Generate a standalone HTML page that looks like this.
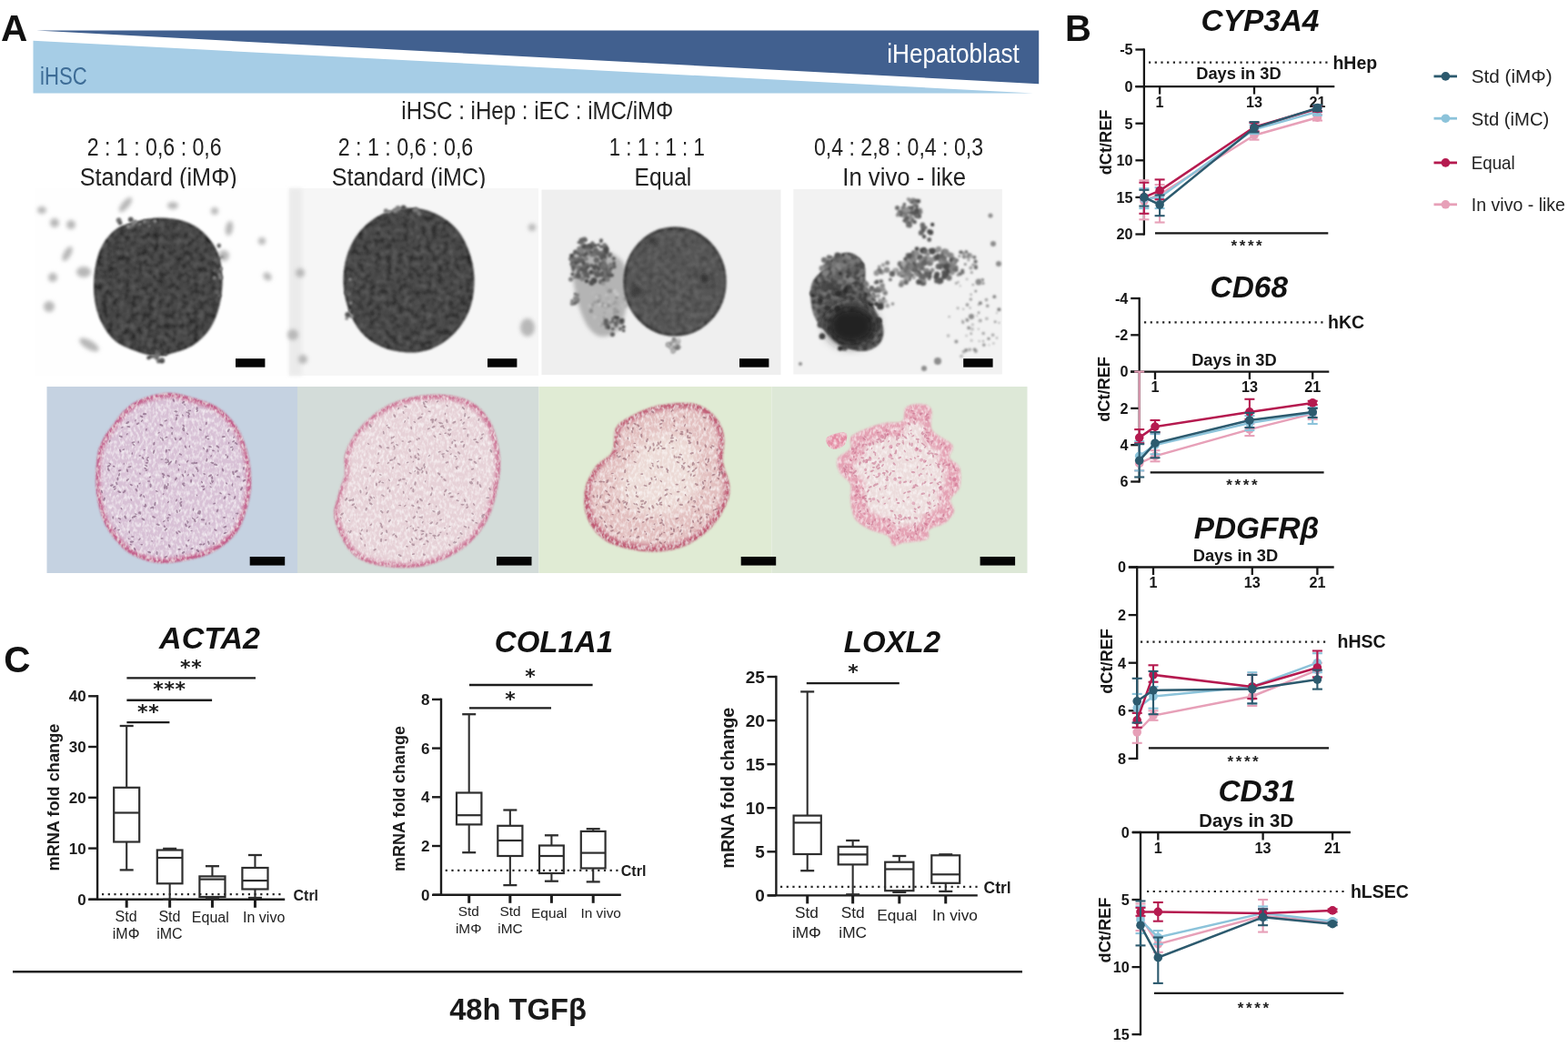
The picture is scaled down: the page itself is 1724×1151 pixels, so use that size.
<!DOCTYPE html>
<html><head><meta charset="utf-8"><title>Figure</title>
<style>html,body{margin:0;padding:0;background:#fff;} svg{display:block;}</style>
</head><body>
<svg width="1724" height="1151" viewBox="0 0 1724 1151" font-family="'Liberation Sans', Arial, sans-serif">
<defs>
<filter id="blur1" x="-20%" y="-20%" width="140%" height="140%"><feGaussianBlur stdDeviation="0.8"/></filter>
<filter id="blur2" x="-50%" y="-50%" width="200%" height="200%"><feGaussianBlur stdDeviation="2.2"/></filter>
<filter id="blur3" x="-50%" y="-50%" width="200%" height="200%"><feGaussianBlur stdDeviation="6"/></filter>
<filter id="blur25" x="-20%" y="-20%" width="140%" height="140%"><feGaussianBlur stdDeviation="2.5"/></filter>
<filter id="spher" x="-10%" y="-10%" width="120%" height="120%">
 <feTurbulence type="fractalNoise" baseFrequency="0.16" numOctaves="3" seed="4" result="n"/>
 <feColorMatrix in="n" type="matrix" values="0 0 0 0 0.36  0 0 0 0 0.36  0 0 0 0 0.36  0 0 0 0.42 -0.1" result="nm"/>
 <feComposite in="nm" in2="SourceGraphic" operator="in" result="nt"/>
 <feMerge result="m"><feMergeNode in="SourceGraphic"/><feMergeNode in="nt"/></feMerge>
 <feGaussianBlur in="m" stdDeviation="1.1"/>
</filter>
<filter id="spher2" x="-20%" y="-20%" width="140%" height="140%">
 <feTurbulence type="fractalNoise" baseFrequency="0.2" numOctaves="2" seed="9" result="n"/>
 <feColorMatrix in="n" type="matrix" values="0 0 0 0 0.3  0 0 0 0 0.3  0 0 0 0 0.3  0 0 0 1.6 -0.6" result="nm"/>
 <feComposite in="nm" in2="SourceGraphic" operator="in" result="nt"/>
 <feMerge result="m"><feMergeNode in="SourceGraphic"/><feMergeNode in="nt"/></feMerge>
 <feGaussianBlur in="m" stdDeviation="1.3"/>
</filter>
<filter id="histo" x="-5%" y="-5%" width="110%" height="110%">
 <feTurbulence type="fractalNoise" baseFrequency="0.35 0.2" numOctaves="2" seed="12" result="n"/>
 <feColorMatrix in="n" type="matrix" values="0 0 0 0 1  0 0 0 0 1  0 0 0 0 1  0 0 0 1.4 -0.55" result="nm"/>
 <feComposite in="nm" in2="SourceGraphic" operator="in" result="nt"/>
 <feMerge result="m"><feMergeNode in="SourceGraphic"/><feMergeNode in="nt"/></feMerge>
 <feGaussianBlur in="m" stdDeviation="0.7"/>
</filter>
</defs>
<rect width="1724" height="1151" fill="#fff"/>
<text x="1.0" y="45.2" font-size="40.5" text-anchor="start" font-weight="bold" font-style="normal" fill="#111" >A</text>
<polygon points="36.5,44.7 36.5,102.5 1136,102.5" fill="#a6cde6"/>
<polygon points="40,33.6 1142.2,33.6 1142.2,92.2" fill="#41608f"/>
<text x="44.0" y="93.4" font-size="27" text-anchor="start" font-weight="normal" font-style="normal" fill="#3d6c96" textLength="51.7" lengthAdjust="spacingAndGlyphs">iHSC</text>
<text x="975.3" y="69.4" font-size="29" text-anchor="start" font-weight="normal" font-style="normal" fill="#ffffff" textLength="145.5" lengthAdjust="spacingAndGlyphs">iHepatoblast</text>
<text x="441.3" y="130.5" font-size="27" text-anchor="start" font-weight="normal" font-style="normal" fill="#222" textLength="299" lengthAdjust="spacingAndGlyphs">iHSC : iHep : iEC : iMC/iMΦ</text>
<text x="95.7" y="170.5" font-size="27" text-anchor="start" font-weight="normal" font-style="normal" fill="#222" textLength="148" lengthAdjust="spacingAndGlyphs">2 : 1 : 0,6 : 0,6</text>
<text x="87.7" y="203.8" font-size="27" text-anchor="start" font-weight="normal" font-style="normal" fill="#222" textLength="173" lengthAdjust="spacingAndGlyphs">Standard (iMΦ)</text>
<text x="371.7" y="170.5" font-size="27" text-anchor="start" font-weight="normal" font-style="normal" fill="#222" textLength="148.6" lengthAdjust="spacingAndGlyphs">2 : 1 : 0,6 : 0,6</text>
<text x="364.8" y="203.8" font-size="27" text-anchor="start" font-weight="normal" font-style="normal" fill="#222" textLength="169.5" lengthAdjust="spacingAndGlyphs">Standard (iMC)</text>
<text x="669.8" y="170.5" font-size="27" text-anchor="start" font-weight="normal" font-style="normal" fill="#222" textLength="105" lengthAdjust="spacingAndGlyphs">1 : 1 : 1 : 1</text>
<text x="697.6" y="203.8" font-size="27" text-anchor="start" font-weight="normal" font-style="normal" fill="#222" textLength="62.7" lengthAdjust="spacingAndGlyphs">Equal</text>
<text x="895.0" y="170.5" font-size="27" text-anchor="start" font-weight="normal" font-style="normal" fill="#222" textLength="186" lengthAdjust="spacingAndGlyphs">0,4 : 2,8 : 0,4 : 0,3</text>
<text x="926.3" y="203.8" font-size="27" text-anchor="start" font-weight="normal" font-style="normal" fill="#222" textLength="135.7" lengthAdjust="spacingAndGlyphs">In vivo - like</text>
<rect x="38" y="207" width="280" height="206" fill="#fefefe"/>
<rect x="318" y="207" width="274" height="206" fill="#f6f6f6"/>
<rect x="318" y="207" width="14" height="206" fill="#ebebeb" filter="url(#blur2)"/>
<rect x="595.5" y="208.5" width="263" height="203.5" fill="#efefef"/>
<rect x="872.3" y="208" width="229.5" height="203.5" fill="#f2f2f2"/>
<g filter="url(#blur2)" fill="#b8b8b8">
<ellipse cx="46" cy="231" rx="5" ry="4" transform="rotate(0 46 231)"/>
<ellipse cx="60" cy="245" rx="5" ry="5" transform="rotate(0 60 245)"/>
<ellipse cx="78" cy="247" rx="5" ry="5" transform="rotate(0 78 247)"/>
<ellipse cx="138" cy="225" rx="10" ry="4" transform="rotate(-50 138 225)"/>
<ellipse cx="74" cy="279" rx="9" ry="4" transform="rotate(-60 74 279)"/>
<ellipse cx="58" cy="305" rx="5" ry="5" transform="rotate(0 58 305)"/>
<ellipse cx="92" cy="299" rx="8" ry="6" transform="rotate(0 92 299)"/>
<ellipse cx="54" cy="337" rx="6" ry="6" transform="rotate(0 54 337)"/>
<ellipse cx="98" cy="379" rx="12" ry="5" transform="rotate(30 98 379)"/>
<ellipse cx="236" cy="232" rx="4" ry="4" transform="rotate(0 236 232)"/>
<ellipse cx="252" cy="251" rx="4" ry="8" transform="rotate(10 252 251)"/>
<ellipse cx="288" cy="265" rx="4" ry="4" transform="rotate(0 288 265)"/>
<ellipse cx="294" cy="304" rx="5" ry="4" transform="rotate(40 294 304)"/>
<ellipse cx="246" cy="281" rx="6" ry="6" transform="rotate(0 246 281)"/>
<ellipse cx="190" cy="226" rx="6" ry="4" transform="rotate(0 190 226)"/>
<ellipse cx="330" cy="300" rx="5" ry="5" transform="rotate(0 330 300)"/>
<ellipse cx="322" cy="368" rx="6" ry="6" transform="rotate(0 322 368)"/>
<ellipse cx="333" cy="395" rx="5" ry="5" transform="rotate(0 333 395)"/>
<ellipse cx="580" cy="360" rx="8" ry="10" transform="rotate(0 580 360)"/>
<ellipse cx="585" cy="250" rx="4" ry="4" transform="rotate(0 585 250)"/>
</g>
<path d="M174.0,241.0 C182.3,240.8 192.0,241.5 200.0,244.0 C208.0,246.5 215.7,250.3 222.0,256.0 C228.3,261.7 234.5,269.8 238.0,278.0 C241.5,286.2 242.7,295.5 243.0,305.0 C243.3,314.5 242.2,325.8 240.0,335.0 C237.8,344.2 234.7,352.8 230.0,360.0 C225.3,367.2 218.3,373.7 212.0,378.0 C205.7,382.3 198.3,384.0 192.0,386.0 C185.7,388.0 180.3,390.0 174.0,390.0 C167.7,390.0 161.7,388.7 154.0,386.0 C146.3,383.3 135.0,379.7 128.0,374.0 C121.0,368.3 115.8,360.2 112.0,352.0 C108.2,343.8 106.0,334.5 105.0,325.0 C104.0,315.5 104.5,304.2 106.0,295.0 C107.5,285.8 110.0,277.2 114.0,270.0 C118.0,262.8 124.0,256.2 130.0,252.0 C136.0,247.8 142.7,246.8 150.0,245.0 C157.3,243.2 165.7,241.2 174.0,241.0 Z" fill="#2c2c2c" stroke="#1f1f1f" stroke-width="3" filter="url(#spher)"/>
<g filter="url(#blur1)"><circle cx="177.1" cy="396.3" r="2.2" fill="#626262"/><circle cx="174.3" cy="397.2" r="2.3" fill="#6c6c6c"/><circle cx="166.2" cy="391.9" r="2.1" fill="#3c3c3c"/><circle cx="169.3" cy="391.2" r="1.8" fill="#6b6b6b"/><circle cx="172.3" cy="393.2" r="2.6" fill="#777777"/><circle cx="178.7" cy="388.7" r="2.0" fill="#3e3e3e"/><circle cx="167.9" cy="392.0" r="2.1" fill="#757575"/><circle cx="178.1" cy="396.5" r="2.9" fill="#434343"/><circle cx="163.5" cy="393.3" r="2.2" fill="#505050"/><circle cx="172.9" cy="393.1" r="1.9" fill="#6f6f6f"/><circle cx="173.0" cy="389.3" r="2.8" fill="#767676"/><circle cx="172.3" cy="386.8" r="2.6" fill="#5e5e5e"/><circle cx="177.9" cy="394.9" r="1.8" fill="#6d6d6d"/><circle cx="182.0" cy="389.4" r="2.0" fill="#545454"/><circle cx="159.0" cy="244.5" r="3.0" fill="#474747"/><circle cx="153.5" cy="246.6" r="2.0" fill="#737373"/><circle cx="159.3" cy="243.5" r="2.0" fill="#898989"/><circle cx="130.6" cy="242.1" r="2.9" fill="#757575"/><circle cx="148.6" cy="243.9" r="2.4" fill="#838383"/><circle cx="145.9" cy="247.0" r="2.4" fill="#818181"/><circle cx="170.3" cy="243.3" r="2.3" fill="#898989"/><circle cx="143.8" cy="241.3" r="2.9" fill="#585858"/><circle cx="141.5" cy="249.1" r="2.5" fill="#888888"/><circle cx="164.2" cy="248.5" r="1.8" fill="#747474"/><circle cx="167.4" cy="246.1" r="2.9" fill="#484848"/><circle cx="132.0" cy="244.9" r="2.5" fill="#626262"/><circle cx="162.0" cy="243.6" r="2.4" fill="#606060"/><circle cx="144.3" cy="248.7" r="2.2" fill="#6c6c6c"/><circle cx="244.3" cy="282.3" r="1.6" fill="#8e8e8e"/><circle cx="237.3" cy="285.8" r="1.7" fill="#757575"/><circle cx="241.2" cy="324.9" r="2.2" fill="#5f5f5f"/><circle cx="241.4" cy="301.8" r="2.1" fill="#818181"/><circle cx="235.7" cy="297.3" r="1.6" fill="#696969"/><circle cx="240.8" cy="270.0" r="2.4" fill="#7e7e7e"/><circle cx="243.0" cy="295.6" r="2.1" fill="#858585"/><circle cx="236.3" cy="285.8" r="1.6" fill="#666666"/><circle cx="235.8" cy="305.5" r="2.2" fill="#797979"/><circle cx="238.7" cy="286.7" r="2.0" fill="#5c5c5c"/><circle cx="240.9" cy="283.8" r="1.6" fill="#585858"/><circle cx="242.5" cy="305.1" r="2.7" fill="#787878"/><circle cx="238.5" cy="321.3" r="2.0" fill="#646464"/><circle cx="240.6" cy="270.8" r="1.7" fill="#626262"/></g>
<path d="M449.0,230.0 C458.7,229.8 469.2,232.0 478.0,236.0 C486.8,240.0 495.7,246.3 502.0,254.0 C508.3,261.7 513.0,272.3 516.0,282.0 C519.0,291.7 520.3,302.0 520.0,312.0 C519.7,322.0 517.7,333.0 514.0,342.0 C510.3,351.0 504.7,359.3 498.0,366.0 C491.3,372.7 482.3,378.7 474.0,382.0 C465.7,385.3 457.0,386.3 448.0,386.0 C439.0,385.7 428.3,383.7 420.0,380.0 C411.7,376.3 404.0,371.0 398.0,364.0 C392.0,357.0 387.2,347.3 384.0,338.0 C380.8,328.7 379.0,318.0 379.0,308.0 C379.0,298.0 380.8,287.0 384.0,278.0 C387.2,269.0 392.0,260.8 398.0,254.0 C404.0,247.2 411.5,241.0 420.0,237.0 C428.5,233.0 439.3,230.2 449.0,230.0 Z" fill="#2f2f2f" stroke="#222" stroke-width="3" filter="url(#spher)"/>
<g filter="url(#blur1)"><circle cx="443.6" cy="228.4" r="3.0" fill="#525252"/><circle cx="456.0" cy="235.1" r="2.6" fill="#4c4c4c"/><circle cx="461.2" cy="234.7" r="2.6" fill="#787878"/><circle cx="427.3" cy="233.3" r="1.7" fill="#8b8b8b"/><circle cx="424.7" cy="231.6" r="2.2" fill="#797979"/><circle cx="440.8" cy="235.7" r="2.6" fill="#4b4b4b"/><circle cx="454.5" cy="230.7" r="2.0" fill="#5c5c5c"/><circle cx="434.4" cy="231.4" r="2.9" fill="#848484"/><circle cx="439.4" cy="235.5" r="1.6" fill="#4a4a4a"/><circle cx="437.6" cy="228.9" r="3.0" fill="#7f7f7f"/><circle cx="457.2" cy="230.4" r="2.9" fill="#797979"/><circle cx="463.6" cy="233.6" r="1.7" fill="#505050"/><circle cx="428.7" cy="232.4" r="1.7" fill="#8a8a8a"/><circle cx="424.0" cy="231.9" r="2.3" fill="#7b7b7b"/><circle cx="381.2" cy="350.2" r="1.8" fill="#8b8b8b"/><circle cx="386.2" cy="312.7" r="2.9" fill="#525252"/><circle cx="383.9" cy="346.6" r="2.4" fill="#6d6d6d"/><circle cx="386.4" cy="347.5" r="2.3" fill="#8a8a8a"/><circle cx="384.9" cy="307.2" r="1.8" fill="#898989"/><circle cx="382.3" cy="345.9" r="3.0" fill="#575757"/><circle cx="383.2" cy="322.9" r="2.1" fill="#787878"/><circle cx="384.6" cy="341.2" r="1.6" fill="#707070"/><circle cx="381.4" cy="321.7" r="2.8" fill="#585858"/><circle cx="385.6" cy="333.1" r="1.8" fill="#898989"/></g>
<path d="M640.0,272.0 C645.3,270.2 654.7,271.5 662.0,274.0 C669.3,276.5 679.3,281.0 684.0,287.0 C688.7,293.0 689.3,301.2 690.0,310.0 C690.7,318.8 689.7,331.3 688.0,340.0 C686.3,348.7 684.3,357.0 680.0,362.0 C675.7,367.0 667.5,370.3 662.0,370.0 C656.5,369.7 651.3,365.8 647.0,360.0 C642.7,354.2 638.8,344.2 636.0,335.0 C633.2,325.8 631.0,313.3 630.0,305.0 C629.0,296.7 628.3,290.5 630.0,285.0 C631.7,279.5 634.7,273.8 640.0,272.0 Z" fill="#b4b4b4" filter="url(#blur2)"/>
<g filter="url(#blur1)"><circle cx="660.7" cy="290.6" r="2.8" fill="#5d5d5d"/><circle cx="657.6" cy="295.6" r="3.0" fill="#535353"/><circle cx="665.4" cy="305.1" r="1.8" fill="#6d6d6d"/><circle cx="635.0" cy="286.7" r="3.4" fill="#5e5e5e"/><circle cx="655.1" cy="291.7" r="2.3" fill="#7e7e7e"/><circle cx="656.8" cy="302.0" r="3.3" fill="#5b5b5b"/><circle cx="655.0" cy="299.9" r="2.6" fill="#696969"/><circle cx="674.8" cy="284.2" r="2.0" fill="#5b5b5b"/><circle cx="665.4" cy="271.3" r="2.9" fill="#474747"/><circle cx="666.2" cy="276.9" r="3.0" fill="#535353"/><circle cx="650.6" cy="280.4" r="2.0" fill="#6c6c6c"/><circle cx="666.6" cy="293.3" r="2.3" fill="#5a5a5a"/><circle cx="637.6" cy="274.0" r="3.4" fill="#7f7f7f"/><circle cx="675.1" cy="289.2" r="1.9" fill="#585858"/><circle cx="638.3" cy="278.6" r="1.8" fill="#6e6e6e"/><circle cx="660.8" cy="309.8" r="2.9" fill="#6a6a6a"/><circle cx="665.5" cy="297.9" r="2.8" fill="#7c7c7c"/><circle cx="663.5" cy="289.5" r="3.0" fill="#616161"/><circle cx="630.3" cy="296.7" r="1.8" fill="#676767"/><circle cx="673.0" cy="302.7" r="1.9" fill="#4d4d4d"/><circle cx="640.8" cy="306.0" r="2.5" fill="#797979"/><circle cx="628.9" cy="290.2" r="2.3" fill="#565656"/><circle cx="636.2" cy="278.6" r="1.8" fill="#484848"/><circle cx="666.3" cy="304.3" r="3.4" fill="#6f6f6f"/><circle cx="653.4" cy="279.0" r="3.4" fill="#737373"/><circle cx="650.4" cy="291.9" r="2.1" fill="#5c5c5c"/><circle cx="654.5" cy="294.2" r="3.2" fill="#4d4d4d"/><circle cx="671.4" cy="295.3" r="1.9" fill="#525252"/><circle cx="658.1" cy="279.1" r="2.4" fill="#515151"/><circle cx="645.6" cy="275.0" r="2.3" fill="#797979"/><circle cx="630.2" cy="287.2" r="2.9" fill="#616161"/><circle cx="642.7" cy="291.7" r="3.0" fill="#4d4d4d"/><circle cx="651.2" cy="268.7" r="2.6" fill="#6f6f6f"/><circle cx="664.1" cy="307.6" r="2.4" fill="#4d4d4d"/><circle cx="662.2" cy="300.5" r="2.4" fill="#585858"/><circle cx="647.4" cy="274.3" r="3.0" fill="#545454"/><circle cx="649.8" cy="270.1" r="2.7" fill="#474747"/><circle cx="662.5" cy="283.2" r="3.1" fill="#525252"/><circle cx="641.2" cy="300.5" r="2.3" fill="#777777"/><circle cx="655.8" cy="299.7" r="2.9" fill="#5a5a5a"/><circle cx="636.6" cy="304.2" r="2.0" fill="#494949"/><circle cx="639.3" cy="279.2" r="3.3" fill="#636363"/><circle cx="650.1" cy="299.2" r="2.5" fill="#484848"/><circle cx="646.8" cy="304.5" r="1.6" fill="#464646"/><circle cx="635.5" cy="303.1" r="3.2" fill="#585858"/><circle cx="637.5" cy="283.3" r="2.0" fill="#747474"/><circle cx="633.1" cy="277.6" r="2.2" fill="#666666"/><circle cx="668.2" cy="299.5" r="2.3" fill="#515151"/><circle cx="627.7" cy="284.4" r="2.5" fill="#6e6e6e"/><circle cx="661.1" cy="280.5" r="2.8" fill="#5d5d5d"/><circle cx="640.5" cy="286.5" r="3.1" fill="#5e5e5e"/><circle cx="653.1" cy="308.5" r="3.3" fill="#484848"/><circle cx="646.0" cy="278.5" r="3.0" fill="#808080"/><circle cx="664.0" cy="294.1" r="3.4" fill="#636363"/><circle cx="655.6" cy="293.7" r="1.7" fill="#585858"/><circle cx="636.0" cy="298.7" r="1.9" fill="#606060"/><circle cx="675.1" cy="292.9" r="2.5" fill="#606060"/><circle cx="630.7" cy="292.5" r="3.1" fill="#7c7c7c"/><circle cx="649.8" cy="277.3" r="1.8" fill="#505050"/><circle cx="655.9" cy="285.9" r="3.2" fill="#686868"/><circle cx="644.9" cy="302.3" r="3.3" fill="#5f5f5f"/><circle cx="642.4" cy="271.5" r="2.9" fill="#484848"/><circle cx="636.3" cy="294.2" r="2.9" fill="#767676"/><circle cx="670.9" cy="279.9" r="2.4" fill="#7c7c7c"/><circle cx="630.4" cy="283.3" r="1.8" fill="#616161"/><circle cx="631.1" cy="279.5" r="1.8" fill="#7a7a7a"/><circle cx="642.9" cy="297.1" r="3.3" fill="#5a5a5a"/><circle cx="639.2" cy="295.9" r="2.4" fill="#565656"/><circle cx="644.6" cy="278.7" r="2.0" fill="#515151"/><circle cx="650.5" cy="310.9" r="3.0" fill="#505050"/><circle cx="669.9" cy="302.3" r="3.0" fill="#555555"/><circle cx="645.4" cy="292.5" r="3.0" fill="#4b4b4b"/><circle cx="634.5" cy="286.0" r="2.8" fill="#5b5b5b"/><circle cx="645.6" cy="290.6" r="2.2" fill="#6a6a6a"/><circle cx="663.0" cy="276.6" r="1.8" fill="#747474"/><circle cx="646.6" cy="273.4" r="3.2" fill="#797979"/><circle cx="633.0" cy="284.6" r="2.1" fill="#747474"/><circle cx="629.8" cy="284.6" r="2.6" fill="#696969"/><circle cx="667.8" cy="272.9" r="1.7" fill="#555555"/><circle cx="644.4" cy="284.5" r="2.5" fill="#808080"/><circle cx="629.0" cy="285.8" r="1.9" fill="#7a7a7a"/><circle cx="641.4" cy="292.7" r="1.8" fill="#616161"/><circle cx="663.1" cy="280.8" r="3.2" fill="#5d5d5d"/><circle cx="658.7" cy="278.6" r="2.8" fill="#636363"/><circle cx="655.7" cy="297.5" r="1.9" fill="#797979"/><circle cx="646.1" cy="271.8" r="2.2" fill="#696969"/><circle cx="666.4" cy="274.8" r="3.2" fill="#4a4a4a"/><circle cx="642.9" cy="281.0" r="1.8" fill="#505050"/><circle cx="661.0" cy="271.2" r="1.9" fill="#5a5a5a"/><circle cx="667.0" cy="296.3" r="1.7" fill="#575757"/><circle cx="645.0" cy="309.0" r="2.3" fill="#494949"/><circle cx="641.6" cy="289.2" r="1.7" fill="#484848"/><circle cx="667.9" cy="307.1" r="2.9" fill="#797979"/><circle cx="664.0" cy="282.6" r="3.2" fill="#545454"/><circle cx="632.4" cy="276.9" r="2.3" fill="#5b5b5b"/><circle cx="647.1" cy="269.8" r="2.1" fill="#4f4f4f"/><circle cx="671.4" cy="291.4" r="2.6" fill="#7d7d7d"/><circle cx="664.9" cy="304.7" r="1.8" fill="#6c6c6c"/><circle cx="670.1" cy="280.8" r="2.2" fill="#636363"/><circle cx="661.5" cy="302.7" r="2.0" fill="#5b5b5b"/><circle cx="639.2" cy="275.8" r="3.3" fill="#7f7f7f"/><circle cx="630.5" cy="294.0" r="2.4" fill="#5c5c5c"/><circle cx="628.5" cy="281.1" r="2.4" fill="#484848"/><circle cx="639.9" cy="306.9" r="2.4" fill="#7f7f7f"/><circle cx="669.6" cy="298.1" r="2.8" fill="#696969"/><circle cx="654.9" cy="275.2" r="3.0" fill="#666666"/><circle cx="664.6" cy="291.8" r="3.4" fill="#6f6f6f"/><circle cx="664.9" cy="285.9" r="2.1" fill="#808080"/><circle cx="642.1" cy="292.6" r="2.3" fill="#6a6a6a"/><circle cx="641.9" cy="270.2" r="2.8" fill="#4d4d4d"/><circle cx="676.2" cy="340.2" r="2.5" fill="#9e9e9e"/><circle cx="651.0" cy="335.5" r="1.9" fill="#929292"/><circle cx="676.0" cy="320.5" r="2.4" fill="#c4c4c4"/><circle cx="667.6" cy="335.5" r="1.4" fill="#b9b9b9"/><circle cx="685.1" cy="336.2" r="2.4" fill="#bebebe"/><circle cx="676.6" cy="331.9" r="1.4" fill="#909090"/><circle cx="674.6" cy="333.9" r="1.2" fill="#959595"/><circle cx="671.7" cy="336.4" r="1.4" fill="#a1a1a1"/><circle cx="660.9" cy="356.5" r="2.3" fill="#969696"/><circle cx="666.9" cy="317.0" r="2.3" fill="#aeaeae"/><circle cx="659.8" cy="329.0" r="1.5" fill="#9f9f9f"/><circle cx="651.9" cy="348.9" r="1.3" fill="#a5a5a5"/><circle cx="650.2" cy="338.1" r="2.2" fill="#a6a6a6"/><circle cx="672.2" cy="338.2" r="1.3" fill="#b3b3b3"/><circle cx="664.0" cy="349.1" r="1.3" fill="#979797"/><circle cx="687.5" cy="336.0" r="2.5" fill="#b5b5b5"/><circle cx="648.5" cy="336.2" r="2.1" fill="#bfbfbf"/><circle cx="653.9" cy="332.3" r="1.7" fill="#999999"/><circle cx="666.5" cy="324.5" r="1.9" fill="#bebebe"/><circle cx="653.6" cy="321.8" r="1.4" fill="#b2b2b2"/><circle cx="668.0" cy="335.8" r="2.5" fill="#8d8d8d"/><circle cx="651.6" cy="322.0" r="1.6" fill="#bababa"/><circle cx="686.8" cy="330.3" r="1.3" fill="#a7a7a7"/><circle cx="664.6" cy="343.9" r="1.3" fill="#a1a1a1"/><circle cx="663.5" cy="311.9" r="2.3" fill="#989898"/><circle cx="656.0" cy="326.6" r="1.7" fill="#c2c2c2"/><circle cx="669.6" cy="331.0" r="1.5" fill="#c5c5c5"/><circle cx="686.8" cy="335.5" r="2.1" fill="#b7b7b7"/><circle cx="669.2" cy="320.3" r="1.6" fill="#929292"/><circle cx="687.0" cy="328.2" r="1.8" fill="#999999"/><circle cx="649.9" cy="342.0" r="2.4" fill="#8c8c8c"/><circle cx="667.7" cy="352.8" r="1.3" fill="#939393"/><circle cx="678.5" cy="323.6" r="2.4" fill="#c6c6c6"/><circle cx="668.1" cy="328.4" r="2.6" fill="#afafaf"/><circle cx="662.9" cy="334.9" r="2.6" fill="#979797"/><circle cx="677.8" cy="333.3" r="2.2" fill="#9f9f9f"/><circle cx="659.4" cy="334.5" r="2.1" fill="#c7c7c7"/><circle cx="666.0" cy="337.7" r="2.3" fill="#aaaaaa"/><circle cx="670.6" cy="341.4" r="2.5" fill="#b7b7b7"/><circle cx="658.2" cy="346.5" r="1.9" fill="#b2b2b2"/><circle cx="675.3" cy="344.1" r="1.5" fill="#989898"/><circle cx="678.6" cy="342.9" r="2.4" fill="#999999"/><circle cx="659.4" cy="356.2" r="1.6" fill="#bcbcbc"/><circle cx="676.6" cy="350.0" r="1.9" fill="#a8a8a8"/><circle cx="678.4" cy="347.2" r="1.8" fill="#b9b9b9"/><circle cx="667.4" cy="358.0" r="2.6" fill="#9d9d9d"/><circle cx="667.6" cy="333.9" r="1.4" fill="#a6a6a6"/><circle cx="670.9" cy="319.8" r="2.5" fill="#919191"/><circle cx="672.7" cy="317.2" r="1.3" fill="#aeaeae"/><circle cx="678.9" cy="333.6" r="1.9" fill="#ababab"/><circle cx="665.3" cy="335.6" r="1.9" fill="#c1c1c1"/><circle cx="653.5" cy="348.8" r="2.2" fill="#bfbfbf"/><circle cx="677.9" cy="327.2" r="1.7" fill="#929292"/><circle cx="653.8" cy="322.3" r="2.1" fill="#b8b8b8"/><circle cx="654.8" cy="323.4" r="1.2" fill="#aeaeae"/><circle cx="657.9" cy="331.4" r="2.1" fill="#909090"/><circle cx="673.7" cy="324.3" r="2.1" fill="#b4b4b4"/><circle cx="660.2" cy="314.6" r="1.3" fill="#b5b5b5"/><circle cx="659.2" cy="325.5" r="2.1" fill="#a5a5a5"/><circle cx="675.3" cy="351.9" r="1.3" fill="#c4c4c4"/><circle cx="638.5" cy="265.6" r="1.9" fill="#787878"/><circle cx="641.3" cy="262.6" r="1.8" fill="#7d7d7d"/><circle cx="642.7" cy="263.5" r="2.9" fill="#696969"/><circle cx="639.5" cy="267.2" r="2.5" fill="#7f7f7f"/><circle cx="647.2" cy="271.7" r="1.6" fill="#686868"/><circle cx="639.3" cy="264.2" r="2.8" fill="#656565"/><circle cx="660.7" cy="265.7" r="1.7" fill="#727272"/><circle cx="664.9" cy="270.4" r="1.8" fill="#5e5e5e"/><circle cx="661.0" cy="264.3" r="2.0" fill="#565656"/><circle cx="650.4" cy="271.7" r="2.3" fill="#505050"/><circle cx="646.6" cy="272.1" r="1.7" fill="#595959"/><circle cx="664.6" cy="269.3" r="2.3" fill="#757575"/><circle cx="654.4" cy="269.9" r="2.0" fill="#555555"/><circle cx="657.9" cy="269.3" r="1.8" fill="#5a5a5a"/><circle cx="643.8" cy="264.1" r="2.0" fill="#676767"/><circle cx="636.2" cy="266.5" r="1.6" fill="#5f5f5f"/><circle cx="640.2" cy="268.5" r="1.7" fill="#777777"/><circle cx="651.4" cy="267.4" r="2.2" fill="#6b6b6b"/><circle cx="666.1" cy="355.4" r="2.8" fill="#6b6b6b"/><circle cx="673.4" cy="367.6" r="2.6" fill="#626262"/><circle cx="676.4" cy="348.4" r="2.0" fill="#535353"/><circle cx="674.1" cy="350.5" r="2.0" fill="#6b6b6b"/><circle cx="677.2" cy="357.7" r="2.1" fill="#6a6a6a"/><circle cx="685.7" cy="359.3" r="1.9" fill="#484848"/><circle cx="673.8" cy="361.5" r="1.6" fill="#4e4e4e"/><circle cx="678.0" cy="355.6" r="1.6" fill="#4e4e4e"/><circle cx="683.5" cy="354.0" r="3.0" fill="#6f6f6f"/><circle cx="668.5" cy="358.2" r="1.9" fill="#595959"/><circle cx="666.2" cy="352.5" r="2.6" fill="#5f5f5f"/><circle cx="684.4" cy="352.1" r="2.3" fill="#676767"/><circle cx="682.0" cy="361.5" r="2.2" fill="#707070"/><circle cx="673.4" cy="353.4" r="1.8" fill="#636363"/><circle cx="678.4" cy="349.2" r="2.5" fill="#464646"/><circle cx="685.7" cy="363.5" r="1.7" fill="#4e4e4e"/><circle cx="683.3" cy="353.1" r="2.2" fill="#464646"/><circle cx="678.3" cy="354.4" r="1.9" fill="#6b6b6b"/><circle cx="668.9" cy="360.2" r="2.1" fill="#484848"/><circle cx="666.7" cy="356.9" r="1.8" fill="#606060"/><circle cx="670.9" cy="354.7" r="1.6" fill="#737373"/><circle cx="676.6" cy="355.1" r="2.0" fill="#626262"/><circle cx="666.4" cy="360.1" r="1.5" fill="#6d6d6d"/><circle cx="683.2" cy="352.6" r="2.5" fill="#4b4b4b"/><circle cx="678.7" cy="352.3" r="1.7" fill="#717171"/><circle cx="629.2" cy="333.8" r="2.5" fill="#898989"/><circle cx="633.4" cy="289.3" r="2.1" fill="#505050"/><circle cx="632.1" cy="333.4" r="2.0" fill="#696969"/><circle cx="627.6" cy="307.0" r="2.6" fill="#818181"/><circle cx="629.0" cy="330.5" r="1.8" fill="#858585"/><circle cx="635.0" cy="324.3" r="2.0" fill="#7d7d7d"/><circle cx="634.0" cy="331.2" r="2.5" fill="#636363"/><circle cx="634.3" cy="328.8" r="2.6" fill="#676767"/><circle cx="635.6" cy="329.9" r="1.8" fill="#696969"/><circle cx="633.1" cy="329.0" r="2.6" fill="#878787"/><circle cx="636.4" cy="304.8" r="2.0" fill="#5e5e5e"/><circle cx="630.1" cy="301.0" r="1.4" fill="#8b8b8b"/><circle cx="632.3" cy="323.2" r="1.4" fill="#5a5a5a"/><circle cx="632.2" cy="327.3" r="2.0" fill="#888888"/><circle cx="629.5" cy="301.6" r="2.0" fill="#5a5a5a"/><circle cx="631.8" cy="304.8" r="1.6" fill="#767676"/></g>
<g filter="url(#blur1)"><circle cx="734.7" cy="379.0" r="2.4" fill="none" stroke="#9d9d9d" stroke-width="1.2"/><circle cx="745.5" cy="377.1" r="1.8" fill="none" stroke="#a5a5a5" stroke-width="1.2"/><circle cx="740.5" cy="382.0" r="1.4" fill="none" stroke="#828282" stroke-width="1.2"/><circle cx="740.4" cy="385.4" r="2.2" fill="none" stroke="#989898" stroke-width="1.2"/><circle cx="743.4" cy="380.9" r="1.9" fill="none" stroke="#6e6e6e" stroke-width="1.2"/><circle cx="745.8" cy="374.7" r="2.0" fill="none" stroke="#a4a4a4" stroke-width="1.2"/><circle cx="738.3" cy="377.1" r="1.5" fill="none" stroke="#737373" stroke-width="1.2"/><circle cx="734.7" cy="378.8" r="1.7" fill="none" stroke="#878787" stroke-width="1.2"/><circle cx="737.5" cy="381.6" r="2.0" fill="none" stroke="#9b9b9b" stroke-width="1.2"/><circle cx="741.4" cy="373.7" r="1.4" fill="none" stroke="#707070" stroke-width="1.2"/><circle cx="739.7" cy="386.5" r="1.7" fill="none" stroke="#999999" stroke-width="1.2"/><circle cx="742.4" cy="376.0" r="1.3" fill="none" stroke="#9f9f9f" stroke-width="1.2"/><circle cx="741.0" cy="373.1" r="1.8" fill="none" stroke="#7b7b7b" stroke-width="1.2"/><circle cx="744.7" cy="382.7" r="1.6" fill="none" stroke="#6c6c6c" stroke-width="1.2"/><circle cx="746.0" cy="381.6" r="1.9" fill="none" stroke="#626262" stroke-width="1.2"/><circle cx="737.9" cy="381.9" r="1.6" fill="none" stroke="#a5a5a5" stroke-width="1.2"/></g>
<ellipse cx="742" cy="309.5" rx="55.2" ry="58.8" fill="#464646" stroke="#2a2a2a" stroke-width="3" filter="url(#spher)"/>
<g filter="url(#blur2)" opacity="0.7"><circle cx="775" cy="306" r="5" fill="#222"/><circle cx="717" cy="265" r="4" fill="#2a2a2a"/><circle cx="700" cy="320" r="6" fill="#333"/></g>
<g filter="url(#blur1)">
<circle cx="1008.7" cy="298.5" r="3.4" fill="#535353"/><circle cx="996.5" cy="284.2" r="2.5" fill="#727272"/><circle cx="1017.2" cy="276.9" r="3.0" fill="#848484"/><circle cx="1031.3" cy="280.8" r="2.1" fill="#525252"/><circle cx="1017.8" cy="283.9" r="2.9" fill="#7a7a7a"/><circle cx="1046.4" cy="298.5" r="3.4" fill="#484848"/><circle cx="1028.0" cy="284.2" r="3.1" fill="#808080"/><circle cx="1038.5" cy="303.6" r="3.4" fill="#4f4f4f"/><circle cx="1008.1" cy="273.6" r="2.4" fill="#4a4a4a"/><circle cx="1001.8" cy="281.3" r="3.4" fill="#545454"/><circle cx="1030.0" cy="283.0" r="3.0" fill="#515151"/><circle cx="998.2" cy="301.0" r="2.5" fill="#6d6d6d"/><circle cx="1031.6" cy="293.0" r="3.1" fill="#6a6a6a"/><circle cx="995.3" cy="299.8" r="3.4" fill="#717171"/><circle cx="1009.8" cy="282.6" r="1.9" fill="#515151"/><circle cx="1048.8" cy="296.6" r="3.2" fill="#8b8b8b"/><circle cx="1040.1" cy="302.3" r="3.4" fill="#505050"/><circle cx="1004.5" cy="277.7" r="2.6" fill="#767676"/><circle cx="1038.2" cy="276.0" r="2.6" fill="#595959"/><circle cx="1017.3" cy="275.6" r="2.6" fill="#666666"/><circle cx="1036.5" cy="289.9" r="3.0" fill="#565656"/><circle cx="1014.9" cy="310.7" r="3.5" fill="#606060"/><circle cx="998.1" cy="304.9" r="3.1" fill="#828282"/><circle cx="1022.9" cy="299.9" r="2.1" fill="#484848"/><circle cx="1015.9" cy="287.6" r="2.8" fill="#585858"/><circle cx="1030.3" cy="301.5" r="3.0" fill="#585858"/><circle cx="1043.5" cy="305.5" r="3.1" fill="#757575"/><circle cx="998.6" cy="287.4" r="3.4" fill="#939393"/><circle cx="1022.4" cy="288.9" r="3.5" fill="#757575"/><circle cx="1005.2" cy="281.1" r="2.1" fill="#797979"/><circle cx="1016.0" cy="274.5" r="2.7" fill="#4b4b4b"/><circle cx="1004.3" cy="285.3" r="3.5" fill="#7c7c7c"/><circle cx="1034.8" cy="285.8" r="3.3" fill="#525252"/><circle cx="997.8" cy="280.2" r="2.3" fill="#8b8b8b"/><circle cx="1005.0" cy="286.3" r="3.0" fill="#858585"/><circle cx="1021.6" cy="306.1" r="2.2" fill="#757575"/><circle cx="1029.1" cy="304.6" r="2.7" fill="#4b4b4b"/><circle cx="1047.0" cy="285.3" r="3.3" fill="#4a4a4a"/><circle cx="1014.4" cy="275.5" r="3.2" fill="#484848"/><circle cx="1029.6" cy="308.9" r="2.5" fill="#5f5f5f"/><circle cx="1034.0" cy="308.5" r="3.4" fill="#575757"/><circle cx="1007.7" cy="291.3" r="2.8" fill="#7a7a7a"/><circle cx="1048.6" cy="295.1" r="1.8" fill="#5b5b5b"/><circle cx="1022.8" cy="275.0" r="2.1" fill="#646464"/><circle cx="995.8" cy="289.4" r="2.7" fill="#7d7d7d"/><circle cx="995.3" cy="285.0" r="2.1" fill="#555555"/><circle cx="992.3" cy="293.7" r="3.3" fill="#868686"/><circle cx="994.9" cy="298.3" r="2.5" fill="#4e4e4e"/><circle cx="1046.7" cy="299.4" r="3.0" fill="#959595"/><circle cx="1020.3" cy="279.8" r="2.0" fill="#858585"/><circle cx="1007.0" cy="300.6" r="2.1" fill="#8b8b8b"/><circle cx="1025.2" cy="297.0" r="2.4" fill="#898989"/><circle cx="1034.7" cy="285.6" r="2.2" fill="#888888"/><circle cx="1045.8" cy="280.7" r="3.0" fill="#8c8c8c"/><circle cx="1044.3" cy="280.4" r="2.3" fill="#939393"/><circle cx="1036.6" cy="277.7" r="2.1" fill="#616161"/><circle cx="1037.8" cy="283.9" r="3.4" fill="#707070"/><circle cx="1004.0" cy="293.0" r="2.8" fill="#7c7c7c"/><circle cx="1016.3" cy="308.5" r="2.2" fill="#8e8e8e"/><circle cx="1030.7" cy="276.0" r="2.1" fill="#6f6f6f"/><circle cx="1011.4" cy="282.9" r="3.3" fill="#5a5a5a"/><circle cx="1018.7" cy="298.0" r="3.6" fill="#898989"/><circle cx="1013.1" cy="304.0" r="3.2" fill="#717171"/><circle cx="1045.7" cy="293.2" r="3.5" fill="#585858"/><circle cx="993.3" cy="301.9" r="3.0" fill="#6a6a6a"/><circle cx="1034.0" cy="294.1" r="2.5" fill="#5d5d5d"/><circle cx="1029.7" cy="303.5" r="2.8" fill="#4d4d4d"/><circle cx="1048.8" cy="287.7" r="3.6" fill="#777777"/><circle cx="1016.6" cy="276.2" r="1.9" fill="#6a6a6a"/><circle cx="1043.7" cy="280.2" r="3.0" fill="#868686"/><circle cx="1032.0" cy="273.9" r="3.2" fill="#939393"/><circle cx="1051.0" cy="294.0" r="2.6" fill="#737373"/><circle cx="1004.9" cy="296.4" r="2.9" fill="#484848"/><circle cx="1013.0" cy="288.0" r="3.4" fill="#8f8f8f"/><circle cx="1035.5" cy="281.0" r="2.6" fill="#646464"/><circle cx="998.5" cy="306.2" r="3.4" fill="#8f8f8f"/><circle cx="997.3" cy="290.2" r="2.3" fill="#7c7c7c"/><circle cx="1032.8" cy="310.2" r="2.3" fill="#5b5b5b"/><circle cx="1010.5" cy="292.3" r="2.1" fill="#6f6f6f"/><circle cx="1024.4" cy="287.0" r="2.3" fill="#868686"/><circle cx="1026.8" cy="274.6" r="2.1" fill="#929292"/><circle cx="1032.3" cy="291.3" r="1.8" fill="#626262"/><circle cx="1010.8" cy="292.2" r="3.5" fill="#727272"/><circle cx="1025.1" cy="276.2" r="3.6" fill="#4d4d4d"/><circle cx="999.4" cy="306.6" r="2.3" fill="#515151"/><circle cx="1046.2" cy="286.4" r="2.6" fill="#545454"/><circle cx="1004.5" cy="289.4" r="2.0" fill="#575757"/><circle cx="999.4" cy="291.2" r="2.7" fill="#616161"/><circle cx="1008.7" cy="302.2" r="2.1" fill="#838383"/><circle cx="1037.7" cy="299.5" r="2.7" fill="#5d5d5d"/><circle cx="1039.8" cy="277.0" r="3.5" fill="#878787"/><circle cx="1022.3" cy="303.7" r="2.3" fill="#4e4e4e"/><circle cx="1019.0" cy="301.8" r="3.5" fill="#606060"/><circle cx="989.8" cy="290.2" r="3.1" fill="#707070"/><circle cx="1008.1" cy="278.5" r="2.9" fill="#8f8f8f"/><circle cx="1004.7" cy="291.8" r="2.6" fill="#4d4d4d"/><circle cx="1010.4" cy="296.0" r="1.8" fill="#929292"/><circle cx="1005.2" cy="295.6" r="3.3" fill="#666666"/><circle cx="1039.7" cy="289.2" r="3.4" fill="#7e7e7e"/><circle cx="1015.0" cy="304.2" r="3.3" fill="#686868"/><circle cx="1010.1" cy="309.9" r="3.0" fill="#545454"/><circle cx="1016.0" cy="289.3" r="3.3" fill="#606060"/><circle cx="1013.8" cy="294.8" r="2.8" fill="#6b6b6b"/><circle cx="999.6" cy="294.5" r="3.0" fill="#919191"/><circle cx="999.9" cy="296.6" r="2.2" fill="#838383"/><circle cx="992.3" cy="294.0" r="2.1" fill="#4d4d4d"/><circle cx="1044.9" cy="297.1" r="3.0" fill="#868686"/><circle cx="1015.8" cy="289.6" r="2.6" fill="#636363"/><circle cx="1011.7" cy="300.6" r="2.2" fill="#636363"/><circle cx="1041.9" cy="298.4" r="2.6" fill="#474747"/><circle cx="996.5" cy="302.4" r="2.6" fill="#7e7e7e"/><circle cx="1047.0" cy="292.6" r="2.9" fill="#7f7f7f"/><circle cx="1042.4" cy="291.2" r="2.8" fill="#656565"/><circle cx="1040.0" cy="301.7" r="3.0" fill="#505050"/><circle cx="999.8" cy="281.3" r="3.1" fill="#545454"/><circle cx="1049.8" cy="285.0" r="2.1" fill="#838383"/><circle cx="1022.0" cy="283.7" r="1.9" fill="#949494"/><circle cx="1040.2" cy="293.3" r="3.5" fill="#4c4c4c"/><circle cx="1034.8" cy="287.7" r="2.4" fill="#8b8b8b"/><circle cx="1024.7" cy="285.6" r="2.6" fill="#919191"/>
<circle cx="998.6" cy="230.1" r="2.0" fill="#636363"/><circle cx="999.0" cy="218.9" r="1.7" fill="#8e8e8e"/><circle cx="997.9" cy="233.3" r="2.4" fill="#5f5f5f"/><circle cx="1006.2" cy="233.2" r="2.5" fill="#7d7d7d"/><circle cx="1002.0" cy="244.1" r="1.6" fill="#888888"/><circle cx="1004.0" cy="219.4" r="1.8" fill="#676767"/><circle cx="1007.8" cy="229.5" r="1.8" fill="#565656"/><circle cx="1006.3" cy="221.8" r="2.8" fill="#888888"/><circle cx="986.5" cy="228.4" r="2.5" fill="#6a6a6a"/><circle cx="1005.3" cy="221.0" r="2.5" fill="#8c8c8c"/><circle cx="999.2" cy="228.7" r="2.1" fill="#5f5f5f"/><circle cx="1005.9" cy="235.7" r="2.0" fill="#575757"/><circle cx="994.4" cy="224.7" r="1.9" fill="#696969"/><circle cx="998.6" cy="247.4" r="2.6" fill="#7d7d7d"/><circle cx="1005.7" cy="244.0" r="2.2" fill="#5b5b5b"/><circle cx="1011.2" cy="231.2" r="2.7" fill="#767676"/><circle cx="1006.8" cy="220.2" r="1.7" fill="#606060"/><circle cx="997.1" cy="239.6" r="3.1" fill="#5e5e5e"/><circle cx="1005.6" cy="225.7" r="2.2" fill="#7d7d7d"/><circle cx="1008.1" cy="226.5" r="2.0" fill="#626262"/><circle cx="993.4" cy="228.9" r="3.0" fill="#787878"/><circle cx="994.7" cy="236.4" r="2.4" fill="#959595"/><circle cx="1002.6" cy="233.9" r="2.6" fill="#575757"/><circle cx="1002.4" cy="222.0" r="2.2" fill="#545454"/><circle cx="1010.2" cy="231.7" r="3.0" fill="#939393"/><circle cx="1011.9" cy="233.0" r="2.5" fill="#7f7f7f"/><circle cx="998.8" cy="244.7" r="2.3" fill="#575757"/><circle cx="986.9" cy="236.5" r="2.0" fill="#8d8d8d"/><circle cx="994.1" cy="232.0" r="3.0" fill="#8f8f8f"/><circle cx="996.6" cy="244.2" r="1.8" fill="#7a7a7a"/><circle cx="1000.8" cy="220.3" r="2.4" fill="#868686"/><circle cx="1008.0" cy="232.0" r="3.1" fill="#515151"/><circle cx="1009.2" cy="221.9" r="1.7" fill="#656565"/><circle cx="1009.8" cy="221.2" r="2.4" fill="#555555"/><circle cx="1011.1" cy="237.9" r="1.8" fill="#858585"/><circle cx="989.7" cy="233.8" r="3.0" fill="#626262"/><circle cx="994.3" cy="235.4" r="2.8" fill="#757575"/><circle cx="1002.4" cy="240.5" r="2.6" fill="#959595"/><circle cx="990.7" cy="236.4" r="2.0" fill="#585858"/><circle cx="994.4" cy="242.4" r="2.0" fill="#606060"/><circle cx="1010.0" cy="237.5" r="3.0" fill="#606060"/><circle cx="1002.4" cy="228.7" r="2.7" fill="#606060"/><circle cx="1001.1" cy="237.7" r="2.5" fill="#919191"/><circle cx="987.8" cy="234.4" r="1.9" fill="#888888"/><circle cx="1007.5" cy="238.0" r="2.3" fill="#6d6d6d"/><circle cx="998.5" cy="219.0" r="1.8" fill="#949494"/><circle cx="993.3" cy="237.4" r="2.0" fill="#8c8c8c"/><circle cx="1003.4" cy="242.0" r="2.0" fill="#6d6d6d"/><circle cx="1000.0" cy="247.4" r="3.0" fill="#6f6f6f"/><circle cx="997.0" cy="230.9" r="2.9" fill="#959595"/>
<circle cx="1002.8" cy="302.8" r="2.4" fill="#6e6e6e"/><circle cx="975.7" cy="289.0" r="2.5" fill="#838383"/><circle cx="999.4" cy="301.1" r="3.1" fill="#7e7e7e"/><circle cx="966.7" cy="296.5" r="1.9" fill="#828282"/><circle cx="996.8" cy="289.8" r="1.8" fill="#7e7e7e"/><circle cx="969.6" cy="299.2" r="2.7" fill="#9a9a9a"/><circle cx="968.3" cy="299.6" r="1.7" fill="#7e7e7e"/><circle cx="1004.8" cy="305.1" r="2.1" fill="#9e9e9e"/><circle cx="997.2" cy="293.5" r="3.1" fill="#6b6b6b"/><circle cx="966.7" cy="293.2" r="1.8" fill="#939393"/><circle cx="971.0" cy="291.3" r="2.2" fill="#a2a2a2"/><circle cx="966.9" cy="297.9" r="3.1" fill="#6f6f6f"/><circle cx="985.9" cy="296.9" r="2.3" fill="#8d8d8d"/><circle cx="991.7" cy="310.0" r="2.6" fill="#a7a7a7"/><circle cx="996.7" cy="306.4" r="3.3" fill="#9a9a9a"/><circle cx="984.0" cy="297.2" r="2.7" fill="#a7a7a7"/><circle cx="991.8" cy="302.5" r="2.8" fill="#6a6a6a"/><circle cx="996.2" cy="310.4" r="2.6" fill="#6b6b6b"/><circle cx="981.0" cy="301.0" r="3.2" fill="#646464"/><circle cx="992.7" cy="299.3" r="3.4" fill="#979797"/><circle cx="1002.0" cy="292.5" r="2.9" fill="#7b7b7b"/><circle cx="963.7" cy="300.2" r="3.1" fill="#959595"/><circle cx="993.5" cy="293.2" r="1.8" fill="#959595"/><circle cx="990.8" cy="313.0" r="2.8" fill="#808080"/><circle cx="975.0" cy="296.7" r="3.2" fill="#8d8d8d"/><circle cx="978.9" cy="307.3" r="1.9" fill="#717171"/><circle cx="993.6" cy="289.6" r="2.8" fill="#a7a7a7"/><circle cx="995.0" cy="298.3" r="2.0" fill="#717171"/><circle cx="968.7" cy="309.3" r="2.4" fill="#737373"/><circle cx="988.4" cy="300.9" r="2.7" fill="#8a8a8a"/>
<circle cx="961.3" cy="334.0" r="1.8" fill="#a1a1a1"/><circle cx="970.4" cy="331.7" r="1.6" fill="#747474"/><circle cx="975.6" cy="336.0" r="2.6" fill="#a9a9a9"/><circle cx="963.6" cy="334.4" r="2.1" fill="#979797"/><circle cx="981.5" cy="334.1" r="1.8" fill="#939393"/><circle cx="973.9" cy="331.3" r="1.8" fill="#a7a7a7"/><circle cx="960.3" cy="323.0" r="2.1" fill="#707070"/><circle cx="956.7" cy="331.4" r="2.0" fill="#797979"/><circle cx="970.0" cy="332.2" r="2.7" fill="#969696"/><circle cx="967.5" cy="330.8" r="2.6" fill="#989898"/><circle cx="965.4" cy="325.3" r="2.5" fill="#9f9f9f"/><circle cx="961.3" cy="326.1" r="2.2" fill="#7b7b7b"/><circle cx="973.2" cy="322.0" r="2.7" fill="#828282"/><circle cx="971.6" cy="328.2" r="1.9" fill="#777777"/>
<circle cx="1058.7" cy="299.7" r="1.7" fill="#696969"/><circle cx="1061.3" cy="290.6" r="1.4" fill="#777777"/><circle cx="1055.5" cy="301.2" r="2.1" fill="#666666"/><circle cx="1068.3" cy="299.4" r="1.5" fill="#979797"/><circle cx="1066.9" cy="280.3" r="1.8" fill="#696969"/><circle cx="1055.9" cy="277.2" r="1.6" fill="#707070"/><circle cx="1062.2" cy="276.4" r="1.3" fill="#6a6a6a"/><circle cx="1060.1" cy="282.1" r="2.4" fill="#7f7f7f"/><circle cx="1059.7" cy="278.6" r="2.2" fill="#a0a0a0"/><circle cx="1064.1" cy="279.6" r="1.3" fill="#8d8d8d"/><circle cx="1071.3" cy="282.8" r="2.1" fill="#7c7c7c"/><circle cx="1069.8" cy="291.0" r="1.6" fill="#8f8f8f"/><circle cx="1049.0" cy="296.5" r="1.8" fill="#6e6e6e"/><circle cx="1067.4" cy="294.5" r="2.1" fill="#a1a1a1"/><circle cx="1072.8" cy="292.4" r="1.9" fill="#929292"/><circle cx="1058.2" cy="297.5" r="2.1" fill="#707070"/><circle cx="1072.9" cy="294.2" r="2.1" fill="#6b6b6b"/><circle cx="1052.5" cy="286.1" r="1.8" fill="#777777"/><circle cx="1053.4" cy="302.1" r="1.9" fill="#919191"/><circle cx="1054.9" cy="281.6" r="1.2" fill="#6e6e6e"/><circle cx="1072.6" cy="287.6" r="2.1" fill="#6a6a6a"/><circle cx="1062.9" cy="277.1" r="1.4" fill="#686868"/><circle cx="1051.5" cy="296.8" r="2.2" fill="#696969"/><circle cx="1060.3" cy="280.6" r="1.7" fill="#9f9f9f"/><circle cx="1064.3" cy="282.5" r="1.7" fill="#808080"/><circle cx="1056.7" cy="277.3" r="2.0" fill="#696969"/><circle cx="1066.0" cy="280.0" r="1.7" fill="#747474"/><circle cx="1064.9" cy="285.7" r="1.7" fill="#a6a6a6"/><circle cx="1048.3" cy="288.5" r="2.0" fill="#939393"/><circle cx="1067.5" cy="281.7" r="2.1" fill="#a4a4a4"/>
<circle cx="1084.5" cy="329.6" r="1.8" fill="#a1a1a1"/><circle cx="1072.9" cy="385.6" r="1.9" fill="#a0a0a0"/><circle cx="1077.7" cy="352.6" r="1.8" fill="#8e8e8e"/><circle cx="1076.1" cy="334.7" r="1.5" fill="#b8b8b8"/><circle cx="1098.4" cy="340.3" r="2.0" fill="#7e7e7e"/><circle cx="1058.3" cy="352.6" r="1.0" fill="#989898"/><circle cx="1069.8" cy="313.1" r="1.1" fill="#7f7f7f"/><circle cx="1043.6" cy="348.2" r="1.0" fill="#8b8b8b"/><circle cx="1065.2" cy="360.4" r="1.9" fill="#8f8f8f"/><circle cx="1076.7" cy="375.1" r="1.1" fill="#aeaeae"/><circle cx="1081.2" cy="366.5" r="1.7" fill="#a2a2a2"/><circle cx="1066.6" cy="338.6" r="1.0" fill="#8b8b8b"/><circle cx="1053.1" cy="338.8" r="1.5" fill="#acacac"/><circle cx="1059.2" cy="339.8" r="1.0" fill="#9d9d9d"/><circle cx="1092.4" cy="377.4" r="0.9" fill="#848484"/><circle cx="1067.3" cy="329.0" r="1.5" fill="#8d8d8d"/><circle cx="1074.2" cy="347.2" r="0.9" fill="#a5a5a5"/><circle cx="1072.8" cy="320.1" r="1.3" fill="#7e7e7e"/><circle cx="1063.5" cy="335.1" r="1.8" fill="#929292"/><circle cx="1080.9" cy="311.4" r="1.7" fill="#989898"/><circle cx="1081.0" cy="374.9" r="1.0" fill="#8d8d8d"/><circle cx="1076.7" cy="352.9" r="1.3" fill="#bcbcbc"/><circle cx="1059.7" cy="386.7" r="1.9" fill="#aaaaaa"/><circle cx="1076.1" cy="343.7" r="1.3" fill="#898989"/><circle cx="1062.2" cy="385.0" r="1.9" fill="#888888"/><circle cx="1056.6" cy="391.7" r="1.6" fill="#b8b8b8"/><circle cx="1069.0" cy="361.8" r="1.9" fill="#bdbdbd"/><circle cx="1062.6" cy="350.8" r="1.2" fill="#adadad"/><circle cx="1042.6" cy="369.1" r="1.8" fill="#b8b8b8"/><circle cx="1091.6" cy="368.3" r="1.7" fill="#a2a2a2"/><circle cx="1098.5" cy="354.8" r="0.9" fill="#838383"/><circle cx="1055.8" cy="314.2" r="1.0" fill="#aaaaaa"/><circle cx="1072.8" cy="386.6" r="1.7" fill="#a2a2a2"/><circle cx="1094.2" cy="353.7" r="1.3" fill="#868686"/><circle cx="1081.8" cy="379.2" r="1.6" fill="#898989"/><circle cx="1067.7" cy="366.8" r="1.2" fill="#8f8f8f"/><circle cx="1061.6" cy="397.8" r="1.9" fill="#a1a1a1"/><circle cx="1051.3" cy="311.4" r="1.4" fill="#9a9a9a"/><circle cx="1068.1" cy="374.3" r="1.4" fill="#b7b7b7"/><circle cx="1053.6" cy="310.2" r="1.1" fill="#9d9d9d"/><circle cx="1063.1" cy="306.9" r="1.4" fill="#b9b9b9"/><circle cx="1087.5" cy="379.3" r="0.9" fill="#afafaf"/><circle cx="1080.3" cy="307.6" r="1.6" fill="#7c7c7c"/><circle cx="1087.0" cy="372.3" r="1.5" fill="#818181"/><circle cx="1066.2" cy="384.4" r="1.8" fill="#a3a3a3"/><circle cx="1058.8" cy="354.5" r="1.4" fill="#8f8f8f"/><circle cx="1062.6" cy="369.1" r="1.3" fill="#bcbcbc"/><circle cx="1084.9" cy="350.2" r="1.7" fill="#aeaeae"/><circle cx="1063.5" cy="351.9" r="1.9" fill="#8f8f8f"/><circle cx="1075.8" cy="361.7" r="0.9" fill="#979797"/><circle cx="1093.3" cy="326.2" r="1.9" fill="#828282"/><circle cx="1096.0" cy="344.0" r="1.0" fill="#aeaeae"/><circle cx="1071.6" cy="384.3" r="1.8" fill="#858585"/><circle cx="1051.4" cy="375.5" r="2.0" fill="#939393"/><circle cx="1057.4" cy="391.4" r="1.6" fill="#b5b5b5"/><circle cx="1096.0" cy="371.6" r="1.0" fill="#838383"/><circle cx="1077.9" cy="333.2" r="1.9" fill="#7a7a7a"/><circle cx="1085.7" cy="336.3" r="1.7" fill="#919191"/><circle cx="1067.6" cy="323.7" r="1.0" fill="#7c7c7c"/><circle cx="1069.4" cy="356.9" r="1.3" fill="#ababab"/>
<circle cx="1016.1" cy="260.3" r="2.1" fill="#525252"/><circle cx="1013.8" cy="254.5" r="2.2" fill="#3e3e3e"/><circle cx="1023.2" cy="255.5" r="3.0" fill="#494949"/><circle cx="1012.7" cy="255.9" r="2.9" fill="#696969"/><circle cx="1015.6" cy="253.0" r="2.1" fill="#565656"/><circle cx="1021.8" cy="254.5" r="2.6" fill="#4e4e4e"/><circle cx="1014.0" cy="250.6" r="1.9" fill="#626262"/><circle cx="1025.2" cy="246.9" r="2.1" fill="#3d3d3d"/><circle cx="1016.0" cy="259.7" r="2.0" fill="#575757"/><circle cx="1014.4" cy="247.4" r="2.8" fill="#6a6a6a"/><circle cx="1021.7" cy="263.5" r="2.4" fill="#626262"/><circle cx="1017.6" cy="250.2" r="1.9" fill="#626262"/>
</g>
<path d="M892.0,314.0 C893.8,306.0 900.8,301.3 905.0,296.0 C909.2,290.7 912.0,285.0 917.0,282.0 C922.0,279.0 929.5,276.7 935.0,278.0 C940.5,279.3 947.2,284.3 950.0,290.0 C952.8,295.7 950.3,304.3 952.0,312.0 C953.7,319.7 956.8,328.0 960.0,336.0 C963.2,344.0 969.8,353.0 971.0,360.0 C972.2,367.0 970.7,373.7 967.0,378.0 C963.3,382.3 956.0,385.7 949.0,386.0 C942.0,386.3 932.0,383.7 925.0,380.0 C918.0,376.3 912.2,370.0 907.0,364.0 C901.8,358.0 896.5,352.3 894.0,344.0 C891.5,335.7 890.2,322.0 892.0,314.0 Z" fill="#3e3e3e" filter="url(#spher2)"/>
<g filter="url(#blur1)"><circle cx="916.7" cy="293.3" r="2.3" fill="#777777"/><circle cx="934.8" cy="292.3" r="2.1" fill="#7b7b7b"/><circle cx="946.9" cy="291.8" r="3.0" fill="#4d4d4d"/><circle cx="928.4" cy="306.2" r="2.1" fill="#818181"/><circle cx="926.3" cy="299.2" r="2.7" fill="#4a4a4a"/><circle cx="929.5" cy="299.9" r="2.3" fill="#767676"/><circle cx="917.6" cy="302.9" r="2.3" fill="#808080"/><circle cx="911.1" cy="282.6" r="2.3" fill="#6d6d6d"/><circle cx="937.5" cy="304.9" r="2.5" fill="#525252"/><circle cx="933.5" cy="282.0" r="2.5" fill="#595959"/><circle cx="921.9" cy="303.4" r="2.0" fill="#686868"/><circle cx="931.9" cy="299.1" r="2.8" fill="#5d5d5d"/><circle cx="918.4" cy="304.5" r="3.2" fill="#7c7c7c"/><circle cx="905.0" cy="302.1" r="2.8" fill="#464646"/><circle cx="918.8" cy="285.7" r="2.3" fill="#636363"/><circle cx="926.1" cy="288.0" r="3.1" fill="#6d6d6d"/><circle cx="936.0" cy="281.4" r="2.1" fill="#515151"/><circle cx="921.3" cy="309.3" r="3.1" fill="#6e6e6e"/><circle cx="909.0" cy="299.6" r="2.5" fill="#8a8a8a"/><circle cx="907.4" cy="300.6" r="3.4" fill="#828282"/><circle cx="920.2" cy="294.4" r="1.8" fill="#4c4c4c"/><circle cx="944.2" cy="295.2" r="2.0" fill="#5f5f5f"/><circle cx="931.6" cy="283.4" r="3.3" fill="#696969"/><circle cx="938.2" cy="301.1" r="2.7" fill="#6e6e6e"/><circle cx="929.4" cy="308.8" r="3.6" fill="#828282"/><circle cx="916.5" cy="290.7" r="1.9" fill="#565656"/><circle cx="940.6" cy="294.0" r="1.8" fill="#595959"/><circle cx="915.7" cy="309.5" r="2.0" fill="#747474"/><circle cx="927.8" cy="310.4" r="3.2" fill="#5c5c5c"/><circle cx="921.3" cy="291.6" r="3.3" fill="#838383"/><circle cx="932.0" cy="292.7" r="2.4" fill="#565656"/><circle cx="932.7" cy="284.1" r="3.2" fill="#898989"/><circle cx="941.6" cy="300.4" r="3.3" fill="#4c4c4c"/><circle cx="937.6" cy="295.6" r="3.3" fill="#717171"/><circle cx="940.7" cy="305.1" r="2.5" fill="#4c4c4c"/><circle cx="927.3" cy="284.3" r="2.6" fill="#757575"/><circle cx="913.6" cy="283.0" r="2.1" fill="#676767"/><circle cx="941.2" cy="296.0" r="2.4" fill="#555555"/><circle cx="928.3" cy="301.5" r="2.4" fill="#8a8a8a"/><circle cx="929.0" cy="293.4" r="3.4" fill="#6b6b6b"/><circle cx="916.7" cy="290.0" r="2.8" fill="#747474"/><circle cx="907.3" cy="293.1" r="3.2" fill="#757575"/><circle cx="947.6" cy="299.6" r="2.5" fill="#717171"/><circle cx="934.0" cy="299.7" r="3.2" fill="#4a4a4a"/><circle cx="926.4" cy="299.9" r="3.1" fill="#656565"/><circle cx="935.8" cy="307.7" r="3.0" fill="#898989"/><circle cx="943.6" cy="301.5" r="2.6" fill="#828282"/><circle cx="935.2" cy="288.5" r="3.3" fill="#4b4b4b"/><circle cx="924.0" cy="310.1" r="2.5" fill="#777777"/><circle cx="910.3" cy="288.5" r="3.2" fill="#5d5d5d"/><circle cx="930.5" cy="288.7" r="3.2" fill="#717171"/><circle cx="903.6" cy="294.9" r="3.1" fill="#888888"/><circle cx="935.5" cy="309.0" r="2.4" fill="#848484"/><circle cx="927.7" cy="291.0" r="2.8" fill="#7c7c7c"/><circle cx="936.9" cy="288.2" r="3.3" fill="#777777"/><circle cx="929.0" cy="287.4" r="2.5" fill="#4b4b4b"/><circle cx="917.2" cy="310.0" r="3.3" fill="#4a4a4a"/><circle cx="920.8" cy="280.9" r="3.3" fill="#525252"/><circle cx="942.9" cy="286.2" r="3.0" fill="#757575"/><circle cx="930.4" cy="280.4" r="1.9" fill="#818181"/><circle cx="941.5" cy="299.3" r="3.1" fill="#464646"/><circle cx="931.6" cy="285.7" r="2.2" fill="#696969"/><circle cx="919.5" cy="304.6" r="3.2" fill="#5a5a5a"/><circle cx="918.6" cy="305.2" r="2.9" fill="#646464"/><circle cx="922.8" cy="294.6" r="2.8" fill="#858585"/><circle cx="906.1" cy="285.8" r="3.1" fill="#717171"/><circle cx="923.4" cy="285.3" r="2.6" fill="#6b6b6b"/><circle cx="933.4" cy="283.2" r="2.0" fill="#848484"/><circle cx="916.5" cy="296.2" r="2.2" fill="#7d7d7d"/><circle cx="937.6" cy="296.3" r="3.3" fill="#636363"/><circle cx="953.5" cy="351.5" r="3.5" fill="#2d2d2d"/><circle cx="921.1" cy="339.3" r="3.5" fill="#2a2a2a"/><circle cx="949.4" cy="371.1" r="3.0" fill="#474747"/><circle cx="949.2" cy="313.1" r="2.8" fill="#444444"/><circle cx="930.1" cy="356.3" r="2.8" fill="#3d3d3d"/><circle cx="932.9" cy="317.4" r="3.9" fill="#3b3b3b"/><circle cx="906.3" cy="315.5" r="3.8" fill="#4a4a4a"/><circle cx="939.5" cy="377.2" r="2.5" fill="#2b2b2b"/><circle cx="911.4" cy="325.9" r="2.4" fill="#404040"/><circle cx="929.1" cy="369.1" r="3.4" fill="#464646"/><circle cx="905.4" cy="340.0" r="3.6" fill="#585858"/><circle cx="901.9" cy="330.4" r="2.4" fill="#2f2f2f"/><circle cx="963.4" cy="361.7" r="2.1" fill="#515151"/><circle cx="921.4" cy="314.8" r="2.9" fill="#494949"/><circle cx="924.9" cy="350.6" r="2.9" fill="#313131"/><circle cx="926.7" cy="322.9" r="3.9" fill="#3d3d3d"/><circle cx="950.4" cy="356.9" r="3.3" fill="#525252"/><circle cx="959.6" cy="329.4" r="2.5" fill="#484848"/><circle cx="905.8" cy="357.6" r="3.3" fill="#535353"/><circle cx="904.0" cy="369.7" r="3.4" fill="#464646"/><circle cx="939.4" cy="360.0" r="2.9" fill="#454545"/><circle cx="928.6" cy="382.2" r="3.4" fill="#585858"/><circle cx="963.6" cy="334.1" r="2.2" fill="#3e3e3e"/><circle cx="895.1" cy="323.2" r="3.5" fill="#444444"/><circle cx="925.3" cy="345.0" r="2.7" fill="#414141"/><circle cx="893.9" cy="322.5" r="3.8" fill="#575757"/><circle cx="912.7" cy="314.3" r="3.8" fill="#424242"/><circle cx="937.3" cy="340.4" r="2.9" fill="#2b2b2b"/><circle cx="967.9" cy="336.7" r="3.9" fill="#434343"/><circle cx="924.0" cy="300.8" r="2.2" fill="#343434"/><circle cx="937.1" cy="380.0" r="3.2" fill="#545454"/><circle cx="944.5" cy="362.8" r="3.2" fill="#353535"/><circle cx="932.7" cy="299.3" r="2.6" fill="#464646"/><circle cx="918.5" cy="356.0" r="2.1" fill="#2d2d2d"/><circle cx="957.3" cy="369.6" r="3.9" fill="#414141"/><circle cx="909.0" cy="338.6" r="2.9" fill="#353535"/><circle cx="916.3" cy="321.5" r="2.0" fill="#4c4c4c"/><circle cx="921.6" cy="322.6" r="3.6" fill="#2e2e2e"/><circle cx="930.6" cy="319.0" r="3.5" fill="#292929"/><circle cx="940.7" cy="333.1" r="3.5" fill="#575757"/><circle cx="930.8" cy="349.7" r="2.7" fill="#4a4a4a"/><circle cx="923.8" cy="382.9" r="2.7" fill="#2e2e2e"/><circle cx="893.8" cy="324.8" r="2.1" fill="#2b2b2b"/><circle cx="947.1" cy="351.0" r="2.9" fill="#383838"/><circle cx="918.7" cy="355.1" r="2.4" fill="#434343"/><circle cx="926.8" cy="352.5" r="2.9" fill="#2b2b2b"/><circle cx="902.0" cy="357.1" r="3.5" fill="#555555"/><circle cx="952.4" cy="367.9" r="3.5" fill="#474747"/><circle cx="951.2" cy="341.7" r="3.8" fill="#565656"/><circle cx="942.3" cy="353.3" r="2.7" fill="#303030"/><circle cx="952.0" cy="328.2" r="3.8" fill="#404040"/><circle cx="934.4" cy="319.5" r="2.6" fill="#474747"/><circle cx="939.5" cy="368.4" r="3.0" fill="#545454"/><circle cx="952.0" cy="320.8" r="3.9" fill="#2d2d2d"/><circle cx="966.3" cy="352.7" r="3.6" fill="#3c3c3c"/><circle cx="946.9" cy="338.0" r="2.0" fill="#575757"/><circle cx="940.5" cy="342.4" r="3.0" fill="#383838"/><circle cx="937.9" cy="376.5" r="3.0" fill="#414141"/><circle cx="941.8" cy="342.7" r="3.6" fill="#4b4b4b"/><circle cx="957.6" cy="334.1" r="2.9" fill="#2a2a2a"/><circle cx="953.8" cy="320.1" r="1.9" fill="#868686"/><circle cx="948.3" cy="322.0" r="2.0" fill="#5f5f5f"/><circle cx="958.4" cy="316.9" r="2.8" fill="#646464"/><circle cx="966.7" cy="319.1" r="3.0" fill="#676767"/><circle cx="955.6" cy="328.2" r="2.5" fill="#848484"/><circle cx="970.1" cy="314.0" r="2.8" fill="#8a8a8a"/><circle cx="962.6" cy="310.7" r="1.9" fill="#787878"/><circle cx="958.8" cy="331.5" r="1.7" fill="#8b8b8b"/><circle cx="965.3" cy="316.7" r="2.2" fill="#8a8a8a"/><circle cx="959.3" cy="325.4" r="2.2" fill="#828282"/><circle cx="952.9" cy="312.9" r="2.8" fill="#939393"/><circle cx="951.7" cy="311.6" r="2.8" fill="#7c7c7c"/><circle cx="964.3" cy="310.0" r="2.4" fill="#626262"/><circle cx="956.4" cy="319.6" r="2.3" fill="#737373"/><circle cx="961.1" cy="320.0" r="2.2" fill="#838383"/><circle cx="971.0" cy="318.5" r="2.7" fill="#949494"/><circle cx="961.7" cy="330.1" r="1.8" fill="#606060"/><circle cx="955.8" cy="324.2" r="2.3" fill="#5c5c5c"/><circle cx="963.3" cy="319.3" r="2.9" fill="#6a6a6a"/><circle cx="951.9" cy="318.6" r="2.7" fill="#777777"/></g>
<ellipse cx="936" cy="358" rx="27" ry="22" fill="#222" filter="url(#blur3)"/>
<g filter="url(#blur1)" fill="#8c8c8c">
<circle cx="1031" cy="397" r="4"/>
<circle cx="1016" cy="405" r="3"/>
<circle cx="1068" cy="348" r="3"/>
<circle cx="1092" cy="268" r="3"/>
<circle cx="1089" cy="237" r="2.5"/>
<circle cx="1098" cy="290" r="3"/>
<circle cx="1076" cy="310" r="3.5"/>
<circle cx="880" cy="400" r="2"/>
</g>
<rect x="259" y="394.2" width="32.4" height="9.5" fill="#050505"/>
<rect x="536" y="394.2" width="32.4" height="9.5" fill="#050505"/>
<rect x="813" y="394.2" width="32.4" height="9.5" fill="#050505"/>
<rect x="1059.2" y="394.2" width="32.4" height="9.5" fill="#050505"/>
<rect x="51.5" y="425" width="275.5" height="205" fill="#c5d2e1"/>
<rect x="327" y="425" width="265.5" height="205" fill="#d3dcd9"/>
<rect x="592.5" y="425" width="256" height="205" fill="#e0ebd4"/>
<rect x="848.5" y="425" width="281" height="205" fill="#dde8d7"/>
<g filter="url(#histo)"><path d="M185.0,432.0 C194.8,431.8 204.7,435.2 214.0,438.0 C223.3,440.8 233.0,443.3 241.0,449.0 C249.0,454.7 256.7,463.2 262.0,472.0 C267.3,480.8 270.7,491.8 273.0,502.0 C275.3,512.2 276.3,523.3 276.0,533.0 C275.7,542.7 273.5,551.5 271.0,560.0 C268.5,568.5 265.8,577.0 261.0,584.0 C256.2,591.0 249.2,597.2 242.0,602.0 C234.8,606.8 228.7,610.2 218.0,613.0 C207.3,615.8 189.3,619.2 178.0,619.0 C166.7,618.8 157.7,615.3 150.0,612.0 C142.3,608.7 137.8,605.2 132.0,599.0 C126.2,592.8 119.3,584.8 115.0,575.0 C110.7,565.2 107.3,552.2 106.0,540.0 C104.7,527.8 105.7,511.7 107.0,502.0 C108.3,492.3 111.3,487.5 114.0,482.0 C116.7,476.5 119.3,474.0 123.0,469.0 C126.7,464.0 130.7,457.0 136.0,452.0 C141.3,447.0 146.8,442.3 155.0,439.0 C163.2,435.7 175.2,432.2 185.0,432.0 Z" fill="#c04a7a" filter="url(#blur1)"/><path d="M185.1,436.1 C194.5,436.0 203.9,439.2 212.8,441.9 C221.7,444.6 231.0,446.9 238.6,452.4 C246.3,457.8 253.6,465.9 258.7,474.3 C263.8,482.8 266.9,493.3 269.2,503.0 C271.4,512.7 272.4,523.3 272.0,532.6 C271.7,541.8 269.7,550.2 267.3,558.4 C264.9,566.5 262.3,574.6 257.7,581.3 C253.1,588.0 246.4,593.9 239.6,598.5 C232.7,603.1 226.8,606.3 216.6,609.0 C206.5,611.7 189.3,614.9 178.4,614.7 C167.6,614.6 159.0,611.2 151.7,608.0 C144.4,604.8 140.1,601.5 134.5,595.6 C128.9,589.7 122.4,582.1 118.3,572.7 C114.1,563.3 111.0,550.9 109.7,539.3 C108.4,527.6 109.4,512.2 110.6,503.0 C111.9,493.7 114.8,489.1 117.3,483.9 C119.9,478.6 122.4,476.2 125.9,471.5 C129.4,466.7 133.2,460.0 138.3,455.2 C143.4,450.5 148.7,446.0 156.5,442.8 C164.3,439.6 175.7,436.3 185.1,436.1 Z" fill="#d8c1d6" filter="url(#blur25)"/></g>
<g opacity="0.55"><ellipse cx="183.2" cy="535.9" rx="2.2" ry="1.1" transform="rotate(84 183.2 535.9)" fill="#6d4868"/><ellipse cx="140.4" cy="527.5" rx="1.9" ry="0.9" transform="rotate(143 140.4 527.5)" fill="#6d4868"/><ellipse cx="182.3" cy="462.4" rx="1.8" ry="0.9" transform="rotate(160 182.3 462.4)" fill="#6d4868"/><ellipse cx="206.1" cy="507.1" rx="1.7" ry="0.8" transform="rotate(133 206.1 507.1)" fill="#6d4868"/><ellipse cx="210.5" cy="583.7" rx="1.3" ry="0.6" transform="rotate(6 210.5 583.7)" fill="#6d4868"/><ellipse cx="206.7" cy="574.3" rx="1.6" ry="0.8" transform="rotate(106 206.7 574.3)" fill="#6d4868"/><ellipse cx="193.9" cy="550.1" rx="1.7" ry="0.9" transform="rotate(119 193.9 550.1)" fill="#6d4868"/><ellipse cx="215.6" cy="509.0" rx="1.8" ry="0.9" transform="rotate(168 215.6 509.0)" fill="#6d4868"/><ellipse cx="224.0" cy="492.9" rx="1.5" ry="0.7" transform="rotate(52 224.0 492.9)" fill="#6d4868"/><ellipse cx="200.9" cy="456.5" rx="1.3" ry="0.7" transform="rotate(52 200.9 456.5)" fill="#6d4868"/><ellipse cx="256.4" cy="520.1" rx="2.3" ry="1.1" transform="rotate(72 256.4 520.1)" fill="#6d4868"/><ellipse cx="201.4" cy="472.4" rx="1.9" ry="1.0" transform="rotate(61 201.4 472.4)" fill="#6d4868"/><ellipse cx="164.1" cy="607.0" rx="2.0" ry="1.0" transform="rotate(21 164.1 607.0)" fill="#6d4868"/><ellipse cx="185.2" cy="523.1" rx="2.0" ry="1.0" transform="rotate(34 185.2 523.1)" fill="#6d4868"/><ellipse cx="177.9" cy="505.0" rx="1.6" ry="0.8" transform="rotate(178 177.9 505.0)" fill="#6d4868"/><ellipse cx="239.3" cy="491.0" rx="2.2" ry="1.1" transform="rotate(38 239.3 491.0)" fill="#6d4868"/><ellipse cx="203.1" cy="444.9" rx="1.4" ry="0.7" transform="rotate(79 203.1 444.9)" fill="#6d4868"/><ellipse cx="234.4" cy="495.3" rx="1.5" ry="0.8" transform="rotate(13 234.4 495.3)" fill="#6d4868"/><ellipse cx="144.3" cy="549.4" rx="1.2" ry="0.6" transform="rotate(66 144.3 549.4)" fill="#6d4868"/><ellipse cx="131.2" cy="540.7" rx="2.1" ry="1.1" transform="rotate(24 131.2 540.7)" fill="#6d4868"/><ellipse cx="140.1" cy="464.6" rx="2.2" ry="1.1" transform="rotate(147 140.1 464.6)" fill="#6d4868"/><ellipse cx="226.8" cy="465.4" rx="1.9" ry="0.9" transform="rotate(100 226.8 465.4)" fill="#6d4868"/><ellipse cx="251.9" cy="543.6" rx="1.7" ry="0.8" transform="rotate(19 251.9 543.6)" fill="#6d4868"/><ellipse cx="192.8" cy="482.4" rx="2.0" ry="1.0" transform="rotate(70 192.8 482.4)" fill="#6d4868"/><ellipse cx="242.5" cy="542.3" rx="1.5" ry="0.8" transform="rotate(32 242.5 542.3)" fill="#6d4868"/><ellipse cx="131.1" cy="521.8" rx="1.9" ry="1.0" transform="rotate(111 131.1 521.8)" fill="#6d4868"/><ellipse cx="155.7" cy="598.8" rx="1.4" ry="0.7" transform="rotate(3 155.7 598.8)" fill="#6d4868"/><ellipse cx="176.7" cy="481.3" rx="1.3" ry="0.6" transform="rotate(51 176.7 481.3)" fill="#6d4868"/><ellipse cx="182.9" cy="495.7" rx="2.0" ry="1.0" transform="rotate(94 182.9 495.7)" fill="#6d4868"/><ellipse cx="205.2" cy="599.9" rx="1.7" ry="0.9" transform="rotate(64 205.2 599.9)" fill="#6d4868"/><ellipse cx="212.6" cy="522.3" rx="2.0" ry="1.0" transform="rotate(57 212.6 522.3)" fill="#6d4868"/><ellipse cx="122.9" cy="533.5" rx="2.0" ry="1.0" transform="rotate(162 122.9 533.5)" fill="#6d4868"/><ellipse cx="167.1" cy="557.9" rx="2.2" ry="1.1" transform="rotate(157 167.1 557.9)" fill="#6d4868"/><ellipse cx="190.8" cy="440.1" rx="1.9" ry="1.0" transform="rotate(68 190.8 440.1)" fill="#6d4868"/><ellipse cx="208.2" cy="451.6" rx="1.9" ry="1.0" transform="rotate(179 208.2 451.6)" fill="#6d4868"/><ellipse cx="227.3" cy="505.8" rx="2.0" ry="1.0" transform="rotate(105 227.3 505.8)" fill="#6d4868"/><ellipse cx="184.8" cy="532.6" rx="1.8" ry="0.9" transform="rotate(93 184.8 532.6)" fill="#6d4868"/><ellipse cx="207.0" cy="522.0" rx="1.5" ry="0.7" transform="rotate(126 207.0 522.0)" fill="#6d4868"/><ellipse cx="235.6" cy="553.5" rx="1.7" ry="0.9" transform="rotate(161 235.6 553.5)" fill="#6d4868"/><ellipse cx="159.0" cy="556.7" rx="1.4" ry="0.7" transform="rotate(31 159.0 556.7)" fill="#6d4868"/><ellipse cx="216.4" cy="515.2" rx="2.2" ry="1.1" transform="rotate(59 216.4 515.2)" fill="#6d4868"/><ellipse cx="142.6" cy="513.2" rx="2.1" ry="1.0" transform="rotate(165 142.6 513.2)" fill="#6d4868"/><ellipse cx="172.3" cy="540.0" rx="1.5" ry="0.8" transform="rotate(25 172.3 540.0)" fill="#6d4868"/><ellipse cx="167.0" cy="594.9" rx="1.2" ry="0.6" transform="rotate(12 167.0 594.9)" fill="#6d4868"/><ellipse cx="186.2" cy="600.2" rx="2.1" ry="1.1" transform="rotate(69 186.2 600.2)" fill="#6d4868"/><ellipse cx="218.3" cy="563.4" rx="2.1" ry="1.1" transform="rotate(112 218.3 563.4)" fill="#6d4868"/><ellipse cx="224.2" cy="537.8" rx="1.5" ry="0.8" transform="rotate(142 224.2 537.8)" fill="#6d4868"/><ellipse cx="213.3" cy="508.7" rx="1.4" ry="0.7" transform="rotate(138 213.3 508.7)" fill="#6d4868"/><ellipse cx="148.9" cy="462.3" rx="1.3" ry="0.6" transform="rotate(113 148.9 462.3)" fill="#6d4868"/><ellipse cx="128.3" cy="531.6" rx="1.9" ry="1.0" transform="rotate(66 128.3 531.6)" fill="#6d4868"/><ellipse cx="220.3" cy="472.5" rx="1.7" ry="0.9" transform="rotate(32 220.3 472.5)" fill="#6d4868"/><ellipse cx="231.6" cy="531.5" rx="1.2" ry="0.6" transform="rotate(41 231.6 531.5)" fill="#6d4868"/><ellipse cx="197.2" cy="603.9" rx="1.8" ry="0.9" transform="rotate(179 197.2 603.9)" fill="#6d4868"/><ellipse cx="173.8" cy="576.7" rx="2.2" ry="1.1" transform="rotate(16 173.8 576.7)" fill="#6d4868"/><ellipse cx="131.7" cy="517.2" rx="1.9" ry="0.9" transform="rotate(164 131.7 517.2)" fill="#6d4868"/><ellipse cx="198.8" cy="552.2" rx="1.8" ry="0.9" transform="rotate(148 198.8 552.2)" fill="#6d4868"/><ellipse cx="185.0" cy="552.0" rx="1.4" ry="0.7" transform="rotate(130 185.0 552.0)" fill="#6d4868"/><ellipse cx="145.0" cy="595.7" rx="2.3" ry="1.1" transform="rotate(176 145.0 595.7)" fill="#6d4868"/><ellipse cx="152.8" cy="563.8" rx="1.2" ry="0.6" transform="rotate(91 152.8 563.8)" fill="#6d4868"/><ellipse cx="181.4" cy="534.2" rx="2.0" ry="1.0" transform="rotate(88 181.4 534.2)" fill="#6d4868"/><ellipse cx="145.8" cy="590.0" rx="1.7" ry="0.8" transform="rotate(6 145.8 590.0)" fill="#6d4868"/><ellipse cx="220.6" cy="598.5" rx="1.7" ry="0.9" transform="rotate(180 220.6 598.5)" fill="#6d4868"/><ellipse cx="262.0" cy="524.1" rx="2.2" ry="1.1" transform="rotate(15 262.0 524.1)" fill="#6d4868"/><ellipse cx="181.1" cy="535.7" rx="2.1" ry="1.1" transform="rotate(101 181.1 535.7)" fill="#6d4868"/><ellipse cx="194.5" cy="585.8" rx="1.8" ry="0.9" transform="rotate(56 194.5 585.8)" fill="#6d4868"/><ellipse cx="208.3" cy="491.0" rx="1.4" ry="0.7" transform="rotate(98 208.3 491.0)" fill="#6d4868"/><ellipse cx="202.5" cy="472.8" rx="1.8" ry="0.9" transform="rotate(91 202.5 472.8)" fill="#6d4868"/><ellipse cx="193.4" cy="507.9" rx="2.1" ry="1.0" transform="rotate(101 193.4 507.9)" fill="#6d4868"/><ellipse cx="259.7" cy="518.2" rx="2.2" ry="1.1" transform="rotate(144 259.7 518.2)" fill="#6d4868"/><ellipse cx="153.9" cy="520.7" rx="1.3" ry="0.7" transform="rotate(78 153.9 520.7)" fill="#6d4868"/><ellipse cx="194.8" cy="456.6" rx="1.7" ry="0.8" transform="rotate(5 194.8 456.6)" fill="#6d4868"/><ellipse cx="131.6" cy="574.5" rx="1.2" ry="0.6" transform="rotate(35 131.6 574.5)" fill="#6d4868"/><ellipse cx="226.5" cy="480.5" rx="1.7" ry="0.9" transform="rotate(90 226.5 480.5)" fill="#6d4868"/><ellipse cx="247.1" cy="547.1" rx="2.0" ry="1.0" transform="rotate(126 247.1 547.1)" fill="#6d4868"/><ellipse cx="114.6" cy="548.8" rx="2.1" ry="1.1" transform="rotate(111 114.6 548.8)" fill="#6d4868"/><ellipse cx="249.0" cy="531.4" rx="1.4" ry="0.7" transform="rotate(39 249.0 531.4)" fill="#6d4868"/><ellipse cx="148.1" cy="567.7" rx="2.1" ry="1.0" transform="rotate(162 148.1 567.7)" fill="#6d4868"/><ellipse cx="207.3" cy="594.1" rx="1.4" ry="0.7" transform="rotate(140 207.3 594.1)" fill="#6d4868"/><ellipse cx="149.2" cy="565.2" rx="1.5" ry="0.7" transform="rotate(17 149.2 565.2)" fill="#6d4868"/><ellipse cx="197.7" cy="561.4" rx="1.4" ry="0.7" transform="rotate(113 197.7 561.4)" fill="#6d4868"/><ellipse cx="126.3" cy="537.7" rx="1.6" ry="0.8" transform="rotate(148 126.3 537.7)" fill="#6d4868"/><ellipse cx="129.4" cy="526.4" rx="2.0" ry="1.0" transform="rotate(91 129.4 526.4)" fill="#6d4868"/><ellipse cx="239.2" cy="522.2" rx="1.2" ry="0.6" transform="rotate(137 239.2 522.2)" fill="#6d4868"/><ellipse cx="134.3" cy="469.9" rx="1.4" ry="0.7" transform="rotate(151 134.3 469.9)" fill="#6d4868"/><ellipse cx="184.8" cy="571.9" rx="1.6" ry="0.8" transform="rotate(84 184.8 571.9)" fill="#6d4868"/><ellipse cx="179.6" cy="543.1" rx="1.2" ry="0.6" transform="rotate(126 179.6 543.1)" fill="#6d4868"/><ellipse cx="139.9" cy="517.3" rx="2.0" ry="1.0" transform="rotate(73 139.9 517.3)" fill="#6d4868"/><ellipse cx="207.6" cy="454.2" rx="2.1" ry="1.0" transform="rotate(58 207.6 454.2)" fill="#6d4868"/><ellipse cx="239.0" cy="561.4" rx="2.1" ry="1.1" transform="rotate(113 239.0 561.4)" fill="#6d4868"/><ellipse cx="202.0" cy="471.1" rx="1.8" ry="0.9" transform="rotate(61 202.0 471.1)" fill="#6d4868"/><ellipse cx="155.6" cy="457.9" rx="2.0" ry="1.0" transform="rotate(29 155.6 457.9)" fill="#6d4868"/><ellipse cx="132.2" cy="495.5" rx="1.8" ry="0.9" transform="rotate(67 132.2 495.5)" fill="#6d4868"/><ellipse cx="233.2" cy="508.8" rx="2.0" ry="1.0" transform="rotate(13 233.2 508.8)" fill="#6d4868"/><ellipse cx="159.1" cy="455.2" rx="2.2" ry="1.1" transform="rotate(178 159.1 455.2)" fill="#6d4868"/><ellipse cx="148.0" cy="603.6" rx="1.9" ry="1.0" transform="rotate(61 148.0 603.6)" fill="#6d4868"/><ellipse cx="201.9" cy="531.2" rx="1.6" ry="0.8" transform="rotate(180 201.9 531.2)" fill="#6d4868"/><ellipse cx="223.0" cy="571.4" rx="2.3" ry="1.1" transform="rotate(4 223.0 571.4)" fill="#6d4868"/><ellipse cx="229.0" cy="482.6" rx="1.6" ry="0.8" transform="rotate(9 229.0 482.6)" fill="#6d4868"/><ellipse cx="152.2" cy="486.0" rx="1.6" ry="0.8" transform="rotate(97 152.2 486.0)" fill="#6d4868"/><ellipse cx="265.5" cy="537.3" rx="2.3" ry="1.1" transform="rotate(115 265.5 537.3)" fill="#6d4868"/><ellipse cx="198.7" cy="555.0" rx="2.3" ry="1.1" transform="rotate(70 198.7 555.0)" fill="#6d4868"/><ellipse cx="172.6" cy="608.0" rx="2.1" ry="1.1" transform="rotate(98 172.6 608.0)" fill="#6d4868"/><ellipse cx="179.6" cy="524.4" rx="1.5" ry="0.8" transform="rotate(72 179.6 524.4)" fill="#6d4868"/><ellipse cx="169.3" cy="487.7" rx="1.9" ry="1.0" transform="rotate(101 169.3 487.7)" fill="#6d4868"/><ellipse cx="217.0" cy="568.9" rx="1.2" ry="0.6" transform="rotate(139 217.0 568.9)" fill="#6d4868"/><ellipse cx="212.1" cy="509.4" rx="2.0" ry="1.0" transform="rotate(10 212.1 509.4)" fill="#6d4868"/><ellipse cx="179.6" cy="521.5" rx="2.3" ry="1.1" transform="rotate(44 179.6 521.5)" fill="#6d4868"/><ellipse cx="260.7" cy="564.5" rx="1.7" ry="0.9" transform="rotate(176 260.7 564.5)" fill="#6d4868"/><ellipse cx="207.4" cy="457.7" rx="1.9" ry="0.9" transform="rotate(82 207.4 457.7)" fill="#6d4868"/><ellipse cx="248.5" cy="500.2" rx="1.4" ry="0.7" transform="rotate(65 248.5 500.2)" fill="#6d4868"/><ellipse cx="217.6" cy="517.6" rx="1.5" ry="0.7" transform="rotate(105 217.6 517.6)" fill="#6d4868"/><ellipse cx="169.1" cy="568.3" rx="2.1" ry="1.0" transform="rotate(25 169.1 568.3)" fill="#6d4868"/><ellipse cx="228.3" cy="479.4" rx="1.3" ry="0.7" transform="rotate(161 228.3 479.4)" fill="#6d4868"/><ellipse cx="154.8" cy="544.7" rx="2.0" ry="1.0" transform="rotate(126 154.8 544.7)" fill="#6d4868"/><ellipse cx="212.1" cy="569.9" rx="1.4" ry="0.7" transform="rotate(45 212.1 569.9)" fill="#6d4868"/><ellipse cx="120.6" cy="485.1" rx="1.7" ry="0.8" transform="rotate(112 120.6 485.1)" fill="#6d4868"/><ellipse cx="146.5" cy="486.4" rx="2.0" ry="1.0" transform="rotate(164 146.5 486.4)" fill="#6d4868"/><ellipse cx="198.9" cy="548.4" rx="1.6" ry="0.8" transform="rotate(86 198.9 548.4)" fill="#6d4868"/><ellipse cx="165.0" cy="524.4" rx="1.3" ry="0.7" transform="rotate(157 165.0 524.4)" fill="#6d4868"/><ellipse cx="182.4" cy="582.0" rx="2.1" ry="1.1" transform="rotate(138 182.4 582.0)" fill="#6d4868"/><ellipse cx="178.7" cy="482.9" rx="2.1" ry="1.0" transform="rotate(66 178.7 482.9)" fill="#6d4868"/><ellipse cx="157.4" cy="570.9" rx="2.1" ry="1.1" transform="rotate(33 157.4 570.9)" fill="#6d4868"/><ellipse cx="203.7" cy="518.7" rx="1.6" ry="0.8" transform="rotate(98 203.7 518.7)" fill="#6d4868"/><ellipse cx="201.1" cy="522.7" rx="2.0" ry="1.0" transform="rotate(54 201.1 522.7)" fill="#6d4868"/><ellipse cx="216.7" cy="451.9" rx="1.5" ry="0.8" transform="rotate(130 216.7 451.9)" fill="#6d4868"/><ellipse cx="156.1" cy="462.6" rx="1.6" ry="0.8" transform="rotate(131 156.1 462.6)" fill="#6d4868"/><ellipse cx="255.7" cy="494.2" rx="1.7" ry="0.8" transform="rotate(107 255.7 494.2)" fill="#6d4868"/><ellipse cx="180.9" cy="578.7" rx="1.5" ry="0.8" transform="rotate(57 180.9 578.7)" fill="#6d4868"/><ellipse cx="193.4" cy="452.3" rx="2.1" ry="1.1" transform="rotate(4 193.4 452.3)" fill="#6d4868"/><ellipse cx="204.4" cy="577.4" rx="2.0" ry="1.0" transform="rotate(66 204.4 577.4)" fill="#6d4868"/><ellipse cx="197.3" cy="584.5" rx="1.8" ry="0.9" transform="rotate(32 197.3 584.5)" fill="#6d4868"/><ellipse cx="251.7" cy="487.0" rx="1.2" ry="0.6" transform="rotate(93 251.7 487.0)" fill="#6d4868"/><ellipse cx="201.6" cy="607.4" rx="1.9" ry="1.0" transform="rotate(145 201.6 607.4)" fill="#6d4868"/><ellipse cx="203.9" cy="491.2" rx="1.8" ry="0.9" transform="rotate(60 203.9 491.2)" fill="#6d4868"/><ellipse cx="228.7" cy="595.5" rx="1.3" ry="0.6" transform="rotate(114 228.7 595.5)" fill="#6d4868"/><ellipse cx="126.5" cy="581.0" rx="1.7" ry="0.8" transform="rotate(128 126.5 581.0)" fill="#6d4868"/><ellipse cx="233.2" cy="529.2" rx="2.0" ry="1.0" transform="rotate(71 233.2 529.2)" fill="#6d4868"/><ellipse cx="239.9" cy="496.0" rx="1.4" ry="0.7" transform="rotate(88 239.9 496.0)" fill="#6d4868"/><ellipse cx="224.1" cy="598.3" rx="1.7" ry="0.8" transform="rotate(149 224.1 598.3)" fill="#6d4868"/><ellipse cx="247.3" cy="579.2" rx="2.1" ry="1.1" transform="rotate(160 247.3 579.2)" fill="#6d4868"/><ellipse cx="194.6" cy="562.3" rx="2.1" ry="1.0" transform="rotate(76 194.6 562.3)" fill="#6d4868"/><ellipse cx="257.2" cy="480.7" rx="1.4" ry="0.7" transform="rotate(114 257.2 480.7)" fill="#6d4868"/><ellipse cx="162.2" cy="505.9" rx="1.8" ry="0.9" transform="rotate(49 162.2 505.9)" fill="#6d4868"/><ellipse cx="186.3" cy="566.0" rx="1.5" ry="0.8" transform="rotate(28 186.3 566.0)" fill="#6d4868"/><ellipse cx="256.7" cy="569.9" rx="1.2" ry="0.6" transform="rotate(87 256.7 569.9)" fill="#6d4868"/><ellipse cx="160.9" cy="472.2" rx="1.6" ry="0.8" transform="rotate(106 160.9 472.2)" fill="#6d4868"/><ellipse cx="206.0" cy="476.9" rx="1.4" ry="0.7" transform="rotate(51 206.0 476.9)" fill="#6d4868"/><ellipse cx="211.1" cy="603.1" rx="1.8" ry="0.9" transform="rotate(154 211.1 603.1)" fill="#6d4868"/><ellipse cx="165.6" cy="533.7" rx="2.3" ry="1.1" transform="rotate(87 165.6 533.7)" fill="#6d4868"/><ellipse cx="174.7" cy="475.7" rx="1.3" ry="0.7" transform="rotate(144 174.7 475.7)" fill="#6d4868"/><ellipse cx="182.8" cy="480.8" rx="1.7" ry="0.8" transform="rotate(157 182.8 480.8)" fill="#6d4868"/><ellipse cx="136.0" cy="494.1" rx="1.5" ry="0.7" transform="rotate(156 136.0 494.1)" fill="#6d4868"/><ellipse cx="153.5" cy="531.5" rx="1.4" ry="0.7" transform="rotate(139 153.5 531.5)" fill="#6d4868"/><ellipse cx="143.6" cy="598.6" rx="1.4" ry="0.7" transform="rotate(23 143.6 598.6)" fill="#6d4868"/><ellipse cx="154.1" cy="563.5" rx="1.3" ry="0.7" transform="rotate(86 154.1 563.5)" fill="#6d4868"/><ellipse cx="124.2" cy="569.1" rx="1.8" ry="0.9" transform="rotate(91 124.2 569.1)" fill="#6d4868"/><ellipse cx="237.1" cy="510.8" rx="2.2" ry="1.1" transform="rotate(16 237.1 510.8)" fill="#6d4868"/><ellipse cx="144.2" cy="533.0" rx="1.8" ry="0.9" transform="rotate(28 144.2 533.0)" fill="#6d4868"/><ellipse cx="161.4" cy="508.8" rx="1.8" ry="0.9" transform="rotate(180 161.4 508.8)" fill="#6d4868"/><ellipse cx="168.4" cy="558.3" rx="1.3" ry="0.7" transform="rotate(71 168.4 558.3)" fill="#6d4868"/><ellipse cx="230.2" cy="575.4" rx="1.3" ry="0.7" transform="rotate(80 230.2 575.4)" fill="#6d4868"/><ellipse cx="224.7" cy="521.0" rx="1.5" ry="0.8" transform="rotate(20 224.7 521.0)" fill="#6d4868"/><ellipse cx="247.7" cy="585.9" rx="2.0" ry="1.0" transform="rotate(162 247.7 585.9)" fill="#6d4868"/><ellipse cx="157.3" cy="503.6" rx="1.8" ry="0.9" transform="rotate(54 157.3 503.6)" fill="#6d4868"/><ellipse cx="231.6" cy="535.2" rx="1.3" ry="0.6" transform="rotate(34 231.6 535.2)" fill="#6d4868"/><ellipse cx="227.8" cy="495.4" rx="2.2" ry="1.1" transform="rotate(101 227.8 495.4)" fill="#6d4868"/><ellipse cx="182.3" cy="504.7" rx="1.3" ry="0.7" transform="rotate(112 182.3 504.7)" fill="#6d4868"/><ellipse cx="219.2" cy="562.0" rx="1.4" ry="0.7" transform="rotate(72 219.2 562.0)" fill="#6d4868"/><ellipse cx="205.6" cy="453.3" rx="1.4" ry="0.7" transform="rotate(28 205.6 453.3)" fill="#6d4868"/><ellipse cx="180.2" cy="573.1" rx="1.6" ry="0.8" transform="rotate(148 180.2 573.1)" fill="#6d4868"/><ellipse cx="214.3" cy="572.3" rx="2.1" ry="1.1" transform="rotate(69 214.3 572.3)" fill="#6d4868"/><ellipse cx="258.1" cy="547.0" rx="2.0" ry="1.0" transform="rotate(110 258.1 547.0)" fill="#6d4868"/><ellipse cx="216.4" cy="544.5" rx="1.2" ry="0.6" transform="rotate(60 216.4 544.5)" fill="#6d4868"/><ellipse cx="159.9" cy="515.1" rx="1.8" ry="0.9" transform="rotate(37 159.9 515.1)" fill="#6d4868"/><ellipse cx="236.9" cy="582.6" rx="1.9" ry="0.9" transform="rotate(29 236.9 582.6)" fill="#6d4868"/><ellipse cx="198.5" cy="499.5" rx="1.8" ry="0.9" transform="rotate(26 198.5 499.5)" fill="#6d4868"/><ellipse cx="268.6" cy="528.2" rx="2.0" ry="1.0" transform="rotate(150 268.6 528.2)" fill="#6d4868"/><ellipse cx="201.6" cy="442.2" rx="1.9" ry="1.0" transform="rotate(140 201.6 442.2)" fill="#6d4868"/><ellipse cx="150.0" cy="538.8" rx="2.0" ry="1.0" transform="rotate(59 150.0 538.8)" fill="#6d4868"/><ellipse cx="153.5" cy="592.7" rx="1.7" ry="0.8" transform="rotate(131 153.5 592.7)" fill="#6d4868"/><ellipse cx="255.4" cy="533.0" rx="1.8" ry="0.9" transform="rotate(101 255.4 533.0)" fill="#6d4868"/><ellipse cx="137.8" cy="568.6" rx="2.2" ry="1.1" transform="rotate(60 137.8 568.6)" fill="#6d4868"/><ellipse cx="130.5" cy="582.5" rx="1.5" ry="0.8" transform="rotate(161 130.5 582.5)" fill="#6d4868"/><ellipse cx="232.1" cy="501.3" rx="1.4" ry="0.7" transform="rotate(108 232.1 501.3)" fill="#6d4868"/><ellipse cx="183.5" cy="508.4" rx="2.1" ry="1.0" transform="rotate(167 183.5 508.4)" fill="#6d4868"/><ellipse cx="160.1" cy="555.5" rx="2.0" ry="1.0" transform="rotate(69 160.1 555.5)" fill="#6d4868"/><ellipse cx="136.3" cy="509.9" rx="1.2" ry="0.6" transform="rotate(95 136.3 509.9)" fill="#6d4868"/><ellipse cx="201.9" cy="468.0" rx="1.8" ry="0.9" transform="rotate(47 201.9 468.0)" fill="#6d4868"/><ellipse cx="226.2" cy="575.9" rx="1.6" ry="0.8" transform="rotate(90 226.2 575.9)" fill="#6d4868"/><ellipse cx="186.0" cy="509.8" rx="1.9" ry="0.9" transform="rotate(124 186.0 509.8)" fill="#6d4868"/><ellipse cx="231.0" cy="522.9" rx="2.3" ry="1.1" transform="rotate(151 231.0 522.9)" fill="#6d4868"/><ellipse cx="163.7" cy="529.0" rx="1.7" ry="0.8" transform="rotate(4 163.7 529.0)" fill="#6d4868"/><ellipse cx="158.2" cy="545.8" rx="1.7" ry="0.8" transform="rotate(68 158.2 545.8)" fill="#6d4868"/><ellipse cx="231.1" cy="491.1" rx="1.9" ry="0.9" transform="rotate(13 231.1 491.1)" fill="#6d4868"/><ellipse cx="245.8" cy="480.1" rx="2.2" ry="1.1" transform="rotate(175 245.8 480.1)" fill="#6d4868"/><ellipse cx="222.0" cy="530.0" rx="1.5" ry="0.7" transform="rotate(55 222.0 530.0)" fill="#6d4868"/><ellipse cx="250.2" cy="502.3" rx="1.8" ry="0.9" transform="rotate(102 250.2 502.3)" fill="#6d4868"/><ellipse cx="146.4" cy="568.7" rx="1.8" ry="0.9" transform="rotate(163 146.4 568.7)" fill="#6d4868"/><ellipse cx="194.0" cy="460.3" rx="2.2" ry="1.1" transform="rotate(104 194.0 460.3)" fill="#6d4868"/><ellipse cx="158.7" cy="494.6" rx="1.3" ry="0.6" transform="rotate(161 158.7 494.6)" fill="#6d4868"/><ellipse cx="133.5" cy="559.2" rx="1.5" ry="0.7" transform="rotate(55 133.5 559.2)" fill="#6d4868"/><ellipse cx="254.5" cy="491.6" rx="1.7" ry="0.9" transform="rotate(168 254.5 491.6)" fill="#6d4868"/><ellipse cx="251.3" cy="473.1" rx="2.1" ry="1.1" transform="rotate(125 251.3 473.1)" fill="#6d4868"/><ellipse cx="142.2" cy="584.8" rx="1.6" ry="0.8" transform="rotate(85 142.2 584.8)" fill="#6d4868"/><ellipse cx="212.5" cy="560.2" rx="1.8" ry="0.9" transform="rotate(96 212.5 560.2)" fill="#6d4868"/><ellipse cx="141.5" cy="592.2" rx="1.3" ry="0.6" transform="rotate(19 141.5 592.2)" fill="#6d4868"/><ellipse cx="178.1" cy="592.0" rx="1.6" ry="0.8" transform="rotate(172 178.1 592.0)" fill="#6d4868"/><ellipse cx="177.3" cy="467.3" rx="2.1" ry="1.1" transform="rotate(22 177.3 467.3)" fill="#6d4868"/><ellipse cx="153.9" cy="564.1" rx="1.8" ry="0.9" transform="rotate(53 153.9 564.1)" fill="#6d4868"/><ellipse cx="170.4" cy="553.9" rx="2.2" ry="1.1" transform="rotate(106 170.4 553.9)" fill="#6d4868"/><ellipse cx="139.8" cy="477.2" rx="1.3" ry="0.7" transform="rotate(120 139.8 477.2)" fill="#6d4868"/><ellipse cx="268.0" cy="514.9" rx="1.8" ry="0.9" transform="rotate(96 268.0 514.9)" fill="#6d4868"/><ellipse cx="112.0" cy="540.6" rx="1.8" ry="0.9" transform="rotate(76 112.0 540.6)" fill="#6d4868"/><ellipse cx="141.2" cy="469.0" rx="2.0" ry="1.0" transform="rotate(5 141.2 469.0)" fill="#6d4868"/><ellipse cx="184.7" cy="569.4" rx="1.6" ry="0.8" transform="rotate(167 184.7 569.4)" fill="#6d4868"/><ellipse cx="235.0" cy="597.4" rx="1.6" ry="0.8" transform="rotate(87 235.0 597.4)" fill="#6d4868"/><ellipse cx="193.5" cy="526.4" rx="2.1" ry="1.1" transform="rotate(123 193.5 526.4)" fill="#6d4868"/><ellipse cx="205.8" cy="573.1" rx="1.3" ry="0.7" transform="rotate(78 205.8 573.1)" fill="#6d4868"/><ellipse cx="198.5" cy="482.5" rx="2.0" ry="1.0" transform="rotate(130 198.5 482.5)" fill="#6d4868"/><ellipse cx="189.1" cy="476.4" rx="1.8" ry="0.9" transform="rotate(90 189.1 476.4)" fill="#6d4868"/><ellipse cx="119.3" cy="516.3" rx="2.2" ry="1.1" transform="rotate(59 119.3 516.3)" fill="#6d4868"/><ellipse cx="208.2" cy="579.2" rx="1.8" ry="0.9" transform="rotate(130 208.2 579.2)" fill="#6d4868"/><ellipse cx="201.8" cy="533.0" rx="2.1" ry="1.0" transform="rotate(43 201.8 533.0)" fill="#6d4868"/><ellipse cx="119.5" cy="512.3" rx="2.0" ry="1.0" transform="rotate(148 119.5 512.3)" fill="#6d4868"/><ellipse cx="233.2" cy="525.1" rx="1.9" ry="1.0" transform="rotate(92 233.2 525.1)" fill="#6d4868"/><ellipse cx="151.6" cy="465.6" rx="2.0" ry="1.0" transform="rotate(150 151.6 465.6)" fill="#6d4868"/><ellipse cx="120.7" cy="509.7" rx="1.6" ry="0.8" transform="rotate(39 120.7 509.7)" fill="#6d4868"/><ellipse cx="131.4" cy="570.3" rx="1.9" ry="0.9" transform="rotate(24 131.4 570.3)" fill="#6d4868"/><ellipse cx="194.3" cy="610.8" rx="1.2" ry="0.6" transform="rotate(74 194.3 610.8)" fill="#6d4868"/><ellipse cx="125.5" cy="535.3" rx="1.7" ry="0.9" transform="rotate(168 125.5 535.3)" fill="#6d4868"/><ellipse cx="219.6" cy="563.5" rx="2.3" ry="1.1" transform="rotate(110 219.6 563.5)" fill="#6d4868"/><ellipse cx="151.4" cy="534.5" rx="1.5" ry="0.7" transform="rotate(83 151.4 534.5)" fill="#6d4868"/><ellipse cx="169.1" cy="496.7" rx="2.3" ry="1.1" transform="rotate(110 169.1 496.7)" fill="#6d4868"/><ellipse cx="136.6" cy="540.4" rx="2.3" ry="1.1" transform="rotate(133 136.6 540.4)" fill="#6d4868"/><ellipse cx="184.8" cy="506.6" rx="2.1" ry="1.1" transform="rotate(69 184.8 506.6)" fill="#6d4868"/><ellipse cx="145.3" cy="498.6" rx="1.4" ry="0.7" transform="rotate(99 145.3 498.6)" fill="#6d4868"/><ellipse cx="187.7" cy="507.9" rx="1.9" ry="0.9" transform="rotate(137 187.7 507.9)" fill="#6d4868"/><ellipse cx="182.4" cy="612.1" rx="1.9" ry="1.0" transform="rotate(155 182.4 612.1)" fill="#6d4868"/><ellipse cx="197.3" cy="511.2" rx="1.3" ry="0.6" transform="rotate(50 197.3 511.2)" fill="#6d4868"/><ellipse cx="210.1" cy="528.7" rx="2.0" ry="1.0" transform="rotate(92 210.1 528.7)" fill="#6d4868"/><ellipse cx="153.8" cy="501.0" rx="1.4" ry="0.7" transform="rotate(169 153.8 501.0)" fill="#6d4868"/><ellipse cx="132.8" cy="479.8" rx="2.1" ry="1.1" transform="rotate(21 132.8 479.8)" fill="#6d4868"/><ellipse cx="245.0" cy="516.6" rx="2.1" ry="1.1" transform="rotate(69 245.0 516.6)" fill="#6d4868"/><ellipse cx="234.1" cy="528.8" rx="1.3" ry="0.6" transform="rotate(71 234.1 528.8)" fill="#6d4868"/><ellipse cx="189.0" cy="470.5" rx="1.8" ry="0.9" transform="rotate(23 189.0 470.5)" fill="#6d4868"/><ellipse cx="160.8" cy="512.0" rx="1.8" ry="0.9" transform="rotate(24 160.8 512.0)" fill="#6d4868"/><ellipse cx="161.1" cy="516.9" rx="1.6" ry="0.8" transform="rotate(158 161.1 516.9)" fill="#6d4868"/><ellipse cx="196.4" cy="516.5" rx="1.4" ry="0.7" transform="rotate(93 196.4 516.5)" fill="#6d4868"/><ellipse cx="147.0" cy="488.8" rx="1.6" ry="0.8" transform="rotate(39 147.0 488.8)" fill="#6d4868"/><ellipse cx="246.5" cy="568.8" rx="1.7" ry="0.9" transform="rotate(2 246.5 568.8)" fill="#6d4868"/><ellipse cx="216.5" cy="449.3" rx="2.1" ry="1.1" transform="rotate(100 216.5 449.3)" fill="#6d4868"/><ellipse cx="217.4" cy="605.4" rx="2.2" ry="1.1" transform="rotate(42 217.4 605.4)" fill="#6d4868"/><ellipse cx="125.3" cy="512.7" rx="1.6" ry="0.8" transform="rotate(11 125.3 512.7)" fill="#6d4868"/><ellipse cx="259.6" cy="487.5" rx="2.0" ry="1.0" transform="rotate(40 259.6 487.5)" fill="#6d4868"/><ellipse cx="143.2" cy="572.6" rx="1.6" ry="0.8" transform="rotate(128 143.2 572.6)" fill="#6d4868"/><ellipse cx="229.6" cy="597.0" rx="2.1" ry="1.0" transform="rotate(86 229.6 597.0)" fill="#6d4868"/><ellipse cx="223.0" cy="534.7" rx="2.0" ry="1.0" transform="rotate(4 223.0 534.7)" fill="#6d4868"/><ellipse cx="256.7" cy="485.3" rx="1.6" ry="0.8" transform="rotate(152 256.7 485.3)" fill="#6d4868"/><ellipse cx="185.9" cy="494.7" rx="1.5" ry="0.7" transform="rotate(4 185.9 494.7)" fill="#6d4868"/><ellipse cx="162.6" cy="503.1" rx="1.5" ry="0.8" transform="rotate(147 162.6 503.1)" fill="#6d4868"/></g>
<g filter="url(#histo)"><path d="M474.0,434.0 C488.0,433.3 503.3,435.3 514.0,440.0 C524.7,444.7 532.2,452.5 538.0,462.0 C543.8,471.5 547.3,485.7 549.0,497.0 C550.7,508.3 550.2,517.7 548.0,530.0 C545.8,542.3 542.3,559.0 536.0,571.0 C529.7,583.0 521.5,593.5 510.0,602.0 C498.5,610.5 482.2,618.7 467.0,622.0 C451.8,625.3 432.3,624.3 419.0,622.0 C405.7,619.7 395.5,616.5 387.0,608.0 C378.5,599.5 370.5,581.7 368.0,571.0 C365.5,560.3 370.2,552.2 372.0,544.0 C373.8,535.8 377.7,529.7 379.0,522.0 C380.3,514.3 377.0,506.8 380.0,498.0 C383.0,489.2 388.7,478.0 397.0,469.0 C405.3,460.0 417.2,449.8 430.0,444.0 C442.8,438.2 460.0,434.7 474.0,434.0 Z" fill="#c8648a" filter="url(#blur1)"/><path d="M473.1,438.2 C486.5,437.6 501.1,439.5 511.3,443.9 C521.5,448.4 528.7,455.9 534.2,464.9 C539.8,474.0 543.1,487.5 544.7,498.4 C546.3,509.2 545.9,518.1 543.8,529.9 C541.7,541.7 538.4,557.6 532.3,569.0 C526.3,580.5 518.5,590.5 507.5,598.6 C496.5,606.8 480.9,614.6 466.4,617.7 C451.9,620.9 433.3,620.0 420.6,617.7 C407.9,615.5 398.1,612.5 390.0,604.4 C381.9,596.2 374.3,579.2 371.9,569.0 C369.5,558.8 374.0,551.0 375.7,543.2 C377.5,535.4 381.1,529.6 382.4,522.2 C383.7,514.9 380.5,507.8 383.3,499.3 C386.2,490.9 391.6,480.2 399.6,471.6 C407.5,463.0 418.8,453.3 431.1,447.7 C443.3,442.2 459.7,438.8 473.1,438.2 Z" fill="#e6d1d7" filter="url(#blur25)"/></g>
<g opacity="0.55"><ellipse cx="453.9" cy="555.8" rx="1.9" ry="1.0" transform="rotate(26 453.9 555.8)" fill="#8e6c7c"/><ellipse cx="482.6" cy="520.9" rx="2.2" ry="1.1" transform="rotate(41 482.6 520.9)" fill="#8e6c7c"/><ellipse cx="485.7" cy="465.3" rx="1.7" ry="0.8" transform="rotate(29 485.7 465.3)" fill="#8e6c7c"/><ellipse cx="383.2" cy="584.3" rx="1.3" ry="0.6" transform="rotate(124 383.2 584.3)" fill="#8e6c7c"/><ellipse cx="489.1" cy="580.6" rx="1.3" ry="0.6" transform="rotate(165 489.1 580.6)" fill="#8e6c7c"/><ellipse cx="445.2" cy="463.5" rx="1.5" ry="0.8" transform="rotate(112 445.2 463.5)" fill="#8e6c7c"/><ellipse cx="467.6" cy="529.2" rx="1.3" ry="0.6" transform="rotate(109 467.6 529.2)" fill="#8e6c7c"/><ellipse cx="454.3" cy="507.6" rx="1.2" ry="0.6" transform="rotate(131 454.3 507.6)" fill="#8e6c7c"/><ellipse cx="433.8" cy="503.8" rx="2.0" ry="1.0" transform="rotate(121 433.8 503.8)" fill="#8e6c7c"/><ellipse cx="416.1" cy="498.8" rx="1.6" ry="0.8" transform="rotate(103 416.1 498.8)" fill="#8e6c7c"/><ellipse cx="446.4" cy="531.3" rx="1.4" ry="0.7" transform="rotate(77 446.4 531.3)" fill="#8e6c7c"/><ellipse cx="408.0" cy="546.9" rx="2.0" ry="1.0" transform="rotate(40 408.0 546.9)" fill="#8e6c7c"/><ellipse cx="491.6" cy="446.1" rx="1.5" ry="0.8" transform="rotate(62 491.6 446.1)" fill="#8e6c7c"/><ellipse cx="460.6" cy="504.7" rx="1.6" ry="0.8" transform="rotate(82 460.6 504.7)" fill="#8e6c7c"/><ellipse cx="452.2" cy="536.6" rx="1.4" ry="0.7" transform="rotate(138 452.2 536.6)" fill="#8e6c7c"/><ellipse cx="418.8" cy="575.8" rx="1.6" ry="0.8" transform="rotate(43 418.8 575.8)" fill="#8e6c7c"/><ellipse cx="458.5" cy="483.3" rx="1.3" ry="0.7" transform="rotate(65 458.5 483.3)" fill="#8e6c7c"/><ellipse cx="507.1" cy="586.6" rx="1.9" ry="1.0" transform="rotate(41 507.1 586.6)" fill="#8e6c7c"/><ellipse cx="456.5" cy="502.1" rx="2.0" ry="1.0" transform="rotate(80 456.5 502.1)" fill="#8e6c7c"/><ellipse cx="449.5" cy="548.6" rx="1.3" ry="0.6" transform="rotate(59 449.5 548.6)" fill="#8e6c7c"/><ellipse cx="493.1" cy="477.4" rx="1.5" ry="0.8" transform="rotate(46 493.1 477.4)" fill="#8e6c7c"/><ellipse cx="491.3" cy="462.9" rx="2.2" ry="1.1" transform="rotate(76 491.3 462.9)" fill="#8e6c7c"/><ellipse cx="407.2" cy="523.0" rx="1.3" ry="0.6" transform="rotate(103 407.2 523.0)" fill="#8e6c7c"/><ellipse cx="502.6" cy="513.4" rx="1.8" ry="0.9" transform="rotate(162 502.6 513.4)" fill="#8e6c7c"/><ellipse cx="471.9" cy="501.0" rx="1.6" ry="0.8" transform="rotate(132 471.9 501.0)" fill="#8e6c7c"/><ellipse cx="376.1" cy="565.1" rx="2.2" ry="1.1" transform="rotate(144 376.1 565.1)" fill="#8e6c7c"/><ellipse cx="528.1" cy="534.1" rx="2.1" ry="1.0" transform="rotate(68 528.1 534.1)" fill="#8e6c7c"/><ellipse cx="494.0" cy="473.0" rx="1.5" ry="0.7" transform="rotate(143 494.0 473.0)" fill="#8e6c7c"/><ellipse cx="479.0" cy="461.6" rx="1.8" ry="0.9" transform="rotate(126 479.0 461.6)" fill="#8e6c7c"/><ellipse cx="472.0" cy="452.3" rx="1.6" ry="0.8" transform="rotate(15 472.0 452.3)" fill="#8e6c7c"/><ellipse cx="426.3" cy="562.6" rx="2.0" ry="1.0" transform="rotate(119 426.3 562.6)" fill="#8e6c7c"/><ellipse cx="456.2" cy="518.0" rx="1.4" ry="0.7" transform="rotate(120 456.2 518.0)" fill="#8e6c7c"/><ellipse cx="450.9" cy="595.9" rx="1.3" ry="0.7" transform="rotate(40 450.9 595.9)" fill="#8e6c7c"/><ellipse cx="435.5" cy="589.6" rx="2.0" ry="1.0" transform="rotate(53 435.5 589.6)" fill="#8e6c7c"/><ellipse cx="458.4" cy="563.0" rx="1.4" ry="0.7" transform="rotate(84 458.4 563.0)" fill="#8e6c7c"/><ellipse cx="451.5" cy="578.4" rx="1.3" ry="0.6" transform="rotate(139 451.5 578.4)" fill="#8e6c7c"/><ellipse cx="464.7" cy="574.1" rx="1.6" ry="0.8" transform="rotate(121 464.7 574.1)" fill="#8e6c7c"/><ellipse cx="538.6" cy="537.5" rx="1.9" ry="1.0" transform="rotate(63 538.6 537.5)" fill="#8e6c7c"/><ellipse cx="428.0" cy="527.9" rx="1.6" ry="0.8" transform="rotate(55 428.0 527.9)" fill="#8e6c7c"/><ellipse cx="454.3" cy="581.1" rx="1.3" ry="0.7" transform="rotate(89 454.3 581.1)" fill="#8e6c7c"/><ellipse cx="509.9" cy="490.1" rx="2.2" ry="1.1" transform="rotate(108 509.9 490.1)" fill="#8e6c7c"/><ellipse cx="511.5" cy="579.1" rx="1.9" ry="0.9" transform="rotate(27 511.5 579.1)" fill="#8e6c7c"/><ellipse cx="482.2" cy="588.5" rx="1.9" ry="0.9" transform="rotate(141 482.2 588.5)" fill="#8e6c7c"/><ellipse cx="445.3" cy="556.0" rx="1.6" ry="0.8" transform="rotate(138 445.3 556.0)" fill="#8e6c7c"/><ellipse cx="438.6" cy="510.2" rx="2.1" ry="1.0" transform="rotate(31 438.6 510.2)" fill="#8e6c7c"/><ellipse cx="515.4" cy="459.0" rx="1.5" ry="0.7" transform="rotate(160 515.4 459.0)" fill="#8e6c7c"/><ellipse cx="504.3" cy="591.4" rx="1.5" ry="0.8" transform="rotate(157 504.3 591.4)" fill="#8e6c7c"/><ellipse cx="467.7" cy="447.1" rx="2.1" ry="1.0" transform="rotate(35 467.7 447.1)" fill="#8e6c7c"/><ellipse cx="495.0" cy="492.0" rx="1.4" ry="0.7" transform="rotate(33 495.0 492.0)" fill="#8e6c7c"/><ellipse cx="466.1" cy="443.4" rx="2.2" ry="1.1" transform="rotate(66 466.1 443.4)" fill="#8e6c7c"/><ellipse cx="464.4" cy="518.8" rx="1.8" ry="0.9" transform="rotate(117 464.4 518.8)" fill="#8e6c7c"/><ellipse cx="459.1" cy="551.9" rx="1.7" ry="0.9" transform="rotate(114 459.1 551.9)" fill="#8e6c7c"/><ellipse cx="502.0" cy="504.4" rx="1.3" ry="0.7" transform="rotate(152 502.0 504.4)" fill="#8e6c7c"/><ellipse cx="466.5" cy="609.7" rx="1.6" ry="0.8" transform="rotate(13 466.5 609.7)" fill="#8e6c7c"/><ellipse cx="432.5" cy="480.5" rx="1.7" ry="0.8" transform="rotate(145 432.5 480.5)" fill="#8e6c7c"/><ellipse cx="490.0" cy="539.4" rx="2.2" ry="1.1" transform="rotate(131 490.0 539.4)" fill="#8e6c7c"/><ellipse cx="474.1" cy="543.3" rx="2.1" ry="1.0" transform="rotate(113 474.1 543.3)" fill="#8e6c7c"/><ellipse cx="501.9" cy="514.4" rx="1.8" ry="0.9" transform="rotate(57 501.9 514.4)" fill="#8e6c7c"/><ellipse cx="439.7" cy="555.5" rx="1.6" ry="0.8" transform="rotate(11 439.7 555.5)" fill="#8e6c7c"/><ellipse cx="455.8" cy="463.8" rx="1.5" ry="0.8" transform="rotate(36 455.8 463.8)" fill="#8e6c7c"/><ellipse cx="455.3" cy="568.8" rx="2.1" ry="1.1" transform="rotate(136 455.3 568.8)" fill="#8e6c7c"/><ellipse cx="474.2" cy="574.8" rx="2.2" ry="1.1" transform="rotate(146 474.2 574.8)" fill="#8e6c7c"/><ellipse cx="406.3" cy="549.9" rx="1.8" ry="0.9" transform="rotate(65 406.3 549.9)" fill="#8e6c7c"/><ellipse cx="431.3" cy="486.7" rx="1.8" ry="0.9" transform="rotate(151 431.3 486.7)" fill="#8e6c7c"/><ellipse cx="499.9" cy="484.2" rx="1.7" ry="0.8" transform="rotate(18 499.9 484.2)" fill="#8e6c7c"/><ellipse cx="402.6" cy="536.4" rx="1.9" ry="0.9" transform="rotate(104 402.6 536.4)" fill="#8e6c7c"/><ellipse cx="430.3" cy="505.7" rx="2.2" ry="1.1" transform="rotate(165 430.3 505.7)" fill="#8e6c7c"/><ellipse cx="385.3" cy="550.0" rx="2.2" ry="1.1" transform="rotate(169 385.3 550.0)" fill="#8e6c7c"/><ellipse cx="478.0" cy="591.3" rx="1.4" ry="0.7" transform="rotate(61 478.0 591.3)" fill="#8e6c7c"/><ellipse cx="464.6" cy="587.1" rx="1.8" ry="0.9" transform="rotate(156 464.6 587.1)" fill="#8e6c7c"/><ellipse cx="487.8" cy="469.9" rx="1.7" ry="0.8" transform="rotate(51 487.8 469.9)" fill="#8e6c7c"/><ellipse cx="405.1" cy="488.0" rx="1.3" ry="0.7" transform="rotate(38 405.1 488.0)" fill="#8e6c7c"/><ellipse cx="454.6" cy="609.1" rx="1.7" ry="0.9" transform="rotate(169 454.6 609.1)" fill="#8e6c7c"/><ellipse cx="448.3" cy="508.3" rx="1.5" ry="0.8" transform="rotate(163 448.3 508.3)" fill="#8e6c7c"/><ellipse cx="413.9" cy="532.6" rx="2.0" ry="1.0" transform="rotate(90 413.9 532.6)" fill="#8e6c7c"/><ellipse cx="433.6" cy="493.8" rx="1.2" ry="0.6" transform="rotate(160 433.6 493.8)" fill="#8e6c7c"/><ellipse cx="439.6" cy="610.5" rx="2.2" ry="1.1" transform="rotate(27 439.6 610.5)" fill="#8e6c7c"/><ellipse cx="471.4" cy="471.3" rx="1.7" ry="0.8" transform="rotate(150 471.4 471.3)" fill="#8e6c7c"/><ellipse cx="425.5" cy="467.6" rx="1.3" ry="0.7" transform="rotate(150 425.5 467.6)" fill="#8e6c7c"/><ellipse cx="460.3" cy="493.9" rx="1.3" ry="0.7" transform="rotate(35 460.3 493.9)" fill="#8e6c7c"/><ellipse cx="437.8" cy="533.0" rx="1.5" ry="0.7" transform="rotate(172 437.8 533.0)" fill="#8e6c7c"/><ellipse cx="506.8" cy="461.8" rx="1.4" ry="0.7" transform="rotate(152 506.8 461.8)" fill="#8e6c7c"/><ellipse cx="507.8" cy="485.7" rx="1.8" ry="0.9" transform="rotate(163 507.8 485.7)" fill="#8e6c7c"/><ellipse cx="456.5" cy="531.5" rx="2.3" ry="1.1" transform="rotate(102 456.5 531.5)" fill="#8e6c7c"/><ellipse cx="457.2" cy="503.1" rx="1.6" ry="0.8" transform="rotate(14 457.2 503.1)" fill="#8e6c7c"/><ellipse cx="468.7" cy="588.4" rx="2.2" ry="1.1" transform="rotate(99 468.7 588.4)" fill="#8e6c7c"/><ellipse cx="517.3" cy="505.4" rx="2.2" ry="1.1" transform="rotate(4 517.3 505.4)" fill="#8e6c7c"/><ellipse cx="463.0" cy="549.6" rx="2.3" ry="1.1" transform="rotate(40 463.0 549.6)" fill="#8e6c7c"/><ellipse cx="420.8" cy="530.6" rx="1.6" ry="0.8" transform="rotate(15 420.8 530.6)" fill="#8e6c7c"/><ellipse cx="521.1" cy="554.5" rx="1.6" ry="0.8" transform="rotate(52 521.1 554.5)" fill="#8e6c7c"/><ellipse cx="484.5" cy="585.4" rx="1.3" ry="0.7" transform="rotate(145 484.5 585.4)" fill="#8e6c7c"/><ellipse cx="475.7" cy="463.3" rx="2.3" ry="1.1" transform="rotate(96 475.7 463.3)" fill="#8e6c7c"/><ellipse cx="466.5" cy="598.2" rx="1.6" ry="0.8" transform="rotate(177 466.5 598.2)" fill="#8e6c7c"/><ellipse cx="451.1" cy="520.1" rx="1.6" ry="0.8" transform="rotate(30 451.1 520.1)" fill="#8e6c7c"/><ellipse cx="500.9" cy="490.0" rx="2.0" ry="1.0" transform="rotate(78 500.9 490.0)" fill="#8e6c7c"/><ellipse cx="433.6" cy="491.3" rx="1.9" ry="0.9" transform="rotate(67 433.6 491.3)" fill="#8e6c7c"/><ellipse cx="428.5" cy="539.7" rx="1.8" ry="0.9" transform="rotate(95 428.5 539.7)" fill="#8e6c7c"/><ellipse cx="424.0" cy="593.7" rx="1.5" ry="0.8" transform="rotate(169 424.0 593.7)" fill="#8e6c7c"/><ellipse cx="529.4" cy="481.9" rx="1.8" ry="0.9" transform="rotate(141 529.4 481.9)" fill="#8e6c7c"/><ellipse cx="536.3" cy="547.3" rx="2.0" ry="1.0" transform="rotate(179 536.3 547.3)" fill="#8e6c7c"/><ellipse cx="447.6" cy="600.7" rx="1.5" ry="0.8" transform="rotate(9 447.6 600.7)" fill="#8e6c7c"/><ellipse cx="485.5" cy="524.4" rx="1.4" ry="0.7" transform="rotate(39 485.5 524.4)" fill="#8e6c7c"/><ellipse cx="513.7" cy="557.8" rx="1.7" ry="0.9" transform="rotate(145 513.7 557.8)" fill="#8e6c7c"/><ellipse cx="460.7" cy="558.6" rx="1.7" ry="0.9" transform="rotate(140 460.7 558.6)" fill="#8e6c7c"/><ellipse cx="488.5" cy="543.9" rx="1.4" ry="0.7" transform="rotate(85 488.5 543.9)" fill="#8e6c7c"/><ellipse cx="483.8" cy="477.3" rx="1.5" ry="0.7" transform="rotate(13 483.8 477.3)" fill="#8e6c7c"/><ellipse cx="461.1" cy="516.3" rx="1.6" ry="0.8" transform="rotate(36 461.1 516.3)" fill="#8e6c7c"/><ellipse cx="483.8" cy="465.1" rx="1.8" ry="0.9" transform="rotate(30 483.8 465.1)" fill="#8e6c7c"/><ellipse cx="479.7" cy="556.7" rx="1.2" ry="0.6" transform="rotate(85 479.7 556.7)" fill="#8e6c7c"/><ellipse cx="499.3" cy="464.3" rx="2.2" ry="1.1" transform="rotate(154 499.3 464.3)" fill="#8e6c7c"/><ellipse cx="476.8" cy="562.1" rx="1.8" ry="0.9" transform="rotate(27 476.8 562.1)" fill="#8e6c7c"/><ellipse cx="525.2" cy="530.9" rx="1.9" ry="0.9" transform="rotate(94 525.2 530.9)" fill="#8e6c7c"/><ellipse cx="415.7" cy="509.0" rx="1.8" ry="0.9" transform="rotate(165 415.7 509.0)" fill="#8e6c7c"/><ellipse cx="445.7" cy="446.9" rx="2.1" ry="1.1" transform="rotate(23 445.7 446.9)" fill="#8e6c7c"/><ellipse cx="480.4" cy="575.4" rx="1.8" ry="0.9" transform="rotate(121 480.4 575.4)" fill="#8e6c7c"/><ellipse cx="374.6" cy="569.3" rx="1.4" ry="0.7" transform="rotate(54 374.6 569.3)" fill="#8e6c7c"/><ellipse cx="388.3" cy="554.7" rx="2.0" ry="1.0" transform="rotate(151 388.3 554.7)" fill="#8e6c7c"/><ellipse cx="460.0" cy="579.8" rx="1.3" ry="0.6" transform="rotate(29 460.0 579.8)" fill="#8e6c7c"/><ellipse cx="524.5" cy="486.1" rx="2.0" ry="1.0" transform="rotate(21 524.5 486.1)" fill="#8e6c7c"/><ellipse cx="447.8" cy="580.5" rx="1.3" ry="0.7" transform="rotate(126 447.8 580.5)" fill="#8e6c7c"/><ellipse cx="436.4" cy="489.1" rx="1.6" ry="0.8" transform="rotate(20 436.4 489.1)" fill="#8e6c7c"/><ellipse cx="419.7" cy="562.6" rx="2.2" ry="1.1" transform="rotate(46 419.7 562.6)" fill="#8e6c7c"/><ellipse cx="412.1" cy="604.4" rx="1.9" ry="1.0" transform="rotate(155 412.1 604.4)" fill="#8e6c7c"/><ellipse cx="523.8" cy="574.8" rx="1.6" ry="0.8" transform="rotate(12 523.8 574.8)" fill="#8e6c7c"/><ellipse cx="476.6" cy="469.3" rx="2.3" ry="1.1" transform="rotate(152 476.6 469.3)" fill="#8e6c7c"/><ellipse cx="426.3" cy="492.3" rx="2.0" ry="1.0" transform="rotate(8 426.3 492.3)" fill="#8e6c7c"/><ellipse cx="426.8" cy="508.9" rx="1.5" ry="0.8" transform="rotate(128 426.8 508.9)" fill="#8e6c7c"/><ellipse cx="443.6" cy="453.5" rx="1.6" ry="0.8" transform="rotate(69 443.6 453.5)" fill="#8e6c7c"/><ellipse cx="451.8" cy="502.4" rx="1.5" ry="0.8" transform="rotate(62 451.8 502.4)" fill="#8e6c7c"/><ellipse cx="430.4" cy="481.3" rx="1.4" ry="0.7" transform="rotate(75 430.4 481.3)" fill="#8e6c7c"/><ellipse cx="531.1" cy="566.5" rx="2.3" ry="1.1" transform="rotate(147 531.1 566.5)" fill="#8e6c7c"/><ellipse cx="508.5" cy="554.7" rx="2.0" ry="1.0" transform="rotate(4 508.5 554.7)" fill="#8e6c7c"/><ellipse cx="464.3" cy="455.1" rx="1.4" ry="0.7" transform="rotate(174 464.3 455.1)" fill="#8e6c7c"/><ellipse cx="500.8" cy="501.8" rx="1.7" ry="0.9" transform="rotate(25 500.8 501.8)" fill="#8e6c7c"/><ellipse cx="495.7" cy="499.2" rx="1.3" ry="0.7" transform="rotate(133 495.7 499.2)" fill="#8e6c7c"/><ellipse cx="448.9" cy="459.6" rx="1.3" ry="0.6" transform="rotate(85 448.9 459.6)" fill="#8e6c7c"/><ellipse cx="460.6" cy="482.1" rx="1.5" ry="0.8" transform="rotate(2 460.6 482.1)" fill="#8e6c7c"/><ellipse cx="401.4" cy="514.1" rx="1.7" ry="0.8" transform="rotate(13 401.4 514.1)" fill="#8e6c7c"/><ellipse cx="471.9" cy="554.2" rx="1.7" ry="0.9" transform="rotate(154 471.9 554.2)" fill="#8e6c7c"/><ellipse cx="466.3" cy="511.2" rx="1.9" ry="0.9" transform="rotate(106 466.3 511.2)" fill="#8e6c7c"/><ellipse cx="504.7" cy="497.9" rx="2.0" ry="1.0" transform="rotate(42 504.7 497.9)" fill="#8e6c7c"/><ellipse cx="420.9" cy="544.7" rx="2.1" ry="1.0" transform="rotate(37 420.9 544.7)" fill="#8e6c7c"/><ellipse cx="457.1" cy="583.1" rx="1.9" ry="1.0" transform="rotate(157 457.1 583.1)" fill="#8e6c7c"/><ellipse cx="486.0" cy="468.5" rx="2.2" ry="1.1" transform="rotate(161 486.0 468.5)" fill="#8e6c7c"/><ellipse cx="427.3" cy="470.0" rx="1.7" ry="0.8" transform="rotate(32 427.3 470.0)" fill="#8e6c7c"/><ellipse cx="522.0" cy="483.2" rx="1.9" ry="0.9" transform="rotate(173 522.0 483.2)" fill="#8e6c7c"/><ellipse cx="469.0" cy="519.5" rx="1.9" ry="0.9" transform="rotate(82 469.0 519.5)" fill="#8e6c7c"/><ellipse cx="481.9" cy="564.2" rx="2.2" ry="1.1" transform="rotate(96 481.9 564.2)" fill="#8e6c7c"/><ellipse cx="526.4" cy="461.4" rx="1.6" ry="0.8" transform="rotate(112 526.4 461.4)" fill="#8e6c7c"/><ellipse cx="477.5" cy="588.9" rx="2.2" ry="1.1" transform="rotate(8 477.5 588.9)" fill="#8e6c7c"/><ellipse cx="390.9" cy="557.9" rx="1.9" ry="1.0" transform="rotate(50 390.9 557.9)" fill="#8e6c7c"/><ellipse cx="489.9" cy="476.3" rx="1.5" ry="0.7" transform="rotate(166 489.9 476.3)" fill="#8e6c7c"/><ellipse cx="496.7" cy="546.1" rx="2.2" ry="1.1" transform="rotate(175 496.7 546.1)" fill="#8e6c7c"/><ellipse cx="503.1" cy="550.3" rx="1.8" ry="0.9" transform="rotate(16 503.1 550.3)" fill="#8e6c7c"/><ellipse cx="446.9" cy="573.2" rx="1.6" ry="0.8" transform="rotate(22 446.9 573.2)" fill="#8e6c7c"/><ellipse cx="475.1" cy="536.8" rx="1.9" ry="0.9" transform="rotate(78 475.1 536.8)" fill="#8e6c7c"/><ellipse cx="397.8" cy="582.9" rx="1.7" ry="0.8" transform="rotate(122 397.8 582.9)" fill="#8e6c7c"/><ellipse cx="421.8" cy="475.8" rx="2.0" ry="1.0" transform="rotate(76 421.8 475.8)" fill="#8e6c7c"/><ellipse cx="518.7" cy="530.5" rx="1.9" ry="1.0" transform="rotate(55 518.7 530.5)" fill="#8e6c7c"/><ellipse cx="380.6" cy="548.9" rx="2.1" ry="1.1" transform="rotate(128 380.6 548.9)" fill="#8e6c7c"/><ellipse cx="481.0" cy="441.4" rx="1.5" ry="0.8" transform="rotate(144 481.0 441.4)" fill="#8e6c7c"/><ellipse cx="403.5" cy="583.7" rx="1.6" ry="0.8" transform="rotate(101 403.5 583.7)" fill="#8e6c7c"/><ellipse cx="450.5" cy="495.1" rx="2.1" ry="1.1" transform="rotate(72 450.5 495.1)" fill="#8e6c7c"/><ellipse cx="519.6" cy="564.7" rx="1.5" ry="0.8" transform="rotate(40 519.6 564.7)" fill="#8e6c7c"/><ellipse cx="396.3" cy="586.7" rx="1.6" ry="0.8" transform="rotate(54 396.3 586.7)" fill="#8e6c7c"/><ellipse cx="384.2" cy="572.5" rx="1.3" ry="0.6" transform="rotate(34 384.2 572.5)" fill="#8e6c7c"/><ellipse cx="503.9" cy="542.6" rx="1.3" ry="0.7" transform="rotate(153 503.9 542.6)" fill="#8e6c7c"/><ellipse cx="491.5" cy="586.7" rx="1.3" ry="0.7" transform="rotate(79 491.5 586.7)" fill="#8e6c7c"/><ellipse cx="483.1" cy="496.8" rx="1.7" ry="0.8" transform="rotate(161 483.1 496.8)" fill="#8e6c7c"/><ellipse cx="402.7" cy="559.7" rx="2.1" ry="1.1" transform="rotate(108 402.7 559.7)" fill="#8e6c7c"/><ellipse cx="418.2" cy="490.8" rx="2.2" ry="1.1" transform="rotate(46 418.2 490.8)" fill="#8e6c7c"/><ellipse cx="419.1" cy="593.9" rx="2.2" ry="1.1" transform="rotate(95 419.1 593.9)" fill="#8e6c7c"/><ellipse cx="406.8" cy="549.4" rx="1.2" ry="0.6" transform="rotate(104 406.8 549.4)" fill="#8e6c7c"/><ellipse cx="451.4" cy="616.1" rx="1.4" ry="0.7" transform="rotate(85 451.4 616.1)" fill="#8e6c7c"/><ellipse cx="425.1" cy="584.3" rx="2.1" ry="1.0" transform="rotate(77 425.1 584.3)" fill="#8e6c7c"/><ellipse cx="443.7" cy="541.4" rx="1.6" ry="0.8" transform="rotate(83 443.7 541.4)" fill="#8e6c7c"/><ellipse cx="484.6" cy="571.5" rx="1.6" ry="0.8" transform="rotate(158 484.6 571.5)" fill="#8e6c7c"/><ellipse cx="452.2" cy="470.4" rx="1.9" ry="1.0" transform="rotate(80 452.2 470.4)" fill="#8e6c7c"/><ellipse cx="463.9" cy="568.6" rx="1.7" ry="0.8" transform="rotate(98 463.9 568.6)" fill="#8e6c7c"/><ellipse cx="509.7" cy="465.1" rx="1.9" ry="1.0" transform="rotate(133 509.7 465.1)" fill="#8e6c7c"/><ellipse cx="459.6" cy="515.9" rx="1.4" ry="0.7" transform="rotate(54 459.6 515.9)" fill="#8e6c7c"/><ellipse cx="489.0" cy="527.6" rx="2.0" ry="1.0" transform="rotate(38 489.0 527.6)" fill="#8e6c7c"/><ellipse cx="454.6" cy="598.9" rx="1.6" ry="0.8" transform="rotate(126 454.6 598.9)" fill="#8e6c7c"/><ellipse cx="473.4" cy="586.4" rx="1.6" ry="0.8" transform="rotate(15 473.4 586.4)" fill="#8e6c7c"/><ellipse cx="519.6" cy="515.6" rx="1.8" ry="0.9" transform="rotate(159 519.6 515.6)" fill="#8e6c7c"/><ellipse cx="453.0" cy="593.0" rx="1.8" ry="0.9" transform="rotate(69 453.0 593.0)" fill="#8e6c7c"/><ellipse cx="530.7" cy="568.4" rx="1.7" ry="0.9" transform="rotate(131 530.7 568.4)" fill="#8e6c7c"/><ellipse cx="497.4" cy="486.3" rx="1.9" ry="1.0" transform="rotate(105 497.4 486.3)" fill="#8e6c7c"/><ellipse cx="491.4" cy="508.4" rx="1.9" ry="0.9" transform="rotate(165 491.4 508.4)" fill="#8e6c7c"/><ellipse cx="401.2" cy="599.5" rx="1.5" ry="0.7" transform="rotate(92 401.2 599.5)" fill="#8e6c7c"/><ellipse cx="477.8" cy="479.7" rx="1.8" ry="0.9" transform="rotate(50 477.8 479.7)" fill="#8e6c7c"/><ellipse cx="419.6" cy="578.8" rx="2.1" ry="1.1" transform="rotate(65 419.6 578.8)" fill="#8e6c7c"/><ellipse cx="460.0" cy="499.5" rx="1.8" ry="0.9" transform="rotate(57 460.0 499.5)" fill="#8e6c7c"/><ellipse cx="443.9" cy="526.7" rx="1.9" ry="0.9" transform="rotate(180 443.9 526.7)" fill="#8e6c7c"/><ellipse cx="462.0" cy="568.7" rx="1.6" ry="0.8" transform="rotate(176 462.0 568.7)" fill="#8e6c7c"/><ellipse cx="511.1" cy="550.2" rx="2.1" ry="1.0" transform="rotate(71 511.1 550.2)" fill="#8e6c7c"/><ellipse cx="527.6" cy="504.0" rx="1.6" ry="0.8" transform="rotate(161 527.6 504.0)" fill="#8e6c7c"/><ellipse cx="468.4" cy="441.7" rx="1.8" ry="0.9" transform="rotate(11 468.4 441.7)" fill="#8e6c7c"/><ellipse cx="411.2" cy="547.0" rx="1.4" ry="0.7" transform="rotate(59 411.2 547.0)" fill="#8e6c7c"/><ellipse cx="494.6" cy="542.3" rx="1.9" ry="1.0" transform="rotate(163 494.6 542.3)" fill="#8e6c7c"/><ellipse cx="514.3" cy="478.5" rx="2.0" ry="1.0" transform="rotate(95 514.3 478.5)" fill="#8e6c7c"/><ellipse cx="458.5" cy="514.4" rx="1.8" ry="0.9" transform="rotate(30 458.5 514.4)" fill="#8e6c7c"/><ellipse cx="439.6" cy="527.7" rx="2.1" ry="1.1" transform="rotate(150 439.6 527.7)" fill="#8e6c7c"/><ellipse cx="463.6" cy="515.5" rx="2.1" ry="1.0" transform="rotate(112 463.6 515.5)" fill="#8e6c7c"/><ellipse cx="433.9" cy="457.1" rx="2.1" ry="1.1" transform="rotate(56 433.9 457.1)" fill="#8e6c7c"/><ellipse cx="499.3" cy="596.1" rx="1.5" ry="0.8" transform="rotate(119 499.3 596.1)" fill="#8e6c7c"/><ellipse cx="466.9" cy="513.7" rx="1.6" ry="0.8" transform="rotate(116 466.9 513.7)" fill="#8e6c7c"/><ellipse cx="462.4" cy="458.7" rx="2.0" ry="1.0" transform="rotate(1 462.4 458.7)" fill="#8e6c7c"/><ellipse cx="515.3" cy="579.9" rx="1.3" ry="0.6" transform="rotate(80 515.3 579.9)" fill="#8e6c7c"/><ellipse cx="539.8" cy="495.8" rx="2.0" ry="1.0" transform="rotate(60 539.8 495.8)" fill="#8e6c7c"/><ellipse cx="519.9" cy="572.2" rx="1.7" ry="0.9" transform="rotate(29 519.9 572.2)" fill="#8e6c7c"/><ellipse cx="454.2" cy="598.7" rx="2.0" ry="1.0" transform="rotate(31 454.2 598.7)" fill="#8e6c7c"/><ellipse cx="470.0" cy="595.0" rx="2.0" ry="1.0" transform="rotate(42 470.0 595.0)" fill="#8e6c7c"/><ellipse cx="438.2" cy="449.1" rx="1.5" ry="0.8" transform="rotate(113 438.2 449.1)" fill="#8e6c7c"/><ellipse cx="450.4" cy="485.6" rx="2.2" ry="1.1" transform="rotate(154 450.4 485.6)" fill="#8e6c7c"/><ellipse cx="511.2" cy="456.3" rx="2.3" ry="1.1" transform="rotate(100 511.2 456.3)" fill="#8e6c7c"/><ellipse cx="460.8" cy="558.1" rx="2.0" ry="1.0" transform="rotate(26 460.8 558.1)" fill="#8e6c7c"/><ellipse cx="487.3" cy="501.8" rx="1.8" ry="0.9" transform="rotate(65 487.3 501.8)" fill="#8e6c7c"/><ellipse cx="494.5" cy="578.8" rx="1.2" ry="0.6" transform="rotate(155 494.5 578.8)" fill="#8e6c7c"/><ellipse cx="454.4" cy="539.2" rx="2.2" ry="1.1" transform="rotate(91 454.4 539.2)" fill="#8e6c7c"/><ellipse cx="517.5" cy="530.9" rx="2.1" ry="1.1" transform="rotate(43 517.5 530.9)" fill="#8e6c7c"/><ellipse cx="530.7" cy="477.5" rx="1.8" ry="0.9" transform="rotate(157 530.7 477.5)" fill="#8e6c7c"/><ellipse cx="432.0" cy="514.3" rx="1.6" ry="0.8" transform="rotate(106 432.0 514.3)" fill="#8e6c7c"/><ellipse cx="457.7" cy="592.0" rx="1.7" ry="0.8" transform="rotate(49 457.7 592.0)" fill="#8e6c7c"/><ellipse cx="396.5" cy="540.4" rx="2.0" ry="1.0" transform="rotate(83 396.5 540.4)" fill="#8e6c7c"/><ellipse cx="491.7" cy="495.7" rx="1.9" ry="1.0" transform="rotate(20 491.7 495.7)" fill="#8e6c7c"/><ellipse cx="466.0" cy="609.8" rx="1.5" ry="0.8" transform="rotate(86 466.0 609.8)" fill="#8e6c7c"/><ellipse cx="432.8" cy="587.5" rx="1.8" ry="0.9" transform="rotate(149 432.8 587.5)" fill="#8e6c7c"/><ellipse cx="494.3" cy="599.2" rx="1.5" ry="0.8" transform="rotate(52 494.3 599.2)" fill="#8e6c7c"/><ellipse cx="407.2" cy="468.0" rx="2.1" ry="1.1" transform="rotate(55 407.2 468.0)" fill="#8e6c7c"/><ellipse cx="500.4" cy="596.4" rx="2.1" ry="1.0" transform="rotate(169 500.4 596.4)" fill="#8e6c7c"/><ellipse cx="459.6" cy="519.9" rx="2.1" ry="1.1" transform="rotate(86 459.6 519.9)" fill="#8e6c7c"/><ellipse cx="426.6" cy="536.6" rx="1.4" ry="0.7" transform="rotate(114 426.6 536.6)" fill="#8e6c7c"/><ellipse cx="407.8" cy="576.8" rx="1.6" ry="0.8" transform="rotate(141 407.8 576.8)" fill="#8e6c7c"/><ellipse cx="417.4" cy="529.7" rx="1.9" ry="1.0" transform="rotate(137 417.4 529.7)" fill="#8e6c7c"/><ellipse cx="460.6" cy="459.8" rx="2.1" ry="1.0" transform="rotate(149 460.6 459.8)" fill="#8e6c7c"/><ellipse cx="397.3" cy="592.4" rx="1.8" ry="0.9" transform="rotate(51 397.3 592.4)" fill="#8e6c7c"/><ellipse cx="519.8" cy="526.8" rx="1.6" ry="0.8" transform="rotate(161 519.8 526.8)" fill="#8e6c7c"/><ellipse cx="483.1" cy="563.4" rx="2.2" ry="1.1" transform="rotate(95 483.1 563.4)" fill="#8e6c7c"/><ellipse cx="475.2" cy="461.4" rx="2.3" ry="1.1" transform="rotate(174 475.2 461.4)" fill="#8e6c7c"/><ellipse cx="509.4" cy="448.7" rx="2.1" ry="1.0" transform="rotate(44 509.4 448.7)" fill="#8e6c7c"/><ellipse cx="489.5" cy="454.9" rx="1.4" ry="0.7" transform="rotate(98 489.5 454.9)" fill="#8e6c7c"/><ellipse cx="494.4" cy="472.4" rx="2.2" ry="1.1" transform="rotate(180 494.4 472.4)" fill="#8e6c7c"/><ellipse cx="407.9" cy="553.9" rx="2.1" ry="1.1" transform="rotate(32 407.9 553.9)" fill="#8e6c7c"/><ellipse cx="442.7" cy="485.0" rx="1.4" ry="0.7" transform="rotate(179 442.7 485.0)" fill="#8e6c7c"/><ellipse cx="410.8" cy="517.9" rx="2.0" ry="1.0" transform="rotate(116 410.8 517.9)" fill="#8e6c7c"/><ellipse cx="388.2" cy="549.4" rx="1.9" ry="1.0" transform="rotate(98 388.2 549.4)" fill="#8e6c7c"/><ellipse cx="428.4" cy="572.5" rx="2.0" ry="1.0" transform="rotate(133 428.4 572.5)" fill="#8e6c7c"/><ellipse cx="464.5" cy="583.8" rx="2.3" ry="1.1" transform="rotate(17 464.5 583.8)" fill="#8e6c7c"/><ellipse cx="418.3" cy="521.9" rx="1.5" ry="0.8" transform="rotate(20 418.3 521.9)" fill="#8e6c7c"/><ellipse cx="513.5" cy="555.0" rx="1.5" ry="0.8" transform="rotate(79 513.5 555.0)" fill="#8e6c7c"/><ellipse cx="419.8" cy="586.4" rx="1.8" ry="0.9" transform="rotate(133 419.8 586.4)" fill="#8e6c7c"/><ellipse cx="510.8" cy="471.3" rx="1.9" ry="0.9" transform="rotate(0 510.8 471.3)" fill="#8e6c7c"/><ellipse cx="494.9" cy="477.8" rx="1.9" ry="0.9" transform="rotate(122 494.9 477.8)" fill="#8e6c7c"/><ellipse cx="462.7" cy="592.6" rx="2.3" ry="1.1" transform="rotate(151 462.7 592.6)" fill="#8e6c7c"/><ellipse cx="403.1" cy="542.4" rx="1.8" ry="0.9" transform="rotate(117 403.1 542.4)" fill="#8e6c7c"/><ellipse cx="460.1" cy="504.7" rx="1.6" ry="0.8" transform="rotate(154 460.1 504.7)" fill="#8e6c7c"/><ellipse cx="522.6" cy="508.4" rx="2.2" ry="1.1" transform="rotate(38 522.6 508.4)" fill="#8e6c7c"/><ellipse cx="487.1" cy="499.1" rx="1.9" ry="0.9" transform="rotate(164 487.1 499.1)" fill="#8e6c7c"/><ellipse cx="385.2" cy="584.6" rx="2.1" ry="1.0" transform="rotate(126 385.2 584.6)" fill="#8e6c7c"/></g>
<g filter="url(#histo)"><path d="M748.0,443.0 C756.5,442.8 763.3,443.2 770.0,446.0 C776.7,448.8 783.7,454.3 788.0,460.0 C792.3,465.7 794.8,472.0 796.0,480.0 C797.2,488.0 794.0,499.2 795.0,508.0 C796.0,516.8 801.3,525.5 802.0,533.0 C802.7,540.5 802.5,545.0 799.0,553.0 C795.5,561.0 789.5,572.8 781.0,581.0 C772.5,589.2 760.2,597.8 748.0,602.0 C735.8,606.2 721.5,607.2 708.0,606.0 C694.5,604.8 677.3,601.0 667.0,595.0 C656.7,589.0 650.0,579.3 646.0,570.0 C642.0,560.7 641.5,548.5 643.0,539.0 C644.5,529.5 650.0,520.0 655.0,513.0 C660.0,506.0 669.3,504.0 673.0,497.0 C676.7,490.0 673.7,477.5 677.0,471.0 C680.3,464.5 686.0,462.0 693.0,458.0 C700.0,454.0 709.8,449.5 719.0,447.0 C728.2,444.5 739.5,443.2 748.0,443.0 Z" fill="#bd5470" filter="url(#blur1)"/><path d="M746.6,448.2 C754.5,448.0 760.9,448.3 767.1,451.0 C773.3,453.6 779.8,458.7 783.8,464.0 C787.8,469.2 790.2,475.1 791.3,482.6 C792.3,490.0 789.4,500.4 790.3,508.6 C791.3,516.8 796.2,524.9 796.8,531.9 C797.5,538.8 797.3,543.0 794.0,550.5 C790.8,557.9 785.2,568.9 777.3,576.5 C769.4,584.1 757.9,592.2 746.6,596.0 C735.3,599.9 722.0,600.8 709.4,599.8 C696.9,598.7 680.9,595.1 671.3,589.5 C661.7,583.9 655.5,575.0 651.8,566.3 C648.0,557.6 647.6,546.3 649.0,537.4 C650.4,528.6 655.5,519.8 660.1,513.3 C664.8,506.8 673.5,504.9 676.9,498.4 C680.3,491.9 677.5,480.2 680.6,474.2 C683.7,468.2 689.0,465.8 695.5,462.1 C702.0,458.4 711.1,454.2 719.6,451.9 C728.2,449.6 738.7,448.3 746.6,448.2 Z" fill="#e2bfbf" filter="url(#blur25)"/><path d="M739.1,476.2 C743.8,476.1 747.5,476.3 751.2,477.9 C754.9,479.4 758.7,482.4 761.1,485.6 C763.5,488.7 764.9,492.1 765.5,496.6 C766.1,501.0 764.4,507.1 764.9,512.0 C765.5,516.8 768.4,521.6 768.8,525.7 C769.2,529.8 769.1,532.3 767.1,536.7 C765.2,541.1 761.9,547.6 757.2,552.1 C752.6,556.6 745.8,561.4 739.1,563.6 C732.4,565.9 724.5,566.5 717.1,565.9 C709.7,565.2 700.2,563.1 694.5,559.8 C688.9,556.5 685.2,551.2 683.0,546.1 C680.8,540.9 680.5,534.2 681.4,529.0 C682.2,523.8 685.2,518.6 687.9,514.7 C690.7,510.9 695.8,509.8 697.9,505.9 C699.9,502.1 698.2,495.2 700.0,491.6 C701.9,488.0 705.0,486.7 708.9,484.5 C712.7,482.3 718.1,479.8 723.1,478.4 C728.2,477.0 734.4,476.3 739.1,476.2 Z" fill="#ecdad6" filter="url(#blur3)"/></g>
<g opacity="0.55"><ellipse cx="686.8" cy="552.4" rx="2.0" ry="1.0" transform="rotate(153 686.8 552.4)" fill="#8a5a68"/><ellipse cx="745.6" cy="549.5" rx="2.2" ry="1.1" transform="rotate(115 745.6 549.5)" fill="#8a5a68"/><ellipse cx="667.6" cy="528.8" rx="1.4" ry="0.7" transform="rotate(53 667.6 528.8)" fill="#8a5a68"/><ellipse cx="667.0" cy="552.3" rx="2.3" ry="1.1" transform="rotate(179 667.0 552.3)" fill="#8a5a68"/><ellipse cx="660.8" cy="569.1" rx="2.2" ry="1.1" transform="rotate(47 660.8 569.1)" fill="#8a5a68"/><ellipse cx="766.8" cy="486.8" rx="2.1" ry="1.1" transform="rotate(88 766.8 486.8)" fill="#8a5a68"/><ellipse cx="748.4" cy="583.6" rx="1.9" ry="1.0" transform="rotate(118 748.4 583.6)" fill="#8a5a68"/><ellipse cx="770.6" cy="569.7" rx="2.3" ry="1.1" transform="rotate(124 770.6 569.7)" fill="#8a5a68"/><ellipse cx="713.9" cy="559.1" rx="1.8" ry="0.9" transform="rotate(53 713.9 559.1)" fill="#8a5a68"/><ellipse cx="726.2" cy="486.2" rx="1.7" ry="0.9" transform="rotate(109 726.2 486.2)" fill="#8a5a68"/><ellipse cx="781.0" cy="535.9" rx="1.8" ry="0.9" transform="rotate(102 781.0 535.9)" fill="#8a5a68"/><ellipse cx="753.0" cy="467.5" rx="1.7" ry="0.8" transform="rotate(113 753.0 467.5)" fill="#8a5a68"/><ellipse cx="706.4" cy="557.6" rx="2.2" ry="1.1" transform="rotate(8 706.4 557.6)" fill="#8a5a68"/><ellipse cx="722.5" cy="554.4" rx="1.7" ry="0.8" transform="rotate(46 722.5 554.4)" fill="#8a5a68"/><ellipse cx="758.2" cy="485.9" rx="2.0" ry="1.0" transform="rotate(63 758.2 485.9)" fill="#8a5a68"/><ellipse cx="725.9" cy="548.1" rx="2.2" ry="1.1" transform="rotate(127 725.9 548.1)" fill="#8a5a68"/><ellipse cx="756.1" cy="479.9" rx="1.9" ry="0.9" transform="rotate(105 756.1 479.9)" fill="#8a5a68"/><ellipse cx="701.8" cy="558.9" rx="1.6" ry="0.8" transform="rotate(53 701.8 558.9)" fill="#8a5a68"/><ellipse cx="765.8" cy="532.5" rx="2.2" ry="1.1" transform="rotate(30 765.8 532.5)" fill="#8a5a68"/><ellipse cx="744.3" cy="532.6" rx="1.8" ry="0.9" transform="rotate(7 744.3 532.6)" fill="#8a5a68"/><ellipse cx="771.5" cy="546.3" rx="1.8" ry="0.9" transform="rotate(23 771.5 546.3)" fill="#8a5a68"/><ellipse cx="688.3" cy="538.9" rx="1.3" ry="0.6" transform="rotate(85 688.3 538.9)" fill="#8a5a68"/><ellipse cx="695.9" cy="471.2" rx="1.8" ry="0.9" transform="rotate(96 695.9 471.2)" fill="#8a5a68"/><ellipse cx="681.5" cy="479.2" rx="2.1" ry="1.0" transform="rotate(68 681.5 479.2)" fill="#8a5a68"/><ellipse cx="758.5" cy="487.0" rx="2.0" ry="1.0" transform="rotate(153 758.5 487.0)" fill="#8a5a68"/><ellipse cx="711.6" cy="483.6" rx="2.1" ry="1.0" transform="rotate(107 711.6 483.6)" fill="#8a5a68"/><ellipse cx="678.6" cy="501.2" rx="1.2" ry="0.6" transform="rotate(72 678.6 501.2)" fill="#8a5a68"/><ellipse cx="785.8" cy="547.5" rx="1.5" ry="0.8" transform="rotate(81 785.8 547.5)" fill="#8a5a68"/><ellipse cx="697.9" cy="491.8" rx="1.7" ry="0.8" transform="rotate(25 697.9 491.8)" fill="#8a5a68"/><ellipse cx="664.8" cy="573.6" rx="1.4" ry="0.7" transform="rotate(55 664.8 573.6)" fill="#8a5a68"/><ellipse cx="691.6" cy="500.7" rx="1.3" ry="0.7" transform="rotate(88 691.6 500.7)" fill="#8a5a68"/><ellipse cx="654.6" cy="529.4" rx="1.3" ry="0.7" transform="rotate(145 654.6 529.4)" fill="#8a5a68"/><ellipse cx="673.0" cy="583.4" rx="2.0" ry="1.0" transform="rotate(162 673.0 583.4)" fill="#8a5a68"/><ellipse cx="784.5" cy="551.9" rx="1.3" ry="0.6" transform="rotate(168 784.5 551.9)" fill="#8a5a68"/><ellipse cx="699.7" cy="570.3" rx="1.4" ry="0.7" transform="rotate(129 699.7 570.3)" fill="#8a5a68"/><ellipse cx="725.8" cy="588.5" rx="1.7" ry="0.8" transform="rotate(103 725.8 588.5)" fill="#8a5a68"/><ellipse cx="727.9" cy="571.9" rx="1.8" ry="0.9" transform="rotate(54 727.9 571.9)" fill="#8a5a68"/><ellipse cx="687.1" cy="504.5" rx="2.2" ry="1.1" transform="rotate(30 687.1 504.5)" fill="#8a5a68"/><ellipse cx="664.1" cy="557.2" rx="2.2" ry="1.1" transform="rotate(180 664.1 557.2)" fill="#8a5a68"/><ellipse cx="748.9" cy="554.8" rx="2.2" ry="1.1" transform="rotate(7 748.9 554.8)" fill="#8a5a68"/><ellipse cx="718.5" cy="488.5" rx="2.1" ry="1.0" transform="rotate(81 718.5 488.5)" fill="#8a5a68"/><ellipse cx="726.8" cy="529.0" rx="1.5" ry="0.8" transform="rotate(41 726.8 529.0)" fill="#8a5a68"/><ellipse cx="704.2" cy="471.4" rx="2.1" ry="1.1" transform="rotate(144 704.2 471.4)" fill="#8a5a68"/><ellipse cx="687.2" cy="518.1" rx="2.2" ry="1.1" transform="rotate(97 687.2 518.1)" fill="#8a5a68"/><ellipse cx="762.6" cy="556.8" rx="2.1" ry="1.1" transform="rotate(5 762.6 556.8)" fill="#8a5a68"/><ellipse cx="720.1" cy="524.2" rx="1.3" ry="0.7" transform="rotate(1 720.1 524.2)" fill="#8a5a68"/><ellipse cx="694.0" cy="583.1" rx="1.7" ry="0.9" transform="rotate(94 694.0 583.1)" fill="#8a5a68"/><ellipse cx="680.1" cy="561.6" rx="1.9" ry="1.0" transform="rotate(77 680.1 561.6)" fill="#8a5a68"/><ellipse cx="764.2" cy="551.8" rx="1.5" ry="0.8" transform="rotate(111 764.2 551.8)" fill="#8a5a68"/><ellipse cx="757.5" cy="513.0" rx="2.0" ry="1.0" transform="rotate(41 757.5 513.0)" fill="#8a5a68"/><ellipse cx="739.0" cy="484.8" rx="1.8" ry="0.9" transform="rotate(2 739.0 484.8)" fill="#8a5a68"/><ellipse cx="745.7" cy="540.6" rx="1.8" ry="0.9" transform="rotate(179 745.7 540.6)" fill="#8a5a68"/><ellipse cx="784.7" cy="560.9" rx="1.3" ry="0.7" transform="rotate(165 784.7 560.9)" fill="#8a5a68"/><ellipse cx="770.2" cy="574.8" rx="1.9" ry="1.0" transform="rotate(130 770.2 574.8)" fill="#8a5a68"/><ellipse cx="736.4" cy="486.8" rx="1.3" ry="0.7" transform="rotate(131 736.4 486.8)" fill="#8a5a68"/><ellipse cx="656.6" cy="545.7" rx="1.9" ry="0.9" transform="rotate(92 656.6 545.7)" fill="#8a5a68"/><ellipse cx="779.1" cy="505.8" rx="2.1" ry="1.0" transform="rotate(90 779.1 505.8)" fill="#8a5a68"/><ellipse cx="726.9" cy="490.4" rx="1.6" ry="0.8" transform="rotate(22 726.9 490.4)" fill="#8a5a68"/><ellipse cx="750.3" cy="504.9" rx="1.3" ry="0.6" transform="rotate(86 750.3 504.9)" fill="#8a5a68"/><ellipse cx="693.0" cy="589.6" rx="1.2" ry="0.6" transform="rotate(128 693.0 589.6)" fill="#8a5a68"/><ellipse cx="709.5" cy="533.9" rx="2.0" ry="1.0" transform="rotate(14 709.5 533.9)" fill="#8a5a68"/><ellipse cx="727.5" cy="513.5" rx="1.8" ry="0.9" transform="rotate(2 727.5 513.5)" fill="#8a5a68"/><ellipse cx="760.2" cy="548.0" rx="2.3" ry="1.1" transform="rotate(100 760.2 548.0)" fill="#8a5a68"/><ellipse cx="763.2" cy="510.2" rx="1.3" ry="0.6" transform="rotate(88 763.2 510.2)" fill="#8a5a68"/><ellipse cx="764.5" cy="562.3" rx="1.3" ry="0.7" transform="rotate(140 764.5 562.3)" fill="#8a5a68"/><ellipse cx="711.1" cy="484.9" rx="1.5" ry="0.8" transform="rotate(104 711.1 484.9)" fill="#8a5a68"/><ellipse cx="783.6" cy="490.4" rx="2.0" ry="1.0" transform="rotate(17 783.6 490.4)" fill="#8a5a68"/><ellipse cx="672.1" cy="578.8" rx="2.3" ry="1.1" transform="rotate(46 672.1 578.8)" fill="#8a5a68"/><ellipse cx="741.5" cy="462.8" rx="1.7" ry="0.9" transform="rotate(108 741.5 462.8)" fill="#8a5a68"/><ellipse cx="753.4" cy="535.6" rx="1.7" ry="0.8" transform="rotate(128 753.4 535.6)" fill="#8a5a68"/><ellipse cx="719.6" cy="576.3" rx="1.3" ry="0.7" transform="rotate(128 719.6 576.3)" fill="#8a5a68"/><ellipse cx="767.4" cy="572.8" rx="1.7" ry="0.8" transform="rotate(76 767.4 572.8)" fill="#8a5a68"/><ellipse cx="753.7" cy="544.3" rx="1.4" ry="0.7" transform="rotate(63 753.7 544.3)" fill="#8a5a68"/><ellipse cx="702.3" cy="562.6" rx="2.0" ry="1.0" transform="rotate(19 702.3 562.6)" fill="#8a5a68"/><ellipse cx="732.3" cy="543.9" rx="2.2" ry="1.1" transform="rotate(144 732.3 543.9)" fill="#8a5a68"/><ellipse cx="763.2" cy="522.8" rx="1.8" ry="0.9" transform="rotate(147 763.2 522.8)" fill="#8a5a68"/><ellipse cx="767.6" cy="508.4" rx="1.6" ry="0.8" transform="rotate(164 767.6 508.4)" fill="#8a5a68"/><ellipse cx="691.1" cy="532.5" rx="1.6" ry="0.8" transform="rotate(150 691.1 532.5)" fill="#8a5a68"/><ellipse cx="765.1" cy="514.9" rx="1.8" ry="0.9" transform="rotate(135 765.1 514.9)" fill="#8a5a68"/><ellipse cx="759.3" cy="583.9" rx="1.8" ry="0.9" transform="rotate(100 759.3 583.9)" fill="#8a5a68"/><ellipse cx="711.6" cy="566.1" rx="1.4" ry="0.7" transform="rotate(163 711.6 566.1)" fill="#8a5a68"/><ellipse cx="774.9" cy="471.9" rx="2.0" ry="1.0" transform="rotate(78 774.9 471.9)" fill="#8a5a68"/><ellipse cx="768.1" cy="560.1" rx="1.8" ry="0.9" transform="rotate(76 768.1 560.1)" fill="#8a5a68"/><ellipse cx="726.5" cy="552.4" rx="1.6" ry="0.8" transform="rotate(165 726.5 552.4)" fill="#8a5a68"/><ellipse cx="777.5" cy="516.9" rx="1.7" ry="0.9" transform="rotate(88 777.5 516.9)" fill="#8a5a68"/><ellipse cx="660.3" cy="529.4" rx="2.0" ry="1.0" transform="rotate(2 660.3 529.4)" fill="#8a5a68"/><ellipse cx="743.6" cy="484.1" rx="1.3" ry="0.7" transform="rotate(76 743.6 484.1)" fill="#8a5a68"/><ellipse cx="717.7" cy="452.9" rx="2.1" ry="1.1" transform="rotate(36 717.7 452.9)" fill="#8a5a68"/><ellipse cx="726.7" cy="470.2" rx="1.4" ry="0.7" transform="rotate(148 726.7 470.2)" fill="#8a5a68"/><ellipse cx="673.4" cy="520.4" rx="1.4" ry="0.7" transform="rotate(179 673.4 520.4)" fill="#8a5a68"/><ellipse cx="738.3" cy="485.5" rx="1.7" ry="0.9" transform="rotate(21 738.3 485.5)" fill="#8a5a68"/><ellipse cx="706.1" cy="554.3" rx="1.4" ry="0.7" transform="rotate(165 706.1 554.3)" fill="#8a5a68"/><ellipse cx="705.2" cy="478.9" rx="2.3" ry="1.1" transform="rotate(81 705.2 478.9)" fill="#8a5a68"/><ellipse cx="669.4" cy="543.8" rx="1.9" ry="0.9" transform="rotate(32 669.4 543.8)" fill="#8a5a68"/><ellipse cx="773.5" cy="536.2" rx="2.2" ry="1.1" transform="rotate(126 773.5 536.2)" fill="#8a5a68"/><ellipse cx="723.4" cy="513.3" rx="2.1" ry="1.0" transform="rotate(72 723.4 513.3)" fill="#8a5a68"/><ellipse cx="684.8" cy="494.7" rx="1.7" ry="0.8" transform="rotate(135 684.8 494.7)" fill="#8a5a68"/><ellipse cx="762.3" cy="517.5" rx="2.0" ry="1.0" transform="rotate(145 762.3 517.5)" fill="#8a5a68"/><ellipse cx="687.6" cy="557.7" rx="1.7" ry="0.9" transform="rotate(39 687.6 557.7)" fill="#8a5a68"/><ellipse cx="738.6" cy="587.1" rx="2.0" ry="1.0" transform="rotate(162 738.6 587.1)" fill="#8a5a68"/><ellipse cx="711.3" cy="484.4" rx="1.7" ry="0.8" transform="rotate(125 711.3 484.4)" fill="#8a5a68"/><ellipse cx="774.5" cy="459.0" rx="2.2" ry="1.1" transform="rotate(15 774.5 459.0)" fill="#8a5a68"/><ellipse cx="759.7" cy="521.9" rx="1.8" ry="0.9" transform="rotate(104 759.7 521.9)" fill="#8a5a68"/><ellipse cx="717.8" cy="557.2" rx="2.3" ry="1.1" transform="rotate(61 717.8 557.2)" fill="#8a5a68"/><ellipse cx="709.3" cy="584.6" rx="1.3" ry="0.6" transform="rotate(38 709.3 584.6)" fill="#8a5a68"/><ellipse cx="671.3" cy="535.4" rx="1.3" ry="0.6" transform="rotate(105 671.3 535.4)" fill="#8a5a68"/><ellipse cx="690.7" cy="571.8" rx="1.7" ry="0.8" transform="rotate(36 690.7 571.8)" fill="#8a5a68"/><ellipse cx="663.6" cy="529.6" rx="1.5" ry="0.8" transform="rotate(14 663.6 529.6)" fill="#8a5a68"/><ellipse cx="793.8" cy="519.8" rx="2.0" ry="1.0" transform="rotate(77 793.8 519.8)" fill="#8a5a68"/><ellipse cx="718.9" cy="494.3" rx="1.9" ry="1.0" transform="rotate(108 718.9 494.3)" fill="#8a5a68"/><ellipse cx="697.2" cy="569.6" rx="2.0" ry="1.0" transform="rotate(134 697.2 569.6)" fill="#8a5a68"/><ellipse cx="750.3" cy="512.1" rx="1.6" ry="0.8" transform="rotate(30 750.3 512.1)" fill="#8a5a68"/><ellipse cx="763.2" cy="550.6" rx="1.5" ry="0.7" transform="rotate(156 763.2 550.6)" fill="#8a5a68"/><ellipse cx="681.0" cy="502.0" rx="2.2" ry="1.1" transform="rotate(150 681.0 502.0)" fill="#8a5a68"/><ellipse cx="757.4" cy="484.5" rx="1.3" ry="0.7" transform="rotate(157 757.4 484.5)" fill="#8a5a68"/><ellipse cx="770.0" cy="495.6" rx="1.5" ry="0.7" transform="rotate(125 770.0 495.6)" fill="#8a5a68"/><ellipse cx="745.2" cy="579.9" rx="1.3" ry="0.7" transform="rotate(161 745.2 579.9)" fill="#8a5a68"/><ellipse cx="680.7" cy="551.3" rx="2.3" ry="1.1" transform="rotate(62 680.7 551.3)" fill="#8a5a68"/><ellipse cx="676.5" cy="526.3" rx="1.3" ry="0.7" transform="rotate(123 676.5 526.3)" fill="#8a5a68"/><ellipse cx="717.9" cy="512.0" rx="1.6" ry="0.8" transform="rotate(66 717.9 512.0)" fill="#8a5a68"/><ellipse cx="724.0" cy="487.5" rx="2.1" ry="1.0" transform="rotate(68 724.0 487.5)" fill="#8a5a68"/><ellipse cx="727.5" cy="586.8" rx="1.3" ry="0.6" transform="rotate(118 727.5 586.8)" fill="#8a5a68"/><ellipse cx="741.6" cy="501.9" rx="1.8" ry="0.9" transform="rotate(75 741.6 501.9)" fill="#8a5a68"/><ellipse cx="680.0" cy="585.8" rx="2.2" ry="1.1" transform="rotate(146 680.0 585.8)" fill="#8a5a68"/><ellipse cx="738.8" cy="479.0" rx="1.9" ry="1.0" transform="rotate(114 738.8 479.0)" fill="#8a5a68"/><ellipse cx="721.2" cy="527.1" rx="1.4" ry="0.7" transform="rotate(102 721.2 527.1)" fill="#8a5a68"/><ellipse cx="715.2" cy="514.7" rx="1.6" ry="0.8" transform="rotate(34 715.2 514.7)" fill="#8a5a68"/><ellipse cx="722.5" cy="489.5" rx="1.4" ry="0.7" transform="rotate(123 722.5 489.5)" fill="#8a5a68"/><ellipse cx="777.9" cy="565.5" rx="2.1" ry="1.1" transform="rotate(8 777.9 565.5)" fill="#8a5a68"/><ellipse cx="760.9" cy="580.0" rx="2.2" ry="1.1" transform="rotate(163 760.9 580.0)" fill="#8a5a68"/><ellipse cx="733.8" cy="518.6" rx="1.6" ry="0.8" transform="rotate(75 733.8 518.6)" fill="#8a5a68"/><ellipse cx="759.0" cy="476.1" rx="2.0" ry="1.0" transform="rotate(19 759.0 476.1)" fill="#8a5a68"/><ellipse cx="726.6" cy="465.8" rx="1.8" ry="0.9" transform="rotate(162 726.6 465.8)" fill="#8a5a68"/><ellipse cx="714.8" cy="492.5" rx="2.2" ry="1.1" transform="rotate(103 714.8 492.5)" fill="#8a5a68"/><ellipse cx="743.8" cy="473.4" rx="1.7" ry="0.9" transform="rotate(151 743.8 473.4)" fill="#8a5a68"/><ellipse cx="738.1" cy="581.2" rx="1.8" ry="0.9" transform="rotate(75 738.1 581.2)" fill="#8a5a68"/><ellipse cx="776.1" cy="504.9" rx="1.6" ry="0.8" transform="rotate(114 776.1 504.9)" fill="#8a5a68"/><ellipse cx="711.5" cy="570.9" rx="2.1" ry="1.1" transform="rotate(137 711.5 570.9)" fill="#8a5a68"/><ellipse cx="699.7" cy="541.6" rx="1.4" ry="0.7" transform="rotate(102 699.7 541.6)" fill="#8a5a68"/><ellipse cx="761.9" cy="509.8" rx="2.2" ry="1.1" transform="rotate(102 761.9 509.8)" fill="#8a5a68"/><ellipse cx="760.6" cy="498.3" rx="2.2" ry="1.1" transform="rotate(165 760.6 498.3)" fill="#8a5a68"/><ellipse cx="740.5" cy="459.8" rx="1.3" ry="0.6" transform="rotate(132 740.5 459.8)" fill="#8a5a68"/><ellipse cx="659.2" cy="514.8" rx="1.3" ry="0.7" transform="rotate(88 659.2 514.8)" fill="#8a5a68"/><ellipse cx="723.7" cy="492.6" rx="1.5" ry="0.8" transform="rotate(132 723.7 492.6)" fill="#8a5a68"/><ellipse cx="791.2" cy="515.5" rx="1.5" ry="0.8" transform="rotate(42 791.2 515.5)" fill="#8a5a68"/><ellipse cx="784.5" cy="521.9" rx="2.1" ry="1.0" transform="rotate(159 784.5 521.9)" fill="#8a5a68"/><ellipse cx="748.4" cy="499.7" rx="1.8" ry="0.9" transform="rotate(8 748.4 499.7)" fill="#8a5a68"/><ellipse cx="689.6" cy="544.6" rx="1.9" ry="0.9" transform="rotate(64 689.6 544.6)" fill="#8a5a68"/><ellipse cx="690.4" cy="481.9" rx="1.6" ry="0.8" transform="rotate(69 690.4 481.9)" fill="#8a5a68"/><ellipse cx="667.9" cy="529.1" rx="2.3" ry="1.1" transform="rotate(120 667.9 529.1)" fill="#8a5a68"/><ellipse cx="791.1" cy="519.4" rx="1.5" ry="0.7" transform="rotate(15 791.1 519.4)" fill="#8a5a68"/><ellipse cx="749.6" cy="586.8" rx="1.3" ry="0.7" transform="rotate(116 749.6 586.8)" fill="#8a5a68"/><ellipse cx="685.6" cy="590.1" rx="1.2" ry="0.6" transform="rotate(106 685.6 590.1)" fill="#8a5a68"/><ellipse cx="781.8" cy="491.9" rx="1.5" ry="0.8" transform="rotate(46 781.8 491.9)" fill="#8a5a68"/><ellipse cx="717.4" cy="509.6" rx="1.4" ry="0.7" transform="rotate(30 717.4 509.6)" fill="#8a5a68"/><ellipse cx="684.1" cy="526.7" rx="1.7" ry="0.8" transform="rotate(151 684.1 526.7)" fill="#8a5a68"/><ellipse cx="744.3" cy="570.0" rx="2.0" ry="1.0" transform="rotate(161 744.3 570.0)" fill="#8a5a68"/><ellipse cx="789.7" cy="526.0" rx="1.6" ry="0.8" transform="rotate(38 789.7 526.0)" fill="#8a5a68"/><ellipse cx="723.4" cy="507.3" rx="1.5" ry="0.7" transform="rotate(152 723.4 507.3)" fill="#8a5a68"/><ellipse cx="735.6" cy="556.3" rx="1.6" ry="0.8" transform="rotate(28 735.6 556.3)" fill="#8a5a68"/><ellipse cx="665.2" cy="558.4" rx="1.7" ry="0.9" transform="rotate(32 665.2 558.4)" fill="#8a5a68"/><ellipse cx="776.5" cy="510.6" rx="1.7" ry="0.8" transform="rotate(47 776.5 510.6)" fill="#8a5a68"/><ellipse cx="751.3" cy="527.7" rx="2.1" ry="1.0" transform="rotate(164 751.3 527.7)" fill="#8a5a68"/><ellipse cx="709.5" cy="552.6" rx="2.3" ry="1.1" transform="rotate(130 709.5 552.6)" fill="#8a5a68"/><ellipse cx="689.8" cy="528.3" rx="1.4" ry="0.7" transform="rotate(88 689.8 528.3)" fill="#8a5a68"/><ellipse cx="701.3" cy="496.7" rx="1.7" ry="0.8" transform="rotate(42 701.3 496.7)" fill="#8a5a68"/><ellipse cx="697.6" cy="554.0" rx="1.5" ry="0.7" transform="rotate(47 697.6 554.0)" fill="#8a5a68"/><ellipse cx="695.1" cy="474.5" rx="1.8" ry="0.9" transform="rotate(84 695.1 474.5)" fill="#8a5a68"/><ellipse cx="778.6" cy="507.5" rx="1.6" ry="0.8" transform="rotate(127 778.6 507.5)" fill="#8a5a68"/><ellipse cx="732.7" cy="538.5" rx="2.2" ry="1.1" transform="rotate(166 732.7 538.5)" fill="#8a5a68"/><ellipse cx="726.4" cy="554.5" rx="2.2" ry="1.1" transform="rotate(17 726.4 554.5)" fill="#8a5a68"/><ellipse cx="661.7" cy="544.0" rx="1.3" ry="0.6" transform="rotate(179 661.7 544.0)" fill="#8a5a68"/><ellipse cx="666.3" cy="578.5" rx="2.3" ry="1.1" transform="rotate(61 666.3 578.5)" fill="#8a5a68"/><ellipse cx="698.1" cy="466.1" rx="1.9" ry="0.9" transform="rotate(32 698.1 466.1)" fill="#8a5a68"/><ellipse cx="773.0" cy="530.9" rx="2.1" ry="1.0" transform="rotate(72 773.0 530.9)" fill="#8a5a68"/><ellipse cx="674.5" cy="536.0" rx="2.0" ry="1.0" transform="rotate(32 674.5 536.0)" fill="#8a5a68"/><ellipse cx="678.0" cy="487.4" rx="1.9" ry="0.9" transform="rotate(65 678.0 487.4)" fill="#8a5a68"/><ellipse cx="685.4" cy="550.8" rx="1.3" ry="0.7" transform="rotate(159 685.4 550.8)" fill="#8a5a68"/><ellipse cx="726.9" cy="574.8" rx="1.9" ry="1.0" transform="rotate(162 726.9 574.8)" fill="#8a5a68"/><ellipse cx="690.7" cy="465.4" rx="1.4" ry="0.7" transform="rotate(147 690.7 465.4)" fill="#8a5a68"/><ellipse cx="669.6" cy="551.0" rx="2.2" ry="1.1" transform="rotate(126 669.6 551.0)" fill="#8a5a68"/><ellipse cx="698.7" cy="535.5" rx="2.1" ry="1.1" transform="rotate(61 698.7 535.5)" fill="#8a5a68"/><ellipse cx="729.6" cy="493.1" rx="2.3" ry="1.1" transform="rotate(178 729.6 493.1)" fill="#8a5a68"/><ellipse cx="722.4" cy="593.1" rx="2.2" ry="1.1" transform="rotate(9 722.4 593.1)" fill="#8a5a68"/><ellipse cx="685.9" cy="504.2" rx="1.7" ry="0.9" transform="rotate(172 685.9 504.2)" fill="#8a5a68"/><ellipse cx="698.9" cy="581.6" rx="2.1" ry="1.0" transform="rotate(138 698.9 581.6)" fill="#8a5a68"/><ellipse cx="728.2" cy="462.3" rx="2.3" ry="1.1" transform="rotate(20 728.2 462.3)" fill="#8a5a68"/><ellipse cx="743.6" cy="502.8" rx="1.3" ry="0.6" transform="rotate(84 743.6 502.8)" fill="#8a5a68"/><ellipse cx="688.9" cy="535.8" rx="1.2" ry="0.6" transform="rotate(46 688.9 535.8)" fill="#8a5a68"/><ellipse cx="756.9" cy="518.4" rx="1.5" ry="0.8" transform="rotate(141 756.9 518.4)" fill="#8a5a68"/><ellipse cx="690.5" cy="470.5" rx="1.9" ry="0.9" transform="rotate(63 690.5 470.5)" fill="#8a5a68"/><ellipse cx="701.9" cy="590.4" rx="1.3" ry="0.7" transform="rotate(38 701.9 590.4)" fill="#8a5a68"/><ellipse cx="666.6" cy="539.9" rx="1.8" ry="0.9" transform="rotate(38 666.6 539.9)" fill="#8a5a68"/><ellipse cx="729.4" cy="576.7" rx="1.8" ry="0.9" transform="rotate(54 729.4 576.7)" fill="#8a5a68"/><ellipse cx="705.0" cy="556.7" rx="1.5" ry="0.8" transform="rotate(149 705.0 556.7)" fill="#8a5a68"/><ellipse cx="697.7" cy="487.4" rx="1.4" ry="0.7" transform="rotate(179 697.7 487.4)" fill="#8a5a68"/><ellipse cx="718.7" cy="581.9" rx="1.4" ry="0.7" transform="rotate(26 718.7 581.9)" fill="#8a5a68"/><ellipse cx="755.8" cy="473.7" rx="2.3" ry="1.1" transform="rotate(86 755.8 473.7)" fill="#8a5a68"/><ellipse cx="689.3" cy="528.9" rx="1.3" ry="0.6" transform="rotate(92 689.3 528.9)" fill="#8a5a68"/><ellipse cx="706.1" cy="550.7" rx="2.1" ry="1.1" transform="rotate(172 706.1 550.7)" fill="#8a5a68"/><ellipse cx="726.3" cy="596.8" rx="2.0" ry="1.0" transform="rotate(41 726.3 596.8)" fill="#8a5a68"/><ellipse cx="731.1" cy="596.0" rx="1.4" ry="0.7" transform="rotate(146 731.1 596.0)" fill="#8a5a68"/><ellipse cx="690.4" cy="529.5" rx="1.3" ry="0.6" transform="rotate(12 690.4 529.5)" fill="#8a5a68"/><ellipse cx="739.8" cy="492.5" rx="1.5" ry="0.7" transform="rotate(168 739.8 492.5)" fill="#8a5a68"/><ellipse cx="762.1" cy="573.4" rx="1.7" ry="0.9" transform="rotate(68 762.1 573.4)" fill="#8a5a68"/><ellipse cx="740.9" cy="582.9" rx="2.3" ry="1.1" transform="rotate(84 740.9 582.9)" fill="#8a5a68"/><ellipse cx="709.6" cy="491.6" rx="2.0" ry="1.0" transform="rotate(68 709.6 491.6)" fill="#8a5a68"/><ellipse cx="757.0" cy="551.8" rx="1.7" ry="0.9" transform="rotate(117 757.0 551.8)" fill="#8a5a68"/><ellipse cx="750.2" cy="577.4" rx="1.5" ry="0.7" transform="rotate(153 750.2 577.4)" fill="#8a5a68"/><ellipse cx="737.6" cy="542.9" rx="1.4" ry="0.7" transform="rotate(12 737.6 542.9)" fill="#8a5a68"/><ellipse cx="673.6" cy="565.7" rx="1.3" ry="0.6" transform="rotate(9 673.6 565.7)" fill="#8a5a68"/><ellipse cx="746.6" cy="502.6" rx="2.2" ry="1.1" transform="rotate(5 746.6 502.6)" fill="#8a5a68"/><ellipse cx="707.3" cy="574.0" rx="1.4" ry="0.7" transform="rotate(156 707.3 574.0)" fill="#8a5a68"/><ellipse cx="700.4" cy="545.7" rx="2.0" ry="1.0" transform="rotate(29 700.4 545.7)" fill="#8a5a68"/><ellipse cx="750.1" cy="513.2" rx="1.6" ry="0.8" transform="rotate(106 750.1 513.2)" fill="#8a5a68"/><ellipse cx="678.5" cy="497.7" rx="1.3" ry="0.6" transform="rotate(139 678.5 497.7)" fill="#8a5a68"/><ellipse cx="757.8" cy="481.1" rx="1.8" ry="0.9" transform="rotate(6 757.8 481.1)" fill="#8a5a68"/><ellipse cx="739.8" cy="451.0" rx="1.4" ry="0.7" transform="rotate(68 739.8 451.0)" fill="#8a5a68"/><ellipse cx="705.7" cy="521.1" rx="1.6" ry="0.8" transform="rotate(176 705.7 521.1)" fill="#8a5a68"/><ellipse cx="751.8" cy="514.8" rx="2.1" ry="1.0" transform="rotate(105 751.8 514.8)" fill="#8a5a68"/><ellipse cx="788.7" cy="494.4" rx="1.8" ry="0.9" transform="rotate(104 788.7 494.4)" fill="#8a5a68"/><ellipse cx="745.3" cy="508.2" rx="1.8" ry="0.9" transform="rotate(19 745.3 508.2)" fill="#8a5a68"/><ellipse cx="716.4" cy="526.3" rx="1.8" ry="0.9" transform="rotate(74 716.4 526.3)" fill="#8a5a68"/><ellipse cx="726.3" cy="566.3" rx="1.5" ry="0.7" transform="rotate(146 726.3 566.3)" fill="#8a5a68"/><ellipse cx="749.8" cy="474.9" rx="1.7" ry="0.8" transform="rotate(4 749.8 474.9)" fill="#8a5a68"/><ellipse cx="738.8" cy="481.5" rx="2.1" ry="1.1" transform="rotate(180 738.8 481.5)" fill="#8a5a68"/><ellipse cx="752.2" cy="509.3" rx="1.8" ry="0.9" transform="rotate(148 752.2 509.3)" fill="#8a5a68"/><ellipse cx="786.0" cy="515.0" rx="1.9" ry="0.9" transform="rotate(95 786.0 515.0)" fill="#8a5a68"/><ellipse cx="790.0" cy="507.0" rx="1.4" ry="0.7" transform="rotate(108 790.0 507.0)" fill="#8a5a68"/><ellipse cx="787.3" cy="559.8" rx="1.7" ry="0.9" transform="rotate(149 787.3 559.8)" fill="#8a5a68"/><ellipse cx="777.2" cy="568.5" rx="1.4" ry="0.7" transform="rotate(80 777.2 568.5)" fill="#8a5a68"/><ellipse cx="715.8" cy="597.3" rx="1.3" ry="0.7" transform="rotate(41 715.8 597.3)" fill="#8a5a68"/><ellipse cx="716.6" cy="569.1" rx="2.0" ry="1.0" transform="rotate(177 716.6 569.1)" fill="#8a5a68"/><ellipse cx="724.6" cy="550.1" rx="1.5" ry="0.8" transform="rotate(100 724.6 550.1)" fill="#8a5a68"/><ellipse cx="700.0" cy="554.4" rx="1.6" ry="0.8" transform="rotate(38 700.0 554.4)" fill="#8a5a68"/><ellipse cx="660.2" cy="546.3" rx="2.0" ry="1.0" transform="rotate(100 660.2 546.3)" fill="#8a5a68"/><ellipse cx="738.4" cy="452.0" rx="1.4" ry="0.7" transform="rotate(122 738.4 452.0)" fill="#8a5a68"/><ellipse cx="790.9" cy="521.6" rx="2.1" ry="1.0" transform="rotate(108 790.9 521.6)" fill="#8a5a68"/><ellipse cx="741.3" cy="468.0" rx="1.4" ry="0.7" transform="rotate(50 741.3 468.0)" fill="#8a5a68"/><ellipse cx="775.8" cy="490.2" rx="2.1" ry="1.0" transform="rotate(74 775.8 490.2)" fill="#8a5a68"/><ellipse cx="679.3" cy="549.0" rx="1.3" ry="0.7" transform="rotate(26 679.3 549.0)" fill="#8a5a68"/><ellipse cx="701.7" cy="467.8" rx="2.0" ry="1.0" transform="rotate(43 701.7 467.8)" fill="#8a5a68"/><ellipse cx="689.1" cy="553.6" rx="2.0" ry="1.0" transform="rotate(115 689.1 553.6)" fill="#8a5a68"/><ellipse cx="774.9" cy="528.5" rx="1.3" ry="0.7" transform="rotate(11 774.9 528.5)" fill="#8a5a68"/><ellipse cx="730.3" cy="585.4" rx="1.2" ry="0.6" transform="rotate(19 730.3 585.4)" fill="#8a5a68"/><ellipse cx="691.2" cy="559.5" rx="1.5" ry="0.8" transform="rotate(162 691.2 559.5)" fill="#8a5a68"/><ellipse cx="652.6" cy="545.6" rx="1.7" ry="0.9" transform="rotate(65 652.6 545.6)" fill="#8a5a68"/><ellipse cx="792.0" cy="513.3" rx="1.2" ry="0.6" transform="rotate(145 792.0 513.3)" fill="#8a5a68"/><ellipse cx="713.2" cy="495.7" rx="1.5" ry="0.8" transform="rotate(121 713.2 495.7)" fill="#8a5a68"/><ellipse cx="655.9" cy="554.7" rx="1.4" ry="0.7" transform="rotate(130 655.9 554.7)" fill="#8a5a68"/><ellipse cx="695.5" cy="496.3" rx="1.7" ry="0.9" transform="rotate(148 695.5 496.3)" fill="#8a5a68"/><ellipse cx="749.4" cy="477.2" rx="2.1" ry="1.1" transform="rotate(10 749.4 477.2)" fill="#8a5a68"/><ellipse cx="710.5" cy="587.0" rx="1.3" ry="0.7" transform="rotate(91 710.5 587.0)" fill="#8a5a68"/><ellipse cx="752.3" cy="458.3" rx="2.0" ry="1.0" transform="rotate(61 752.3 458.3)" fill="#8a5a68"/><ellipse cx="698.2" cy="507.9" rx="1.7" ry="0.8" transform="rotate(18 698.2 507.9)" fill="#8a5a68"/><ellipse cx="714.5" cy="531.4" rx="1.9" ry="1.0" transform="rotate(137 714.5 531.4)" fill="#8a5a68"/><ellipse cx="714.2" cy="531.3" rx="1.4" ry="0.7" transform="rotate(92 714.2 531.3)" fill="#8a5a68"/><ellipse cx="701.3" cy="590.4" rx="2.2" ry="1.1" transform="rotate(148 701.3 590.4)" fill="#8a5a68"/><ellipse cx="781.6" cy="529.5" rx="1.5" ry="0.7" transform="rotate(124 781.6 529.5)" fill="#8a5a68"/><ellipse cx="733.7" cy="516.4" rx="2.1" ry="1.1" transform="rotate(49 733.7 516.4)" fill="#8a5a68"/></g>
<g filter="url(#histo)"><path d="M992.0,463.0 C995.8,460.2 992.7,451.2 996.0,448.0 C999.3,444.8 1007.3,443.7 1012.0,444.0 C1016.7,444.3 1021.8,445.2 1024.0,450.0 C1026.2,454.8 1021.2,466.5 1025.0,473.0 C1028.8,479.5 1043.8,484.0 1047.0,489.0 C1050.2,494.0 1042.7,498.8 1044.0,503.0 C1045.3,507.2 1053.2,508.5 1055.0,514.0 C1056.8,519.5 1056.7,530.2 1055.0,536.0 C1053.3,541.8 1046.0,544.7 1045.0,549.0 C1044.0,553.3 1050.0,557.7 1049.0,562.0 C1048.0,566.3 1043.5,571.7 1039.0,575.0 C1034.5,578.3 1025.3,579.0 1022.0,582.0 C1018.7,585.0 1024.0,590.5 1019.0,593.0 C1014.0,595.5 998.2,595.8 992.0,597.0 C985.8,598.2 984.7,601.3 982.0,600.0 C979.3,598.7 980.3,592.0 976.0,589.0 C971.7,586.0 962.0,585.2 956.0,582.0 C950.0,578.8 943.5,575.5 940.0,570.0 C936.5,564.5 935.8,555.3 935.0,549.0 C934.2,542.7 937.0,537.0 935.0,532.0 C933.0,527.0 925.3,523.7 923.0,519.0 C920.7,514.3 919.0,508.3 921.0,504.0 C923.0,499.7 932.5,497.0 935.0,493.0 C937.5,489.0 932.5,483.8 936.0,480.0 C939.5,476.2 949.8,472.5 956.0,470.0 C962.2,467.5 967.0,466.2 973.0,465.0 C979.0,463.8 988.2,465.8 992.0,463.0 Z" fill="#e4a2b4" filter="url(#blur1)"/><path d="M992.0,478.7 C994.8,476.6 992.5,469.9 995.0,467.6 C997.4,465.3 1003.3,464.4 1006.8,464.6 C1010.3,464.9 1014.1,465.5 1015.7,469.1 C1017.3,472.7 1013.6,481.3 1016.4,486.1 C1019.3,490.9 1030.4,494.2 1032.7,497.9 C1035.0,501.6 1029.5,505.2 1030.5,508.3 C1031.5,511.4 1037.3,512.4 1038.6,516.4 C1040.0,520.5 1039.9,528.4 1038.6,532.7 C1037.4,537.0 1032.0,539.1 1031.2,542.3 C1030.5,545.5 1034.9,548.7 1034.2,552.0 C1033.4,555.2 1030.1,559.1 1026.8,561.6 C1023.4,564.0 1016.7,564.5 1014.2,566.8 C1011.7,569.0 1015.7,573.0 1012.0,574.9 C1008.3,576.7 996.6,577.0 992.0,577.9 C987.4,578.7 986.6,581.1 984.6,580.1 C982.6,579.1 983.4,574.2 980.2,571.9 C977.0,569.7 969.8,569.1 965.4,566.8 C960.9,564.4 956.1,561.9 953.5,557.9 C950.9,553.8 950.4,547.0 949.8,542.3 C949.2,537.6 951.3,533.5 949.8,529.8 C948.3,526.1 942.7,523.6 940.9,520.1 C939.2,516.7 938.0,512.2 939.5,509.0 C940.9,505.8 948.0,503.9 949.8,500.9 C951.7,497.9 948.0,494.1 950.6,491.3 C953.1,488.4 960.8,485.7 965.4,483.9 C969.9,482.0 973.5,481.0 977.9,480.2 C982.4,479.3 989.2,480.8 992.0,478.7 Z" fill="#ecdcdc" filter="url(#blur25)"/></g>
<g opacity="0.55"><ellipse cx="1007.4" cy="586.7" rx="1.5" ry="0.7" transform="rotate(46 1007.4 586.7)" fill="#c26a88"/><ellipse cx="1008.2" cy="493.2" rx="2.0" ry="1.0" transform="rotate(71 1008.2 493.2)" fill="#c26a88"/><ellipse cx="958.5" cy="576.5" rx="1.5" ry="0.8" transform="rotate(145 958.5 576.5)" fill="#c26a88"/><ellipse cx="1026.6" cy="541.4" rx="1.4" ry="0.7" transform="rotate(99 1026.6 541.4)" fill="#c26a88"/><ellipse cx="946.0" cy="544.3" rx="1.3" ry="0.7" transform="rotate(61 946.0 544.3)" fill="#c26a88"/><ellipse cx="959.8" cy="574.0" rx="1.6" ry="0.8" transform="rotate(105 959.8 574.0)" fill="#c26a88"/><ellipse cx="1006.0" cy="578.7" rx="1.8" ry="0.9" transform="rotate(115 1006.0 578.7)" fill="#c26a88"/><ellipse cx="1035.4" cy="524.1" rx="1.4" ry="0.7" transform="rotate(81 1035.4 524.1)" fill="#c26a88"/><ellipse cx="986.3" cy="490.0" rx="1.5" ry="0.7" transform="rotate(22 986.3 490.0)" fill="#c26a88"/><ellipse cx="945.6" cy="509.2" rx="2.0" ry="1.0" transform="rotate(105 945.6 509.2)" fill="#c26a88"/><ellipse cx="985.8" cy="549.3" rx="1.8" ry="0.9" transform="rotate(82 985.8 549.3)" fill="#c26a88"/><ellipse cx="983.2" cy="510.0" rx="2.1" ry="1.1" transform="rotate(46 983.2 510.0)" fill="#c26a88"/><ellipse cx="955.0" cy="575.7" rx="2.2" ry="1.1" transform="rotate(12 955.0 575.7)" fill="#c26a88"/><ellipse cx="986.9" cy="487.9" rx="1.7" ry="0.8" transform="rotate(149 986.9 487.9)" fill="#c26a88"/><ellipse cx="1044.2" cy="510.8" rx="1.6" ry="0.8" transform="rotate(102 1044.2 510.8)" fill="#c26a88"/><ellipse cx="958.5" cy="493.1" rx="1.4" ry="0.7" transform="rotate(113 958.5 493.1)" fill="#c26a88"/><ellipse cx="989.1" cy="525.2" rx="2.1" ry="1.0" transform="rotate(178 989.1 525.2)" fill="#c26a88"/><ellipse cx="950.3" cy="482.5" rx="2.2" ry="1.1" transform="rotate(48 950.3 482.5)" fill="#c26a88"/><ellipse cx="951.4" cy="548.5" rx="1.6" ry="0.8" transform="rotate(130 951.4 548.5)" fill="#c26a88"/><ellipse cx="1018.6" cy="564.2" rx="1.4" ry="0.7" transform="rotate(116 1018.6 564.2)" fill="#c26a88"/><ellipse cx="971.4" cy="505.1" rx="2.3" ry="1.1" transform="rotate(98 971.4 505.1)" fill="#c26a88"/><ellipse cx="986.7" cy="588.4" rx="1.2" ry="0.6" transform="rotate(116 986.7 588.4)" fill="#c26a88"/><ellipse cx="984.3" cy="498.5" rx="1.5" ry="0.7" transform="rotate(19 984.3 498.5)" fill="#c26a88"/><ellipse cx="951.9" cy="520.2" rx="1.3" ry="0.7" transform="rotate(161 951.9 520.2)" fill="#c26a88"/><ellipse cx="1024.2" cy="486.4" rx="1.6" ry="0.8" transform="rotate(77 1024.2 486.4)" fill="#c26a88"/><ellipse cx="1000.3" cy="569.5" rx="2.0" ry="1.0" transform="rotate(104 1000.3 569.5)" fill="#c26a88"/><ellipse cx="958.8" cy="517.7" rx="2.2" ry="1.1" transform="rotate(156 958.8 517.7)" fill="#c26a88"/><ellipse cx="1006.9" cy="569.5" rx="2.2" ry="1.1" transform="rotate(12 1006.9 569.5)" fill="#c26a88"/><ellipse cx="1035.4" cy="570.3" rx="2.2" ry="1.1" transform="rotate(12 1035.4 570.3)" fill="#c26a88"/><ellipse cx="1036.6" cy="517.5" rx="2.2" ry="1.1" transform="rotate(129 1036.6 517.5)" fill="#c26a88"/><ellipse cx="956.5" cy="548.6" rx="1.9" ry="1.0" transform="rotate(0 956.5 548.6)" fill="#c26a88"/><ellipse cx="940.8" cy="504.9" rx="1.5" ry="0.8" transform="rotate(130 940.8 504.9)" fill="#c26a88"/><ellipse cx="991.2" cy="571.2" rx="1.7" ry="0.8" transform="rotate(162 991.2 571.2)" fill="#c26a88"/><ellipse cx="973.7" cy="537.0" rx="1.5" ry="0.7" transform="rotate(137 973.7 537.0)" fill="#c26a88"/><ellipse cx="972.7" cy="553.7" rx="1.5" ry="0.7" transform="rotate(147 972.7 553.7)" fill="#c26a88"/><ellipse cx="1021.0" cy="570.1" rx="1.4" ry="0.7" transform="rotate(153 1021.0 570.1)" fill="#c26a88"/><ellipse cx="1034.4" cy="530.6" rx="1.2" ry="0.6" transform="rotate(122 1034.4 530.6)" fill="#c26a88"/><ellipse cx="1022.8" cy="510.9" rx="1.4" ry="0.7" transform="rotate(134 1022.8 510.9)" fill="#c26a88"/><ellipse cx="1013.9" cy="475.7" rx="1.6" ry="0.8" transform="rotate(124 1013.9 475.7)" fill="#c26a88"/><ellipse cx="938.8" cy="502.1" rx="1.4" ry="0.7" transform="rotate(123 938.8 502.1)" fill="#c26a88"/><ellipse cx="988.0" cy="570.3" rx="1.5" ry="0.8" transform="rotate(32 988.0 570.3)" fill="#c26a88"/><ellipse cx="992.5" cy="471.4" rx="1.8" ry="0.9" transform="rotate(123 992.5 471.4)" fill="#c26a88"/><ellipse cx="971.2" cy="492.1" rx="1.9" ry="1.0" transform="rotate(133 971.2 492.1)" fill="#c26a88"/><ellipse cx="941.9" cy="535.1" rx="2.2" ry="1.1" transform="rotate(56 941.9 535.1)" fill="#c26a88"/><ellipse cx="999.7" cy="569.5" rx="2.1" ry="1.0" transform="rotate(32 999.7 569.5)" fill="#c26a88"/><ellipse cx="1032.8" cy="530.2" rx="1.6" ry="0.8" transform="rotate(147 1032.8 530.2)" fill="#c26a88"/><ellipse cx="1034.9" cy="488.7" rx="1.5" ry="0.8" transform="rotate(145 1034.9 488.7)" fill="#c26a88"/><ellipse cx="953.8" cy="505.6" rx="1.9" ry="0.9" transform="rotate(20 953.8 505.6)" fill="#c26a88"/><ellipse cx="980.5" cy="561.7" rx="2.0" ry="1.0" transform="rotate(14 980.5 561.7)" fill="#c26a88"/><ellipse cx="999.3" cy="477.3" rx="1.3" ry="0.6" transform="rotate(65 999.3 477.3)" fill="#c26a88"/><ellipse cx="1019.1" cy="462.0" rx="1.8" ry="0.9" transform="rotate(42 1019.1 462.0)" fill="#c26a88"/><ellipse cx="942.1" cy="530.2" rx="1.5" ry="0.8" transform="rotate(92 942.1 530.2)" fill="#c26a88"/><ellipse cx="940.6" cy="522.9" rx="2.1" ry="1.1" transform="rotate(30 940.6 522.9)" fill="#c26a88"/><ellipse cx="1004.9" cy="454.6" rx="1.7" ry="0.8" transform="rotate(3 1004.9 454.6)" fill="#c26a88"/><ellipse cx="992.7" cy="478.5" rx="1.8" ry="0.9" transform="rotate(64 992.7 478.5)" fill="#c26a88"/><ellipse cx="1040.6" cy="511.2" rx="1.4" ry="0.7" transform="rotate(173 1040.6 511.2)" fill="#c26a88"/><ellipse cx="1004.2" cy="519.4" rx="1.4" ry="0.7" transform="rotate(158 1004.2 519.4)" fill="#c26a88"/><ellipse cx="993.5" cy="550.9" rx="1.5" ry="0.8" transform="rotate(44 993.5 550.9)" fill="#c26a88"/><ellipse cx="952.5" cy="550.9" rx="1.9" ry="1.0" transform="rotate(46 952.5 550.9)" fill="#c26a88"/><ellipse cx="951.0" cy="480.1" rx="1.5" ry="0.7" transform="rotate(42 951.0 480.1)" fill="#c26a88"/><ellipse cx="950.0" cy="547.5" rx="2.1" ry="1.0" transform="rotate(6 950.0 547.5)" fill="#c26a88"/><ellipse cx="995.7" cy="481.0" rx="2.3" ry="1.1" transform="rotate(41 995.7 481.0)" fill="#c26a88"/><ellipse cx="1032.0" cy="510.5" rx="1.8" ry="0.9" transform="rotate(170 1032.0 510.5)" fill="#c26a88"/><ellipse cx="1021.9" cy="558.2" rx="1.7" ry="0.9" transform="rotate(27 1021.9 558.2)" fill="#c26a88"/><ellipse cx="1014.8" cy="542.7" rx="2.3" ry="1.1" transform="rotate(169 1014.8 542.7)" fill="#c26a88"/><ellipse cx="988.8" cy="582.2" rx="1.5" ry="0.8" transform="rotate(22 988.8 582.2)" fill="#c26a88"/><ellipse cx="966.2" cy="511.0" rx="1.5" ry="0.8" transform="rotate(58 966.2 511.0)" fill="#c26a88"/><ellipse cx="968.5" cy="484.9" rx="2.3" ry="1.1" transform="rotate(79 968.5 484.9)" fill="#c26a88"/><ellipse cx="987.6" cy="552.9" rx="2.0" ry="1.0" transform="rotate(1 987.6 552.9)" fill="#c26a88"/><ellipse cx="951.4" cy="545.2" rx="1.8" ry="0.9" transform="rotate(171 951.4 545.2)" fill="#c26a88"/><ellipse cx="1015.2" cy="515.4" rx="1.6" ry="0.8" transform="rotate(155 1015.2 515.4)" fill="#c26a88"/><ellipse cx="1014.2" cy="487.7" rx="1.5" ry="0.8" transform="rotate(33 1014.2 487.7)" fill="#c26a88"/><ellipse cx="1017.2" cy="491.3" rx="1.7" ry="0.9" transform="rotate(131 1017.2 491.3)" fill="#c26a88"/><ellipse cx="1008.8" cy="482.9" rx="2.2" ry="1.1" transform="rotate(10 1008.8 482.9)" fill="#c26a88"/><ellipse cx="1006.0" cy="560.0" rx="1.4" ry="0.7" transform="rotate(36 1006.0 560.0)" fill="#c26a88"/><ellipse cx="973.7" cy="479.6" rx="1.3" ry="0.7" transform="rotate(150 973.7 479.6)" fill="#c26a88"/><ellipse cx="966.2" cy="523.3" rx="1.4" ry="0.7" transform="rotate(157 966.2 523.3)" fill="#c26a88"/><ellipse cx="1016.8" cy="530.5" rx="2.0" ry="1.0" transform="rotate(136 1016.8 530.5)" fill="#c26a88"/><ellipse cx="967.4" cy="537.8" rx="1.7" ry="0.8" transform="rotate(75 967.4 537.8)" fill="#c26a88"/><ellipse cx="1004.0" cy="519.2" rx="2.2" ry="1.1" transform="rotate(9 1004.0 519.2)" fill="#c26a88"/><ellipse cx="1015.0" cy="477.0" rx="1.9" ry="0.9" transform="rotate(145 1015.0 477.0)" fill="#c26a88"/><ellipse cx="938.2" cy="496.2" rx="1.2" ry="0.6" transform="rotate(131 938.2 496.2)" fill="#c26a88"/><ellipse cx="1022.2" cy="496.0" rx="1.5" ry="0.7" transform="rotate(173 1022.2 496.0)" fill="#c26a88"/><ellipse cx="977.5" cy="577.8" rx="1.9" ry="1.0" transform="rotate(141 977.5 577.8)" fill="#c26a88"/><ellipse cx="1024.0" cy="521.9" rx="1.5" ry="0.8" transform="rotate(86 1024.0 521.9)" fill="#c26a88"/><ellipse cx="935.5" cy="505.9" rx="1.7" ry="0.9" transform="rotate(33 935.5 505.9)" fill="#c26a88"/><ellipse cx="1043.4" cy="511.1" rx="1.8" ry="0.9" transform="rotate(0 1043.4 511.1)" fill="#c26a88"/><ellipse cx="1024.6" cy="485.0" rx="1.8" ry="0.9" transform="rotate(165 1024.6 485.0)" fill="#c26a88"/><ellipse cx="1001.5" cy="504.7" rx="1.6" ry="0.8" transform="rotate(23 1001.5 504.7)" fill="#c26a88"/><ellipse cx="975.6" cy="477.6" rx="1.3" ry="0.7" transform="rotate(163 975.6 477.6)" fill="#c26a88"/><ellipse cx="1004.4" cy="536.0" rx="1.9" ry="0.9" transform="rotate(162 1004.4 536.0)" fill="#c26a88"/><ellipse cx="1005.5" cy="464.9" rx="2.2" ry="1.1" transform="rotate(68 1005.5 464.9)" fill="#c26a88"/><ellipse cx="940.2" cy="497.6" rx="1.5" ry="0.8" transform="rotate(135 940.2 497.6)" fill="#c26a88"/><ellipse cx="938.7" cy="520.2" rx="1.7" ry="0.9" transform="rotate(135 938.7 520.2)" fill="#c26a88"/><ellipse cx="995.1" cy="529.8" rx="2.2" ry="1.1" transform="rotate(166 995.1 529.8)" fill="#c26a88"/><ellipse cx="995.9" cy="569.1" rx="2.0" ry="1.0" transform="rotate(46 995.9 569.1)" fill="#c26a88"/><ellipse cx="936.4" cy="514.6" rx="2.3" ry="1.1" transform="rotate(49 936.4 514.6)" fill="#c26a88"/><ellipse cx="1006.8" cy="583.9" rx="1.5" ry="0.8" transform="rotate(57 1006.8 583.9)" fill="#c26a88"/><ellipse cx="944.9" cy="488.2" rx="1.9" ry="0.9" transform="rotate(93 944.9 488.2)" fill="#c26a88"/><ellipse cx="1042.5" cy="559.1" rx="1.9" ry="0.9" transform="rotate(169 1042.5 559.1)" fill="#c26a88"/><ellipse cx="960.3" cy="509.4" rx="2.1" ry="1.1" transform="rotate(18 960.3 509.4)" fill="#c26a88"/><ellipse cx="965.6" cy="483.0" rx="2.3" ry="1.1" transform="rotate(161 965.6 483.0)" fill="#c26a88"/><ellipse cx="1026.0" cy="501.3" rx="2.0" ry="1.0" transform="rotate(85 1026.0 501.3)" fill="#c26a88"/><ellipse cx="960.0" cy="487.3" rx="2.1" ry="1.1" transform="rotate(71 960.0 487.3)" fill="#c26a88"/><ellipse cx="1016.9" cy="479.6" rx="1.6" ry="0.8" transform="rotate(68 1016.9 479.6)" fill="#c26a88"/><ellipse cx="930.3" cy="518.7" rx="1.3" ry="0.7" transform="rotate(20 930.3 518.7)" fill="#c26a88"/><ellipse cx="1033.7" cy="535.4" rx="2.3" ry="1.1" transform="rotate(147 1033.7 535.4)" fill="#c26a88"/><ellipse cx="986.3" cy="479.3" rx="1.4" ry="0.7" transform="rotate(157 986.3 479.3)" fill="#c26a88"/><ellipse cx="985.1" cy="496.6" rx="2.3" ry="1.1" transform="rotate(102 985.1 496.6)" fill="#c26a88"/><ellipse cx="1018.0" cy="478.5" rx="1.7" ry="0.9" transform="rotate(61 1018.0 478.5)" fill="#c26a88"/><ellipse cx="1038.1" cy="487.5" rx="1.5" ry="0.7" transform="rotate(92 1038.1 487.5)" fill="#c26a88"/><ellipse cx="980.0" cy="491.8" rx="1.5" ry="0.7" transform="rotate(63 980.0 491.8)" fill="#c26a88"/><ellipse cx="930.0" cy="513.2" rx="2.1" ry="1.1" transform="rotate(51 930.0 513.2)" fill="#c26a88"/><ellipse cx="1008.8" cy="582.0" rx="2.1" ry="1.0" transform="rotate(88 1008.8 582.0)" fill="#c26a88"/><ellipse cx="1031.7" cy="554.4" rx="1.4" ry="0.7" transform="rotate(67 1031.7 554.4)" fill="#c26a88"/><ellipse cx="941.1" cy="552.7" rx="1.5" ry="0.8" transform="rotate(170 941.1 552.7)" fill="#c26a88"/><ellipse cx="1050.5" cy="517.1" rx="1.5" ry="0.7" transform="rotate(27 1050.5 517.1)" fill="#c26a88"/><ellipse cx="994.9" cy="496.1" rx="1.5" ry="0.7" transform="rotate(53 994.9 496.1)" fill="#c26a88"/><ellipse cx="945.3" cy="509.7" rx="2.1" ry="1.0" transform="rotate(98 945.3 509.7)" fill="#c26a88"/><ellipse cx="1018.9" cy="511.7" rx="1.3" ry="0.7" transform="rotate(175 1018.9 511.7)" fill="#c26a88"/><ellipse cx="1024.6" cy="498.4" rx="2.0" ry="1.0" transform="rotate(9 1024.6 498.4)" fill="#c26a88"/><ellipse cx="1029.2" cy="509.2" rx="1.3" ry="0.6" transform="rotate(28 1029.2 509.2)" fill="#c26a88"/><ellipse cx="1037.7" cy="509.5" rx="1.8" ry="0.9" transform="rotate(149 1037.7 509.5)" fill="#c26a88"/><ellipse cx="1009.5" cy="501.8" rx="1.5" ry="0.7" transform="rotate(168 1009.5 501.8)" fill="#c26a88"/><ellipse cx="1014.2" cy="532.1" rx="1.6" ry="0.8" transform="rotate(106 1014.2 532.1)" fill="#c26a88"/><ellipse cx="984.2" cy="566.5" rx="1.7" ry="0.9" transform="rotate(57 984.2 566.5)" fill="#c26a88"/><ellipse cx="1029.2" cy="499.3" rx="2.3" ry="1.1" transform="rotate(5 1029.2 499.3)" fill="#c26a88"/><ellipse cx="1019.9" cy="481.9" rx="2.0" ry="1.0" transform="rotate(21 1019.9 481.9)" fill="#c26a88"/><ellipse cx="954.5" cy="539.8" rx="2.0" ry="1.0" transform="rotate(125 954.5 539.8)" fill="#c26a88"/><ellipse cx="935.5" cy="519.2" rx="2.1" ry="1.1" transform="rotate(13 935.5 519.2)" fill="#c26a88"/><ellipse cx="928.7" cy="517.7" rx="1.8" ry="0.9" transform="rotate(87 928.7 517.7)" fill="#c26a88"/><ellipse cx="1027.5" cy="556.0" rx="1.6" ry="0.8" transform="rotate(139 1027.5 556.0)" fill="#c26a88"/><ellipse cx="1008.8" cy="513.7" rx="1.7" ry="0.8" transform="rotate(97 1008.8 513.7)" fill="#c26a88"/><ellipse cx="940.3" cy="518.5" rx="2.2" ry="1.1" transform="rotate(133 940.3 518.5)" fill="#c26a88"/><ellipse cx="1031.8" cy="512.8" rx="2.2" ry="1.1" transform="rotate(62 1031.8 512.8)" fill="#c26a88"/><ellipse cx="973.8" cy="534.5" rx="1.8" ry="0.9" transform="rotate(143 973.8 534.5)" fill="#c26a88"/><ellipse cx="961.7" cy="533.3" rx="2.2" ry="1.1" transform="rotate(140 961.7 533.3)" fill="#c26a88"/><ellipse cx="997.1" cy="505.6" rx="1.8" ry="0.9" transform="rotate(18 997.1 505.6)" fill="#c26a88"/><ellipse cx="1026.6" cy="550.5" rx="1.3" ry="0.6" transform="rotate(124 1026.6 550.5)" fill="#c26a88"/><ellipse cx="965.4" cy="475.5" rx="1.6" ry="0.8" transform="rotate(161 965.4 475.5)" fill="#c26a88"/><ellipse cx="983.0" cy="575.0" rx="1.8" ry="0.9" transform="rotate(27 983.0 575.0)" fill="#c26a88"/><ellipse cx="1034.0" cy="548.5" rx="1.5" ry="0.8" transform="rotate(86 1034.0 548.5)" fill="#c26a88"/><ellipse cx="977.7" cy="548.1" rx="1.4" ry="0.7" transform="rotate(131 977.7 548.1)" fill="#c26a88"/><ellipse cx="1017.8" cy="507.0" rx="1.4" ry="0.7" transform="rotate(136 1017.8 507.0)" fill="#c26a88"/><ellipse cx="973.1" cy="481.7" rx="1.8" ry="0.9" transform="rotate(117 973.1 481.7)" fill="#c26a88"/><ellipse cx="999.4" cy="466.0" rx="2.2" ry="1.1" transform="rotate(38 999.4 466.0)" fill="#c26a88"/><ellipse cx="1020.1" cy="563.5" rx="1.4" ry="0.7" transform="rotate(150 1020.1 563.5)" fill="#c26a88"/><ellipse cx="963.7" cy="532.5" rx="2.2" ry="1.1" transform="rotate(158 963.7 532.5)" fill="#c26a88"/><ellipse cx="1006.2" cy="559.2" rx="1.5" ry="0.8" transform="rotate(8 1006.2 559.2)" fill="#c26a88"/><ellipse cx="945.4" cy="562.3" rx="2.2" ry="1.1" transform="rotate(156 945.4 562.3)" fill="#c26a88"/><ellipse cx="954.6" cy="524.6" rx="2.1" ry="1.0" transform="rotate(122 954.6 524.6)" fill="#c26a88"/><ellipse cx="971.9" cy="520.1" rx="2.1" ry="1.0" transform="rotate(178 971.9 520.1)" fill="#c26a88"/><ellipse cx="968.8" cy="507.3" rx="1.4" ry="0.7" transform="rotate(83 968.8 507.3)" fill="#c26a88"/><ellipse cx="1008.7" cy="492.8" rx="1.3" ry="0.7" transform="rotate(20 1008.7 492.8)" fill="#c26a88"/><ellipse cx="943.4" cy="498.4" rx="1.2" ry="0.6" transform="rotate(56 943.4 498.4)" fill="#c26a88"/><ellipse cx="982.3" cy="517.9" rx="1.8" ry="0.9" transform="rotate(1 982.3 517.9)" fill="#c26a88"/><ellipse cx="1001.1" cy="583.2" rx="1.4" ry="0.7" transform="rotate(133 1001.1 583.2)" fill="#c26a88"/><ellipse cx="965.6" cy="550.8" rx="2.1" ry="1.0" transform="rotate(55 965.6 550.8)" fill="#c26a88"/><ellipse cx="992.9" cy="486.6" rx="1.5" ry="0.7" transform="rotate(34 992.9 486.6)" fill="#c26a88"/><ellipse cx="964.4" cy="485.8" rx="1.6" ry="0.8" transform="rotate(48 964.4 485.8)" fill="#c26a88"/><ellipse cx="988.6" cy="488.3" rx="1.6" ry="0.8" transform="rotate(144 988.6 488.3)" fill="#c26a88"/><ellipse cx="1014.6" cy="580.9" rx="2.2" ry="1.1" transform="rotate(91 1014.6 580.9)" fill="#c26a88"/><ellipse cx="1002.3" cy="590.5" rx="1.5" ry="0.7" transform="rotate(27 1002.3 590.5)" fill="#c26a88"/><ellipse cx="1001.7" cy="476.6" rx="1.2" ry="0.6" transform="rotate(61 1001.7 476.6)" fill="#c26a88"/><ellipse cx="960.9" cy="522.6" rx="1.3" ry="0.6" transform="rotate(30 960.9 522.6)" fill="#c26a88"/><ellipse cx="1013.9" cy="582.3" rx="2.2" ry="1.1" transform="rotate(102 1013.9 582.3)" fill="#c26a88"/><ellipse cx="1001.2" cy="529.5" rx="2.0" ry="1.0" transform="rotate(119 1001.2 529.5)" fill="#c26a88"/><ellipse cx="1020.9" cy="498.4" rx="2.1" ry="1.1" transform="rotate(15 1020.9 498.4)" fill="#c26a88"/><ellipse cx="962.4" cy="499.7" rx="1.6" ry="0.8" transform="rotate(79 962.4 499.7)" fill="#c26a88"/><ellipse cx="972.0" cy="570.8" rx="2.1" ry="1.1" transform="rotate(117 972.0 570.8)" fill="#c26a88"/><ellipse cx="966.1" cy="514.7" rx="2.3" ry="1.1" transform="rotate(151 966.1 514.7)" fill="#c26a88"/><ellipse cx="998.0" cy="590.4" rx="1.7" ry="0.9" transform="rotate(111 998.0 590.4)" fill="#c26a88"/><ellipse cx="970.4" cy="511.6" rx="1.9" ry="1.0" transform="rotate(129 970.4 511.6)" fill="#c26a88"/><ellipse cx="975.2" cy="518.1" rx="2.1" ry="1.1" transform="rotate(38 975.2 518.1)" fill="#c26a88"/><ellipse cx="1012.6" cy="455.1" rx="2.3" ry="1.1" transform="rotate(147 1012.6 455.1)" fill="#c26a88"/><ellipse cx="1048.8" cy="513.6" rx="2.1" ry="1.0" transform="rotate(75 1048.8 513.6)" fill="#c26a88"/><ellipse cx="986.9" cy="481.6" rx="2.2" ry="1.1" transform="rotate(176 986.9 481.6)" fill="#c26a88"/><ellipse cx="975.0" cy="527.7" rx="1.9" ry="1.0" transform="rotate(16 975.0 527.7)" fill="#c26a88"/><ellipse cx="1001.7" cy="473.2" rx="1.4" ry="0.7" transform="rotate(147 1001.7 473.2)" fill="#c26a88"/><ellipse cx="988.6" cy="574.6" rx="1.9" ry="0.9" transform="rotate(103 988.6 574.6)" fill="#c26a88"/><ellipse cx="949.5" cy="506.8" rx="1.9" ry="1.0" transform="rotate(103 949.5 506.8)" fill="#c26a88"/><ellipse cx="1010.3" cy="557.6" rx="1.9" ry="1.0" transform="rotate(145 1010.3 557.6)" fill="#c26a88"/><ellipse cx="962.1" cy="571.9" rx="1.6" ry="0.8" transform="rotate(85 962.1 571.9)" fill="#c26a88"/><ellipse cx="928.7" cy="515.4" rx="2.3" ry="1.1" transform="rotate(66 928.7 515.4)" fill="#c26a88"/><ellipse cx="1002.7" cy="451.4" rx="1.6" ry="0.8" transform="rotate(17 1002.7 451.4)" fill="#c26a88"/><ellipse cx="957.5" cy="550.8" rx="1.6" ry="0.8" transform="rotate(113 957.5 550.8)" fill="#c26a88"/><ellipse cx="1037.3" cy="566.6" rx="1.8" ry="0.9" transform="rotate(104 1037.3 566.6)" fill="#c26a88"/><ellipse cx="929.5" cy="521.1" rx="1.8" ry="0.9" transform="rotate(87 929.5 521.1)" fill="#c26a88"/><ellipse cx="945.5" cy="568.6" rx="1.3" ry="0.7" transform="rotate(30 945.5 568.6)" fill="#c26a88"/><ellipse cx="993.2" cy="487.5" rx="1.4" ry="0.7" transform="rotate(63 993.2 487.5)" fill="#c26a88"/><ellipse cx="1018.4" cy="457.1" rx="1.5" ry="0.8" transform="rotate(140 1018.4 457.1)" fill="#c26a88"/><ellipse cx="1012.8" cy="521.0" rx="1.7" ry="0.8" transform="rotate(9 1012.8 521.0)" fill="#c26a88"/><ellipse cx="1005.9" cy="503.4" rx="1.4" ry="0.7" transform="rotate(47 1005.9 503.4)" fill="#c26a88"/><ellipse cx="948.1" cy="503.2" rx="2.0" ry="1.0" transform="rotate(8 948.1 503.2)" fill="#c26a88"/><ellipse cx="951.9" cy="488.6" rx="1.9" ry="1.0" transform="rotate(20 951.9 488.6)" fill="#c26a88"/><ellipse cx="1011.6" cy="454.5" rx="1.2" ry="0.6" transform="rotate(146 1011.6 454.5)" fill="#c26a88"/><ellipse cx="1031.3" cy="531.9" rx="1.8" ry="0.9" transform="rotate(32 1031.3 531.9)" fill="#c26a88"/><ellipse cx="967.3" cy="507.7" rx="1.6" ry="0.8" transform="rotate(71 967.3 507.7)" fill="#c26a88"/><ellipse cx="1001.5" cy="459.2" rx="1.3" ry="0.6" transform="rotate(8 1001.5 459.2)" fill="#c26a88"/><ellipse cx="999.4" cy="540.5" rx="2.3" ry="1.1" transform="rotate(168 999.4 540.5)" fill="#c26a88"/><ellipse cx="989.3" cy="503.1" rx="2.0" ry="1.0" transform="rotate(156 989.3 503.1)" fill="#c26a88"/><ellipse cx="981.0" cy="504.3" rx="1.6" ry="0.8" transform="rotate(175 981.0 504.3)" fill="#c26a88"/><ellipse cx="1026.9" cy="539.3" rx="1.9" ry="1.0" transform="rotate(46 1026.9 539.3)" fill="#c26a88"/><ellipse cx="1019.8" cy="552.6" rx="1.3" ry="0.6" transform="rotate(69 1019.8 552.6)" fill="#c26a88"/><ellipse cx="1023.9" cy="531.0" rx="2.0" ry="1.0" transform="rotate(164 1023.9 531.0)" fill="#c26a88"/><ellipse cx="956.5" cy="502.7" rx="1.4" ry="0.7" transform="rotate(59 956.5 502.7)" fill="#c26a88"/><ellipse cx="964.4" cy="512.9" rx="2.0" ry="1.0" transform="rotate(124 964.4 512.9)" fill="#c26a88"/><ellipse cx="983.9" cy="473.7" rx="1.5" ry="0.7" transform="rotate(17 983.9 473.7)" fill="#c26a88"/><ellipse cx="945.6" cy="546.6" rx="1.2" ry="0.6" transform="rotate(131 945.6 546.6)" fill="#c26a88"/><ellipse cx="1019.1" cy="520.8" rx="1.3" ry="0.6" transform="rotate(97 1019.1 520.8)" fill="#c26a88"/><ellipse cx="1021.7" cy="544.5" rx="1.7" ry="0.8" transform="rotate(100 1021.7 544.5)" fill="#c26a88"/><ellipse cx="973.5" cy="478.1" rx="2.1" ry="1.1" transform="rotate(61 973.5 478.1)" fill="#c26a88"/><ellipse cx="972.3" cy="521.2" rx="1.7" ry="0.8" transform="rotate(84 972.3 521.2)" fill="#c26a88"/><ellipse cx="1003.8" cy="479.3" rx="1.7" ry="0.9" transform="rotate(153 1003.8 479.3)" fill="#c26a88"/><ellipse cx="1015.9" cy="489.0" rx="1.7" ry="0.8" transform="rotate(41 1015.9 489.0)" fill="#c26a88"/><ellipse cx="948.9" cy="537.0" rx="1.3" ry="0.6" transform="rotate(44 948.9 537.0)" fill="#c26a88"/><ellipse cx="979.4" cy="499.9" rx="1.8" ry="0.9" transform="rotate(52 979.4 499.9)" fill="#c26a88"/><ellipse cx="1020.0" cy="485.1" rx="1.9" ry="0.9" transform="rotate(49 1020.0 485.1)" fill="#c26a88"/><ellipse cx="987.4" cy="591.2" rx="1.5" ry="0.7" transform="rotate(128 987.4 591.2)" fill="#c26a88"/><ellipse cx="970.6" cy="485.1" rx="2.0" ry="1.0" transform="rotate(166 970.6 485.1)" fill="#c26a88"/><ellipse cx="1021.2" cy="566.1" rx="1.6" ry="0.8" transform="rotate(56 1021.2 566.1)" fill="#c26a88"/><ellipse cx="1005.7" cy="460.2" rx="2.1" ry="1.1" transform="rotate(32 1005.7 460.2)" fill="#c26a88"/><ellipse cx="971.1" cy="546.8" rx="1.4" ry="0.7" transform="rotate(155 971.1 546.8)" fill="#c26a88"/><ellipse cx="977.1" cy="485.2" rx="1.4" ry="0.7" transform="rotate(133 977.1 485.2)" fill="#c26a88"/><ellipse cx="1020.0" cy="475.4" rx="2.0" ry="1.0" transform="rotate(3 1020.0 475.4)" fill="#c26a88"/><ellipse cx="986.0" cy="483.5" rx="1.4" ry="0.7" transform="rotate(24 986.0 483.5)" fill="#c26a88"/><ellipse cx="964.2" cy="524.3" rx="1.8" ry="0.9" transform="rotate(2 964.2 524.3)" fill="#c26a88"/><ellipse cx="975.9" cy="524.6" rx="1.3" ry="0.6" transform="rotate(53 975.9 524.6)" fill="#c26a88"/><ellipse cx="1016.9" cy="575.6" rx="1.9" ry="0.9" transform="rotate(29 1016.9 575.6)" fill="#c26a88"/><ellipse cx="971.5" cy="504.4" rx="1.2" ry="0.6" transform="rotate(85 971.5 504.4)" fill="#c26a88"/><ellipse cx="994.8" cy="541.7" rx="1.8" ry="0.9" transform="rotate(148 994.8 541.7)" fill="#c26a88"/><ellipse cx="941.2" cy="544.4" rx="2.2" ry="1.1" transform="rotate(151 941.2 544.4)" fill="#c26a88"/><ellipse cx="966.3" cy="503.9" rx="1.3" ry="0.7" transform="rotate(104 966.3 503.9)" fill="#c26a88"/><ellipse cx="975.8" cy="526.7" rx="1.6" ry="0.8" transform="rotate(45 975.8 526.7)" fill="#c26a88"/><ellipse cx="978.8" cy="521.0" rx="2.3" ry="1.1" transform="rotate(121 978.8 521.0)" fill="#c26a88"/><ellipse cx="961.7" cy="497.5" rx="2.0" ry="1.0" transform="rotate(32 961.7 497.5)" fill="#c26a88"/><ellipse cx="1034.0" cy="546.7" rx="1.3" ry="0.6" transform="rotate(133 1034.0 546.7)" fill="#c26a88"/><ellipse cx="1009.4" cy="485.6" rx="1.6" ry="0.8" transform="rotate(87 1009.4 485.6)" fill="#c26a88"/><ellipse cx="1047.6" cy="538.4" rx="1.7" ry="0.8" transform="rotate(89 1047.6 538.4)" fill="#c26a88"/><ellipse cx="1020.0" cy="455.4" rx="1.7" ry="0.8" transform="rotate(176 1020.0 455.4)" fill="#c26a88"/><ellipse cx="977.8" cy="571.4" rx="2.2" ry="1.1" transform="rotate(38 977.8 571.4)" fill="#c26a88"/><ellipse cx="953.2" cy="507.6" rx="1.4" ry="0.7" transform="rotate(101 953.2 507.6)" fill="#c26a88"/><ellipse cx="1005.9" cy="562.5" rx="1.7" ry="0.8" transform="rotate(22 1005.9 562.5)" fill="#c26a88"/><ellipse cx="956.8" cy="535.4" rx="2.0" ry="1.0" transform="rotate(153 956.8 535.4)" fill="#c26a88"/><ellipse cx="962.3" cy="508.4" rx="2.2" ry="1.1" transform="rotate(122 962.3 508.4)" fill="#c26a88"/><ellipse cx="960.6" cy="513.8" rx="1.7" ry="0.9" transform="rotate(175 960.6 513.8)" fill="#c26a88"/><ellipse cx="1007.7" cy="533.6" rx="2.3" ry="1.1" transform="rotate(32 1007.7 533.6)" fill="#c26a88"/><ellipse cx="948.8" cy="489.5" rx="1.9" ry="1.0" transform="rotate(106 948.8 489.5)" fill="#c26a88"/><ellipse cx="953.4" cy="494.5" rx="1.6" ry="0.8" transform="rotate(128 953.4 494.5)" fill="#c26a88"/><ellipse cx="998.4" cy="546.6" rx="1.5" ry="0.8" transform="rotate(152 998.4 546.6)" fill="#c26a88"/><ellipse cx="1039.7" cy="492.0" rx="1.3" ry="0.6" transform="rotate(123 1039.7 492.0)" fill="#c26a88"/><ellipse cx="975.3" cy="524.9" rx="1.8" ry="0.9" transform="rotate(100 975.3 524.9)" fill="#c26a88"/><ellipse cx="1002.6" cy="488.8" rx="2.2" ry="1.1" transform="rotate(97 1002.6 488.8)" fill="#c26a88"/><ellipse cx="992.9" cy="484.9" rx="1.2" ry="0.6" transform="rotate(20 992.9 484.9)" fill="#c26a88"/><ellipse cx="986.6" cy="481.5" rx="1.6" ry="0.8" transform="rotate(50 986.6 481.5)" fill="#c26a88"/><ellipse cx="941.8" cy="491.8" rx="2.1" ry="1.1" transform="rotate(115 941.8 491.8)" fill="#c26a88"/><ellipse cx="1000.3" cy="488.0" rx="1.7" ry="0.9" transform="rotate(80 1000.3 488.0)" fill="#c26a88"/><ellipse cx="1016.7" cy="471.2" rx="2.0" ry="1.0" transform="rotate(32 1016.7 471.2)" fill="#c26a88"/><ellipse cx="1005.6" cy="576.2" rx="2.2" ry="1.1" transform="rotate(120 1005.6 576.2)" fill="#c26a88"/><ellipse cx="953.7" cy="561.1" rx="2.1" ry="1.0" transform="rotate(81 953.7 561.1)" fill="#c26a88"/></g>
<path d="M908.2,482.8 C908.8,480.6 911.5,479.1 914.8,477.9 C918.1,476.7 925.2,475.1 928.0,475.4 C930.8,475.7 931.3,477.2 931.3,479.5 C931.3,481.8 930.2,487.0 928.0,489.4 C925.8,491.8 920.8,493.3 918.0,493.6 C915.2,493.9 913.1,492.9 911.5,491.1 C909.9,489.3 907.7,485.0 908.2,482.8 Z" fill="#e48ca4" filter="url(#histo)"/>
<g opacity="0.4"><ellipse cx="976.0" cy="477.6" rx="1.6" ry="1.5" transform="rotate(45 976.0 477.6)" fill="#c85a80"/><ellipse cx="956.5" cy="504.7" rx="2.1" ry="1.9" transform="rotate(97 956.5 504.7)" fill="#c85a80"/><ellipse cx="949.9" cy="555.0" rx="2.0" ry="1.8" transform="rotate(143 949.9 555.0)" fill="#c85a80"/><ellipse cx="951.6" cy="516.4" rx="1.6" ry="1.5" transform="rotate(102 951.6 516.4)" fill="#c85a80"/><ellipse cx="1045.1" cy="526.3" rx="2.2" ry="2.0" transform="rotate(84 1045.1 526.3)" fill="#c85a80"/><ellipse cx="978.7" cy="501.7" rx="2.4" ry="2.1" transform="rotate(15 978.7 501.7)" fill="#c85a80"/><ellipse cx="970.1" cy="480.0" rx="2.3" ry="2.1" transform="rotate(29 970.1 480.0)" fill="#c85a80"/><ellipse cx="984.9" cy="569.4" rx="1.5" ry="1.4" transform="rotate(77 984.9 569.4)" fill="#c85a80"/><ellipse cx="942.7" cy="539.5" rx="1.8" ry="1.6" transform="rotate(24 942.7 539.5)" fill="#c85a80"/><ellipse cx="950.1" cy="564.6" rx="1.5" ry="1.3" transform="rotate(38 950.1 564.6)" fill="#c85a80"/><ellipse cx="994.0" cy="570.3" rx="1.6" ry="1.4" transform="rotate(169 994.0 570.3)" fill="#c85a80"/><ellipse cx="1034.5" cy="536.8" rx="2.2" ry="2.0" transform="rotate(109 1034.5 536.8)" fill="#c85a80"/><ellipse cx="976.7" cy="584.9" rx="2.3" ry="2.1" transform="rotate(57 976.7 584.9)" fill="#c85a80"/><ellipse cx="1026.1" cy="573.4" rx="1.5" ry="1.4" transform="rotate(148 1026.1 573.4)" fill="#c85a80"/><ellipse cx="1010.9" cy="522.3" rx="1.4" ry="1.3" transform="rotate(150 1010.9 522.3)" fill="#c85a80"/><ellipse cx="952.1" cy="507.1" rx="2.2" ry="2.0" transform="rotate(72 952.1 507.1)" fill="#c85a80"/><ellipse cx="1028.1" cy="527.2" rx="1.6" ry="1.5" transform="rotate(7 1028.1 527.2)" fill="#c85a80"/><ellipse cx="1016.4" cy="507.0" rx="1.9" ry="1.7" transform="rotate(56 1016.4 507.0)" fill="#c85a80"/><ellipse cx="1007.7" cy="494.0" rx="2.3" ry="2.1" transform="rotate(130 1007.7 494.0)" fill="#c85a80"/><ellipse cx="1021.8" cy="553.4" rx="2.1" ry="1.9" transform="rotate(69 1021.8 553.4)" fill="#c85a80"/><ellipse cx="1020.2" cy="459.8" rx="1.9" ry="1.7" transform="rotate(173 1020.2 459.8)" fill="#c85a80"/><ellipse cx="1011.7" cy="495.5" rx="1.9" ry="1.7" transform="rotate(23 1011.7 495.5)" fill="#c85a80"/><ellipse cx="979.4" cy="491.1" rx="2.4" ry="2.2" transform="rotate(149 979.4 491.1)" fill="#c85a80"/><ellipse cx="960.5" cy="548.5" rx="2.0" ry="1.8" transform="rotate(178 960.5 548.5)" fill="#c85a80"/><ellipse cx="949.3" cy="497.9" rx="1.6" ry="1.5" transform="rotate(1 949.3 497.9)" fill="#c85a80"/><ellipse cx="949.2" cy="546.5" rx="1.6" ry="1.5" transform="rotate(115 949.2 546.5)" fill="#c85a80"/><ellipse cx="1019.1" cy="576.4" rx="1.7" ry="1.5" transform="rotate(155 1019.1 576.4)" fill="#c85a80"/><ellipse cx="988.4" cy="478.0" rx="1.9" ry="1.8" transform="rotate(171 988.4 478.0)" fill="#c85a80"/><ellipse cx="989.6" cy="567.4" rx="2.4" ry="2.1" transform="rotate(48 989.6 567.4)" fill="#c85a80"/><ellipse cx="984.1" cy="526.7" rx="2.0" ry="1.9" transform="rotate(114 984.1 526.7)" fill="#c85a80"/><ellipse cx="937.9" cy="493.5" rx="2.0" ry="1.8" transform="rotate(173 937.9 493.5)" fill="#c85a80"/><ellipse cx="1004.3" cy="553.3" rx="2.0" ry="1.8" transform="rotate(35 1004.3 553.3)" fill="#c85a80"/><ellipse cx="975.3" cy="473.5" rx="1.9" ry="1.7" transform="rotate(23 975.3 473.5)" fill="#c85a80"/><ellipse cx="1013.0" cy="505.6" rx="2.0" ry="1.8" transform="rotate(129 1013.0 505.6)" fill="#c85a80"/><ellipse cx="956.4" cy="488.5" rx="2.0" ry="1.8" transform="rotate(160 956.4 488.5)" fill="#c85a80"/><ellipse cx="1051.6" cy="532.9" rx="2.0" ry="1.9" transform="rotate(165 1051.6 532.9)" fill="#c85a80"/><ellipse cx="1049.4" cy="526.8" rx="2.4" ry="2.2" transform="rotate(94 1049.4 526.8)" fill="#c85a80"/><ellipse cx="966.5" cy="521.2" rx="1.8" ry="1.6" transform="rotate(132 966.5 521.2)" fill="#c85a80"/><ellipse cx="1005.2" cy="534.4" rx="1.8" ry="1.7" transform="rotate(30 1005.2 534.4)" fill="#c85a80"/><ellipse cx="989.6" cy="530.3" rx="1.7" ry="1.6" transform="rotate(151 989.6 530.3)" fill="#c85a80"/></g>
<rect x="274.7" y="612" width="38.5" height="9.6" fill="#050505"/>
<rect x="546" y="612" width="38.5" height="9.6" fill="#050505"/>
<rect x="814.7" y="612" width="38.5" height="9.6" fill="#050505"/>
<rect x="1077.6" y="612" width="38.5" height="9.6" fill="#050505"/>
<text x="4.2" y="739.2" font-size="40.5" text-anchor="start" font-weight="bold" font-style="normal" fill="#111" >C</text>
<line x1="107.1" y1="764.0999999999999" x2="107.1" y2="988.8" stroke="#1c1c1c" stroke-width="2.4"/>
<line x1="97.6" y1="988.8" x2="313.2" y2="988.8" stroke="#1c1c1c" stroke-width="2.4"/>
<line x1="97.1" y1="765.3" x2="107.1" y2="765.3" stroke="#1c1c1c" stroke-width="2.4"/>
<text x="94.6" y="771.4" font-size="17" text-anchor="end" font-weight="bold" font-style="normal" fill="#1c1c1c" >40</text>
<line x1="97.1" y1="821.0" x2="107.1" y2="821.0" stroke="#1c1c1c" stroke-width="2.4"/>
<text x="94.6" y="827.1" font-size="17" text-anchor="end" font-weight="bold" font-style="normal" fill="#1c1c1c" >30</text>
<line x1="97.1" y1="876.8" x2="107.1" y2="876.8" stroke="#1c1c1c" stroke-width="2.4"/>
<text x="94.6" y="882.9" font-size="17" text-anchor="end" font-weight="bold" font-style="normal" fill="#1c1c1c" >20</text>
<line x1="97.1" y1="932.6" x2="107.1" y2="932.6" stroke="#1c1c1c" stroke-width="2.4"/>
<text x="94.6" y="938.7" font-size="17" text-anchor="end" font-weight="bold" font-style="normal" fill="#1c1c1c" >10</text>
<line x1="97.1" y1="988.8" x2="107.1" y2="988.8" stroke="#1c1c1c" stroke-width="2.4"/>
<text x="94.6" y="994.9" font-size="17" text-anchor="end" font-weight="bold" font-style="normal" fill="#1c1c1c" >0</text>
<line x1="112" y1="983.1" x2="311" y2="983.1" stroke="#2a2a2a" stroke-width="2.2" stroke-dasharray="2.2 4.5"/>
<text x="322.5" y="989.6" font-size="16" text-anchor="start" font-weight="bold" font-style="normal" fill="#1c1c1c" >Ctrl</text>
<line x1="139.2" y1="798" x2="139.2" y2="865.8" stroke="#2e2e2e" stroke-width="2.1"/>
<line x1="139.2" y1="925.5" x2="139.2" y2="956.4" stroke="#2e2e2e" stroke-width="2.1"/>
<line x1="131.7" y1="798" x2="146.7" y2="798" stroke="#2e2e2e" stroke-width="2.3"/>
<line x1="131.7" y1="956.4" x2="146.7" y2="956.4" stroke="#2e2e2e" stroke-width="2.3"/>
<rect x="125.2" y="865.8" width="27.999999999999986" height="59.700000000000045" fill="none" stroke="#2e2e2e" stroke-width="2.2"/>
<line x1="125.2" y1="893.5" x2="153.2" y2="893.5" stroke="#2e2e2e" stroke-width="2.2"/>
<line x1="139.2" y1="988.8" x2="139.2" y2="997.8" stroke="#1c1c1c" stroke-width="3"/>
<line x1="186.65" y1="932.9" x2="186.65" y2="934.5" stroke="#2e2e2e" stroke-width="2.1"/>
<line x1="186.65" y1="971.3" x2="186.65" y2="988.8" stroke="#2e2e2e" stroke-width="2.1"/>
<line x1="179.15" y1="932.9" x2="194.15" y2="932.9" stroke="#2e2e2e" stroke-width="2.3"/>
<line x1="179.15" y1="988.8" x2="194.15" y2="988.8" stroke="#2e2e2e" stroke-width="2.3"/>
<rect x="172.8" y="934.5" width="27.69999999999999" height="36.799999999999955" fill="none" stroke="#2e2e2e" stroke-width="2.2"/>
<line x1="172.8" y1="943" x2="200.5" y2="943" stroke="#2e2e2e" stroke-width="2.2"/>
<line x1="186.65" y1="988.8" x2="186.65" y2="997.8" stroke="#1c1c1c" stroke-width="3"/>
<line x1="233.45" y1="952.2" x2="233.45" y2="963.4" stroke="#2e2e2e" stroke-width="2.1"/>
<line x1="233.45" y1="986" x2="233.45" y2="988" stroke="#2e2e2e" stroke-width="2.1"/>
<line x1="225.95" y1="952.2" x2="240.95" y2="952.2" stroke="#2e2e2e" stroke-width="2.3"/>
<line x1="225.95" y1="988" x2="240.95" y2="988" stroke="#2e2e2e" stroke-width="2.3"/>
<rect x="219.4" y="963.4" width="28.099999999999994" height="22.600000000000023" fill="none" stroke="#2e2e2e" stroke-width="2.2"/>
<line x1="219.4" y1="966.6" x2="247.5" y2="966.6" stroke="#2e2e2e" stroke-width="2.2"/>
<line x1="233.45" y1="988.8" x2="233.45" y2="997.8" stroke="#1c1c1c" stroke-width="3"/>
<line x1="280.45" y1="940" x2="280.45" y2="954" stroke="#2e2e2e" stroke-width="2.1"/>
<line x1="280.45" y1="977.5" x2="280.45" y2="987" stroke="#2e2e2e" stroke-width="2.1"/>
<line x1="272.95" y1="940" x2="287.95" y2="940" stroke="#2e2e2e" stroke-width="2.3"/>
<line x1="272.95" y1="987" x2="287.95" y2="987" stroke="#2e2e2e" stroke-width="2.3"/>
<rect x="266.4" y="954" width="28.100000000000023" height="23.5" fill="none" stroke="#2e2e2e" stroke-width="2.2"/>
<line x1="266.4" y1="968.1" x2="294.5" y2="968.1" stroke="#2e2e2e" stroke-width="2.2"/>
<line x1="280.45" y1="988.8" x2="280.45" y2="997.8" stroke="#1c1c1c" stroke-width="3"/>
<text x="138.6" y="1013.1" font-size="16" text-anchor="middle" font-weight="normal" font-style="normal" fill="#222" >Std</text>
<text x="138.6" y="1032.2" font-size="16" text-anchor="middle" font-weight="normal" font-style="normal" fill="#222" >iMΦ</text>
<text x="186.4" y="1013.1" font-size="16" text-anchor="middle" font-weight="normal" font-style="normal" fill="#222" >Std</text>
<text x="186.4" y="1032.2" font-size="16" text-anchor="middle" font-weight="normal" font-style="normal" fill="#222" >iMC</text>
<text x="231.3" y="1014.4" font-size="16" text-anchor="middle" font-weight="normal" font-style="normal" fill="#222" >Equal</text>
<text x="290.2" y="1014.4" font-size="16" text-anchor="middle" font-weight="normal" font-style="normal" fill="#222" >In vivo</text>
<line x1="139.4" y1="794.1" x2="186.4" y2="794.1" stroke="#1c1c1c" stroke-width="2.4"/>
<text x="163.2" y="789.7" font-family="DejaVu Sans, sans-serif" font-size="22" font-weight="bold" text-anchor="middle" letter-spacing="0.7" fill="#1c1c1c">**</text>
<line x1="139.4" y1="769.7" x2="233.1" y2="769.7" stroke="#1c1c1c" stroke-width="2.4"/>
<text x="186.5" y="765.4" font-family="DejaVu Sans, sans-serif" font-size="22" font-weight="bold" text-anchor="middle" letter-spacing="0.7" fill="#1c1c1c">***</text>
<line x1="139.4" y1="745.4" x2="281" y2="745.4" stroke="#1c1c1c" stroke-width="2.4"/>
<text x="210.2" y="741.4" font-family="DejaVu Sans, sans-serif" font-size="22" font-weight="bold" text-anchor="middle" letter-spacing="0.7" fill="#1c1c1c">**</text>
<text x="230.5" y="712.9" font-size="34" text-anchor="middle" font-weight="bold" font-style="italic" fill="#111" >ACTA2</text>
<text transform="translate(64.8,876.6) rotate(-90)" font-size="18.2" font-weight="bold" text-anchor="middle" fill="#1c1c1c">mRNA fold change</text>
<line x1="485.0" y1="767.6999999999999" x2="485.0" y2="983.8" stroke="#1c1c1c" stroke-width="2.4"/>
<line x1="476" y1="983.8" x2="682.8" y2="983.8" stroke="#1c1c1c" stroke-width="2.4"/>
<line x1="475.0" y1="768.9" x2="485.0" y2="768.9" stroke="#1c1c1c" stroke-width="2.4"/>
<text x="472.5" y="775.0" font-size="17" text-anchor="end" font-weight="bold" font-style="normal" fill="#1c1c1c" >8</text>
<line x1="475.0" y1="822.6" x2="485.0" y2="822.6" stroke="#1c1c1c" stroke-width="2.4"/>
<text x="472.5" y="828.7" font-size="17" text-anchor="end" font-weight="bold" font-style="normal" fill="#1c1c1c" >6</text>
<line x1="475.0" y1="876.3" x2="485.0" y2="876.3" stroke="#1c1c1c" stroke-width="2.4"/>
<text x="472.5" y="882.4" font-size="17" text-anchor="end" font-weight="bold" font-style="normal" fill="#1c1c1c" >4</text>
<line x1="475.0" y1="930.0" x2="485.0" y2="930.0" stroke="#1c1c1c" stroke-width="2.4"/>
<text x="472.5" y="936.1" font-size="17" text-anchor="end" font-weight="bold" font-style="normal" fill="#1c1c1c" >2</text>
<line x1="475.0" y1="983.8" x2="485.0" y2="983.8" stroke="#1c1c1c" stroke-width="2.4"/>
<text x="472.5" y="989.9" font-size="17" text-anchor="end" font-weight="bold" font-style="normal" fill="#1c1c1c" >0</text>
<line x1="489.7" y1="956.9" x2="681" y2="956.9" stroke="#2a2a2a" stroke-width="2.2" stroke-dasharray="2.2 4.5"/>
<text x="682.8" y="962.8" font-size="16" text-anchor="start" font-weight="bold" font-style="normal" fill="#1c1c1c" >Ctrl</text>
<line x1="515.7" y1="785.2" x2="515.7" y2="871.5" stroke="#2e2e2e" stroke-width="2.1"/>
<line x1="515.7" y1="906.4" x2="515.7" y2="937.2" stroke="#2e2e2e" stroke-width="2.1"/>
<line x1="508.20000000000005" y1="785.2" x2="523.2" y2="785.2" stroke="#2e2e2e" stroke-width="2.3"/>
<line x1="508.20000000000005" y1="937.2" x2="523.2" y2="937.2" stroke="#2e2e2e" stroke-width="2.3"/>
<rect x="502" y="871.5" width="27.399999999999977" height="34.89999999999998" fill="none" stroke="#2e2e2e" stroke-width="2.2"/>
<line x1="502" y1="896.2" x2="529.4" y2="896.2" stroke="#2e2e2e" stroke-width="2.2"/>
<line x1="515.7" y1="983.8" x2="515.7" y2="992.8" stroke="#1c1c1c" stroke-width="3"/>
<line x1="560.8499999999999" y1="890.5" x2="560.8499999999999" y2="907.8" stroke="#2e2e2e" stroke-width="2.1"/>
<line x1="560.8499999999999" y1="941" x2="560.8499999999999" y2="973.1" stroke="#2e2e2e" stroke-width="2.1"/>
<line x1="553.3499999999999" y1="890.5" x2="568.3499999999999" y2="890.5" stroke="#2e2e2e" stroke-width="2.3"/>
<line x1="553.3499999999999" y1="973.1" x2="568.3499999999999" y2="973.1" stroke="#2e2e2e" stroke-width="2.3"/>
<rect x="547.3" y="907.8" width="27.100000000000023" height="33.200000000000045" fill="none" stroke="#2e2e2e" stroke-width="2.2"/>
<line x1="547.3" y1="924" x2="574.4" y2="924" stroke="#2e2e2e" stroke-width="2.2"/>
<line x1="560.8499999999999" y1="983.8" x2="560.8499999999999" y2="992.8" stroke="#1c1c1c" stroke-width="3"/>
<line x1="606.4" y1="918.3" x2="606.4" y2="929.5" stroke="#2e2e2e" stroke-width="2.1"/>
<line x1="606.4" y1="960" x2="606.4" y2="968.7" stroke="#2e2e2e" stroke-width="2.1"/>
<line x1="598.9" y1="918.3" x2="613.9" y2="918.3" stroke="#2e2e2e" stroke-width="2.3"/>
<line x1="598.9" y1="968.7" x2="613.9" y2="968.7" stroke="#2e2e2e" stroke-width="2.3"/>
<rect x="593" y="929.5" width="26.799999999999955" height="30.5" fill="none" stroke="#2e2e2e" stroke-width="2.2"/>
<line x1="593" y1="941" x2="619.8" y2="941" stroke="#2e2e2e" stroke-width="2.2"/>
<line x1="606.4" y1="983.8" x2="606.4" y2="992.8" stroke="#1c1c1c" stroke-width="3"/>
<line x1="652.2" y1="911.2" x2="652.2" y2="913.9" stroke="#2e2e2e" stroke-width="2.1"/>
<line x1="652.2" y1="954.5" x2="652.2" y2="969.4" stroke="#2e2e2e" stroke-width="2.1"/>
<line x1="644.7" y1="911.2" x2="659.7" y2="911.2" stroke="#2e2e2e" stroke-width="2.3"/>
<line x1="644.7" y1="969.4" x2="659.7" y2="969.4" stroke="#2e2e2e" stroke-width="2.3"/>
<rect x="638.8" y="913.9" width="26.800000000000068" height="40.60000000000002" fill="none" stroke="#2e2e2e" stroke-width="2.2"/>
<line x1="638.8" y1="937.6" x2="665.6" y2="937.6" stroke="#2e2e2e" stroke-width="2.2"/>
<line x1="652.2" y1="983.8" x2="652.2" y2="992.8" stroke="#1c1c1c" stroke-width="3"/>
<text x="515.2" y="1006.8" font-size="15.4" text-anchor="middle" font-weight="normal" font-style="normal" fill="#222" >Std</text>
<text x="515.2" y="1026.3" font-size="15.4" text-anchor="middle" font-weight="normal" font-style="normal" fill="#222" >iMΦ</text>
<text x="561.0" y="1006.8" font-size="15.4" text-anchor="middle" font-weight="normal" font-style="normal" fill="#222" >Std</text>
<text x="561.0" y="1026.3" font-size="15.4" text-anchor="middle" font-weight="normal" font-style="normal" fill="#222" >iMC</text>
<text x="603.8" y="1008.6" font-size="15.4" text-anchor="middle" font-weight="normal" font-style="normal" fill="#222" >Equal</text>
<text x="660.7" y="1008.6" font-size="15.4" text-anchor="middle" font-weight="normal" font-style="normal" fill="#222" >In vivo</text>
<line x1="516" y1="778.4" x2="606" y2="778.4" stroke="#1c1c1c" stroke-width="2.4"/>
<text x="561.4" y="775.8" font-family="DejaVu Sans, sans-serif" font-size="22" font-weight="bold" text-anchor="middle" letter-spacing="0.7" fill="#1c1c1c">*</text>
<line x1="516" y1="753" x2="651.6" y2="753" stroke="#1c1c1c" stroke-width="2.4"/>
<text x="583.4" y="751.0" font-family="DejaVu Sans, sans-serif" font-size="22" font-weight="bold" text-anchor="middle" letter-spacing="0.7" fill="#1c1c1c">*</text>
<text x="608.9" y="717.1" font-size="33" text-anchor="middle" font-weight="bold" font-style="italic" fill="#111" >COL1A1</text>
<text transform="translate(444.8,878) rotate(-90)" font-size="17.95" font-weight="bold" text-anchor="middle" fill="#1c1c1c">mRNA fold change</text>
<line x1="853.4" y1="742.8" x2="853.4" y2="984.4" stroke="#1c1c1c" stroke-width="2.4"/>
<line x1="844.5" y1="984.4" x2="1074.8" y2="984.4" stroke="#1c1c1c" stroke-width="2.4"/>
<line x1="843.4" y1="744" x2="853.4" y2="744" stroke="#1c1c1c" stroke-width="2.4"/>
<text x="840.9" y="750.8" font-size="19" text-anchor="end" font-weight="bold" font-style="normal" fill="#1c1c1c" >25</text>
<line x1="843.4" y1="792.1" x2="853.4" y2="792.1" stroke="#1c1c1c" stroke-width="2.4"/>
<text x="840.9" y="798.9" font-size="19" text-anchor="end" font-weight="bold" font-style="normal" fill="#1c1c1c" >20</text>
<line x1="843.4" y1="840.2" x2="853.4" y2="840.2" stroke="#1c1c1c" stroke-width="2.4"/>
<text x="840.9" y="847.0" font-size="19" text-anchor="end" font-weight="bold" font-style="normal" fill="#1c1c1c" >15</text>
<line x1="843.4" y1="888.2" x2="853.4" y2="888.2" stroke="#1c1c1c" stroke-width="2.4"/>
<text x="840.9" y="895.0" font-size="19" text-anchor="end" font-weight="bold" font-style="normal" fill="#1c1c1c" >10</text>
<line x1="843.4" y1="936.3" x2="853.4" y2="936.3" stroke="#1c1c1c" stroke-width="2.4"/>
<text x="840.9" y="943.1" font-size="19" text-anchor="end" font-weight="bold" font-style="normal" fill="#1c1c1c" >5</text>
<line x1="843.4" y1="984.4" x2="853.4" y2="984.4" stroke="#1c1c1c" stroke-width="2.4"/>
<text x="840.9" y="991.2" font-size="19" text-anchor="end" font-weight="bold" font-style="normal" fill="#1c1c1c" >0</text>
<line x1="858" y1="974.8" x2="1074.8" y2="974.8" stroke="#2a2a2a" stroke-width="2.2" stroke-dasharray="2.2 4.5"/>
<text x="1081.6" y="981.5" font-size="17.5" text-anchor="start" font-weight="bold" font-style="normal" fill="#1c1c1c" >Ctrl</text>
<line x1="887.7" y1="760.4" x2="887.7" y2="896.6" stroke="#2e2e2e" stroke-width="2.1"/>
<line x1="887.7" y1="939" x2="887.7" y2="957.2" stroke="#2e2e2e" stroke-width="2.1"/>
<line x1="880.2" y1="760.4" x2="895.2" y2="760.4" stroke="#2e2e2e" stroke-width="2.3"/>
<line x1="880.2" y1="957.2" x2="895.2" y2="957.2" stroke="#2e2e2e" stroke-width="2.3"/>
<rect x="872.6" y="896.6" width="30.199999999999932" height="42.39999999999998" fill="none" stroke="#2e2e2e" stroke-width="2.2"/>
<line x1="872.6" y1="904.4" x2="902.8" y2="904.4" stroke="#2e2e2e" stroke-width="2.2"/>
<line x1="887.7" y1="984.4" x2="887.7" y2="993.4" stroke="#1c1c1c" stroke-width="3"/>
<line x1="937.6500000000001" y1="924" x2="937.6500000000001" y2="930.8" stroke="#2e2e2e" stroke-width="2.1"/>
<line x1="937.6500000000001" y1="950.4" x2="937.6500000000001" y2="983.3" stroke="#2e2e2e" stroke-width="2.1"/>
<line x1="930.1500000000001" y1="924" x2="945.1500000000001" y2="924" stroke="#2e2e2e" stroke-width="2.3"/>
<line x1="930.1500000000001" y1="983.3" x2="945.1500000000001" y2="983.3" stroke="#2e2e2e" stroke-width="2.3"/>
<rect x="921.7" y="930.8" width="31.899999999999977" height="19.600000000000023" fill="none" stroke="#2e2e2e" stroke-width="2.2"/>
<line x1="921.7" y1="939.3" x2="953.6" y2="939.3" stroke="#2e2e2e" stroke-width="2.2"/>
<line x1="937.6500000000001" y1="984.4" x2="937.6500000000001" y2="993.4" stroke="#1c1c1c" stroke-width="3"/>
<line x1="988.8" y1="941" x2="988.8" y2="947.7" stroke="#2e2e2e" stroke-width="2.1"/>
<line x1="988.8" y1="979.2" x2="988.8" y2="980.9" stroke="#2e2e2e" stroke-width="2.1"/>
<line x1="981.3" y1="941" x2="996.3" y2="941" stroke="#2e2e2e" stroke-width="2.3"/>
<line x1="981.3" y1="980.9" x2="996.3" y2="980.9" stroke="#2e2e2e" stroke-width="2.3"/>
<rect x="973.2" y="947.7" width="31.199999999999932" height="31.5" fill="none" stroke="#2e2e2e" stroke-width="2.2"/>
<line x1="973.2" y1="955.5" x2="1004.4" y2="955.5" stroke="#2e2e2e" stroke-width="2.2"/>
<line x1="988.8" y1="984.4" x2="988.8" y2="993.4" stroke="#1c1c1c" stroke-width="3"/>
<line x1="1039.75" y1="939.3" x2="1039.75" y2="940.3" stroke="#2e2e2e" stroke-width="2.1"/>
<line x1="1039.75" y1="970.8" x2="1039.75" y2="979.9" stroke="#2e2e2e" stroke-width="2.1"/>
<line x1="1032.25" y1="939.3" x2="1047.25" y2="939.3" stroke="#2e2e2e" stroke-width="2.3"/>
<line x1="1032.25" y1="979.9" x2="1047.25" y2="979.9" stroke="#2e2e2e" stroke-width="2.3"/>
<rect x="1024.3" y="940.3" width="30.90000000000009" height="30.5" fill="none" stroke="#2e2e2e" stroke-width="2.2"/>
<line x1="1024.3" y1="961.3" x2="1055.2" y2="961.3" stroke="#2e2e2e" stroke-width="2.2"/>
<line x1="1039.75" y1="984.4" x2="1039.75" y2="993.4" stroke="#1c1c1c" stroke-width="3"/>
<text x="886.9" y="1009.4" font-size="17.3" text-anchor="middle" font-weight="normal" font-style="normal" fill="#222" >Std</text>
<text x="886.9" y="1031.3" font-size="17.3" text-anchor="middle" font-weight="normal" font-style="normal" fill="#222" >iMΦ</text>
<text x="937.7" y="1009.4" font-size="17.3" text-anchor="middle" font-weight="normal" font-style="normal" fill="#222" >Std</text>
<text x="937.7" y="1031.3" font-size="17.3" text-anchor="middle" font-weight="normal" font-style="normal" fill="#222" >iMC</text>
<text x="986.3" y="1011.7" font-size="17.3" text-anchor="middle" font-weight="normal" font-style="normal" fill="#222" >Equal</text>
<text x="1050.0" y="1011.7" font-size="17.3" text-anchor="middle" font-weight="normal" font-style="normal" fill="#222" >In vivo</text>
<line x1="886.8" y1="751.1" x2="988.8" y2="751.1" stroke="#1c1c1c" stroke-width="2.4"/>
<text x="938.4" y="746.0" font-family="DejaVu Sans, sans-serif" font-size="22" font-weight="bold" text-anchor="middle" letter-spacing="0.7" fill="#1c1c1c">*</text>
<text x="980.9" y="717.4" font-size="33" text-anchor="middle" font-weight="bold" font-style="italic" fill="#111" >LOXL2</text>
<text transform="translate(806.7,866.2) rotate(-90)" font-size="19.9" font-weight="bold" text-anchor="middle" fill="#1c1c1c">mRNA fold change</text>
<line x1="14" y1="1068.3" x2="1124" y2="1068.3" stroke="#222" stroke-width="2.5"/>
<text x="569.5" y="1121.0" font-size="32.7" text-anchor="middle" font-weight="bold" font-style="normal" fill="#1a1a1a" >48h TGFβ</text>
<text x="1171.0" y="45.0" font-size="40" text-anchor="start" font-weight="bold" font-style="normal" fill="#111" >B</text>
<line x1="1257.9" y1="53.4" x2="1257.9" y2="258.6" stroke="#161616" stroke-width="2.3"/>
<line x1="1248.3" y1="95.1" x2="1467.3" y2="95.1" stroke="#161616" stroke-width="2.3"/>
<line x1="1248.4" y1="54.5" x2="1257.9" y2="54.5" stroke="#161616" stroke-width="2.3"/>
<text x="1245.6" y="60.3" font-size="16.2" text-anchor="end" font-weight="bold" font-style="normal" fill="#161616" >-5</text>
<line x1="1248.4" y1="95.1" x2="1257.9" y2="95.1" stroke="#161616" stroke-width="2.3"/>
<text x="1245.6" y="100.9" font-size="16.2" text-anchor="end" font-weight="bold" font-style="normal" fill="#161616" >0</text>
<line x1="1248.4" y1="135.7" x2="1257.9" y2="135.7" stroke="#161616" stroke-width="2.3"/>
<text x="1245.6" y="141.5" font-size="16.2" text-anchor="end" font-weight="bold" font-style="normal" fill="#161616" >5</text>
<line x1="1248.4" y1="176.29999999999998" x2="1257.9" y2="176.29999999999998" stroke="#161616" stroke-width="2.3"/>
<text x="1245.6" y="182.1" font-size="16.2" text-anchor="end" font-weight="bold" font-style="normal" fill="#161616" >10</text>
<line x1="1248.4" y1="216.89999999999998" x2="1257.9" y2="216.89999999999998" stroke="#161616" stroke-width="2.3"/>
<text x="1245.6" y="222.7" font-size="16.2" text-anchor="end" font-weight="bold" font-style="normal" fill="#161616" >15</text>
<line x1="1248.4" y1="257.5" x2="1257.9" y2="257.5" stroke="#161616" stroke-width="2.3"/>
<text x="1245.6" y="263.3" font-size="16.2" text-anchor="end" font-weight="bold" font-style="normal" fill="#161616" >20</text>
<line x1="1275.1" y1="95.1" x2="1275.1" y2="103.6" stroke="#161616" stroke-width="2.3"/>
<text x="1275.1" y="117.9" font-size="16.2" text-anchor="middle" font-weight="bold" font-style="normal" fill="#161616" >1</text>
<line x1="1379" y1="95.1" x2="1379" y2="103.6" stroke="#161616" stroke-width="2.3"/>
<text x="1379.0" y="117.9" font-size="16.2" text-anchor="middle" font-weight="bold" font-style="normal" fill="#161616" >13</text>
<line x1="1448.5" y1="95.1" x2="1448.5" y2="103.6" stroke="#161616" stroke-width="2.3"/>
<text x="1448.5" y="117.9" font-size="16.2" text-anchor="middle" font-weight="bold" font-style="normal" fill="#161616" >21</text>
<text x="1362.0" y="87.3" font-size="18.3" text-anchor="middle" font-weight="bold" font-style="normal" fill="#161616" >Days in 3D</text>
<line x1="1263" y1="68.71" x2="1461.7" y2="68.71" stroke="#222" stroke-width="2.2" stroke-dasharray="2.2 4.5"/>
<text x="1465.4" y="75.5" font-size="19.5" text-anchor="start" font-weight="bold" font-style="normal" fill="#161616" >hHep</text>
<line x1="1270" y1="256.4" x2="1460.3" y2="256.4" stroke="#161616" stroke-width="2.3"/>
<text x="1371.9" y="276.0" font-size="17" text-anchor="middle" font-weight="bold" font-style="normal" fill="#222" letter-spacing="2.6">****</text>
<line x1="1257.9" y1="198.2" x2="1257.9" y2="241.3" stroke="#e7a0b8" stroke-width="2.1"/>
<line x1="1252.4" y1="198.2" x2="1263.4" y2="198.2" stroke="#e7a0b8" stroke-width="2.1"/>
<line x1="1252.4" y1="241.3" x2="1263.4" y2="241.3" stroke="#e7a0b8" stroke-width="2.1"/>
<line x1="1275.1" y1="203.1" x2="1275.1" y2="244.5" stroke="#e7a0b8" stroke-width="2.1"/>
<line x1="1269.6" y1="203.1" x2="1280.6" y2="203.1" stroke="#e7a0b8" stroke-width="2.1"/>
<line x1="1269.6" y1="244.5" x2="1280.6" y2="244.5" stroke="#e7a0b8" stroke-width="2.1"/>
<line x1="1379" y1="143.8" x2="1379" y2="153.6" stroke="#e7a0b8" stroke-width="2.1"/>
<line x1="1373.5" y1="143.8" x2="1384.5" y2="143.8" stroke="#e7a0b8" stroke-width="2.1"/>
<line x1="1373.5" y1="153.6" x2="1384.5" y2="153.6" stroke="#e7a0b8" stroke-width="2.1"/>
<line x1="1448.5" y1="126.0" x2="1448.5" y2="132.5" stroke="#e7a0b8" stroke-width="2.1"/>
<line x1="1443.0" y1="126.0" x2="1454.0" y2="126.0" stroke="#e7a0b8" stroke-width="2.1"/>
<line x1="1443.0" y1="132.5" x2="1454.0" y2="132.5" stroke="#e7a0b8" stroke-width="2.1"/>
<polyline points="1257.9,221.0 1275.1,213.7 1379.0,148.7 1448.5,129.2" fill="none" stroke="#e7a0b8" stroke-width="2.5" stroke-linejoin="round"/>
<circle cx="1257.9" cy="221.0" r="4.8" fill="#e7a0b8"/>
<circle cx="1275.1" cy="213.7" r="4.8" fill="#e7a0b8"/>
<circle cx="1379" cy="148.7" r="4.8" fill="#e7a0b8"/>
<circle cx="1448.5" cy="129.2" r="4.8" fill="#e7a0b8"/>
<line x1="1257.9" y1="207.2" x2="1257.9" y2="229.1" stroke="#8cc3da" stroke-width="2.1"/>
<line x1="1252.4" y1="207.2" x2="1263.4" y2="207.2" stroke="#8cc3da" stroke-width="2.1"/>
<line x1="1252.4" y1="229.1" x2="1263.4" y2="229.1" stroke="#8cc3da" stroke-width="2.1"/>
<line x1="1275.1" y1="206.3" x2="1275.1" y2="229.1" stroke="#8cc3da" stroke-width="2.1"/>
<line x1="1269.6" y1="206.3" x2="1280.6" y2="206.3" stroke="#8cc3da" stroke-width="2.1"/>
<line x1="1269.6" y1="229.1" x2="1280.6" y2="229.1" stroke="#8cc3da" stroke-width="2.1"/>
<line x1="1379" y1="137.3" x2="1379" y2="147.1" stroke="#8cc3da" stroke-width="2.1"/>
<line x1="1373.5" y1="137.3" x2="1384.5" y2="137.3" stroke="#8cc3da" stroke-width="2.1"/>
<line x1="1373.5" y1="147.1" x2="1384.5" y2="147.1" stroke="#8cc3da" stroke-width="2.1"/>
<line x1="1448.5" y1="118.6" x2="1448.5" y2="126.8" stroke="#8cc3da" stroke-width="2.1"/>
<line x1="1443.0" y1="118.6" x2="1454.0" y2="118.6" stroke="#8cc3da" stroke-width="2.1"/>
<line x1="1443.0" y1="126.8" x2="1454.0" y2="126.8" stroke="#8cc3da" stroke-width="2.1"/>
<polyline points="1257.9,218.5 1275.1,216.9 1379.0,142.2 1448.5,122.7" fill="none" stroke="#8cc3da" stroke-width="2.5" stroke-linejoin="round"/>
<circle cx="1257.9" cy="218.5" r="4.8" fill="#8cc3da"/>
<circle cx="1275.1" cy="216.9" r="4.8" fill="#8cc3da"/>
<circle cx="1379" cy="142.2" r="4.8" fill="#8cc3da"/>
<circle cx="1448.5" cy="122.7" r="4.8" fill="#8cc3da"/>
<line x1="1257.9" y1="200.7" x2="1257.9" y2="234.8" stroke="#b51a4f" stroke-width="2.1"/>
<line x1="1252.4" y1="200.7" x2="1263.4" y2="200.7" stroke="#b51a4f" stroke-width="2.1"/>
<line x1="1252.4" y1="234.8" x2="1263.4" y2="234.8" stroke="#b51a4f" stroke-width="2.1"/>
<line x1="1275.1" y1="197.4" x2="1275.1" y2="219.3" stroke="#b51a4f" stroke-width="2.1"/>
<line x1="1269.6" y1="197.4" x2="1280.6" y2="197.4" stroke="#b51a4f" stroke-width="2.1"/>
<line x1="1269.6" y1="219.3" x2="1280.6" y2="219.3" stroke="#b51a4f" stroke-width="2.1"/>
<line x1="1379" y1="134.9" x2="1379" y2="144.6" stroke="#b51a4f" stroke-width="2.1"/>
<line x1="1373.5" y1="134.9" x2="1384.5" y2="134.9" stroke="#b51a4f" stroke-width="2.1"/>
<line x1="1373.5" y1="144.6" x2="1384.5" y2="144.6" stroke="#b51a4f" stroke-width="2.1"/>
<line x1="1448.5" y1="116.2" x2="1448.5" y2="122.7" stroke="#b51a4f" stroke-width="2.1"/>
<line x1="1443.0" y1="116.2" x2="1454.0" y2="116.2" stroke="#b51a4f" stroke-width="2.1"/>
<line x1="1443.0" y1="122.7" x2="1454.0" y2="122.7" stroke="#b51a4f" stroke-width="2.1"/>
<polyline points="1257.9,216.9 1275.1,209.6 1379.0,139.8 1448.5,119.5" fill="none" stroke="#b51a4f" stroke-width="2.5" stroke-linejoin="round"/>
<circle cx="1257.9" cy="216.9" r="4.8" fill="#b51a4f"/>
<circle cx="1275.1" cy="209.6" r="4.8" fill="#b51a4f"/>
<circle cx="1379" cy="139.8" r="4.8" fill="#b51a4f"/>
<circle cx="1448.5" cy="119.5" r="4.8" fill="#b51a4f"/>
<line x1="1257.9" y1="208.8" x2="1257.9" y2="226.6" stroke="#2c5a6e" stroke-width="2.1"/>
<line x1="1252.4" y1="208.8" x2="1263.4" y2="208.8" stroke="#2c5a6e" stroke-width="2.1"/>
<line x1="1252.4" y1="226.6" x2="1263.4" y2="226.6" stroke="#2c5a6e" stroke-width="2.1"/>
<line x1="1275.1" y1="214.5" x2="1275.1" y2="237.2" stroke="#2c5a6e" stroke-width="2.1"/>
<line x1="1269.6" y1="214.5" x2="1280.6" y2="214.5" stroke="#2c5a6e" stroke-width="2.1"/>
<line x1="1269.6" y1="237.2" x2="1280.6" y2="237.2" stroke="#2c5a6e" stroke-width="2.1"/>
<line x1="1379" y1="134.1" x2="1379" y2="145.4" stroke="#2c5a6e" stroke-width="2.1"/>
<line x1="1373.5" y1="134.1" x2="1384.5" y2="134.1" stroke="#2c5a6e" stroke-width="2.1"/>
<line x1="1373.5" y1="145.4" x2="1384.5" y2="145.4" stroke="#2c5a6e" stroke-width="2.1"/>
<line x1="1448.5" y1="115.4" x2="1448.5" y2="121.9" stroke="#2c5a6e" stroke-width="2.1"/>
<line x1="1443.0" y1="115.4" x2="1454.0" y2="115.4" stroke="#2c5a6e" stroke-width="2.1"/>
<line x1="1443.0" y1="121.9" x2="1454.0" y2="121.9" stroke="#2c5a6e" stroke-width="2.1"/>
<polyline points="1257.9,216.9 1275.1,225.0 1379.0,140.6 1448.5,118.6" fill="none" stroke="#2c5a6e" stroke-width="2.5" stroke-linejoin="round"/>
<circle cx="1257.9" cy="216.9" r="4.8" fill="#2c5a6e"/>
<circle cx="1275.1" cy="225.0" r="4.8" fill="#2c5a6e"/>
<circle cx="1379" cy="140.6" r="4.8" fill="#2c5a6e"/>
<circle cx="1448.5" cy="118.6" r="4.8" fill="#2c5a6e"/>
<text x="1385.5" y="34.0" font-size="33.4" text-anchor="middle" font-weight="bold" font-style="italic" fill="#111" >CYP3A4</text>
<text transform="translate(1221.6,156.5) rotate(-90)" font-size="18.2" font-weight="bold" text-anchor="middle" fill="#161616">dCt/REF</text>
<line x1="1252.7" y1="326.9" x2="1252.7" y2="530.6" stroke="#161616" stroke-width="2.3"/>
<line x1="1243" y1="408.6" x2="1461.3" y2="408.6" stroke="#161616" stroke-width="2.3"/>
<line x1="1243.2" y1="328.0" x2="1252.7" y2="328.0" stroke="#161616" stroke-width="2.3"/>
<text x="1240.4" y="333.8" font-size="16.2" text-anchor="end" font-weight="bold" font-style="normal" fill="#161616" >-4</text>
<line x1="1243.2" y1="368.3" x2="1252.7" y2="368.3" stroke="#161616" stroke-width="2.3"/>
<text x="1240.4" y="374.1" font-size="16.2" text-anchor="end" font-weight="bold" font-style="normal" fill="#161616" >-2</text>
<line x1="1243.2" y1="408.6" x2="1252.7" y2="408.6" stroke="#161616" stroke-width="2.3"/>
<text x="1240.4" y="414.4" font-size="16.2" text-anchor="end" font-weight="bold" font-style="normal" fill="#161616" >0</text>
<line x1="1243.2" y1="448.90000000000003" x2="1252.7" y2="448.90000000000003" stroke="#161616" stroke-width="2.3"/>
<text x="1240.4" y="454.7" font-size="16.2" text-anchor="end" font-weight="bold" font-style="normal" fill="#161616" >2</text>
<line x1="1243.2" y1="489.20000000000005" x2="1252.7" y2="489.20000000000005" stroke="#161616" stroke-width="2.3"/>
<text x="1240.4" y="495.0" font-size="16.2" text-anchor="end" font-weight="bold" font-style="normal" fill="#161616" >4</text>
<line x1="1243.2" y1="529.5" x2="1252.7" y2="529.5" stroke="#161616" stroke-width="2.3"/>
<text x="1240.4" y="535.3" font-size="16.2" text-anchor="end" font-weight="bold" font-style="normal" fill="#161616" >6</text>
<line x1="1270" y1="408.6" x2="1270" y2="417.1" stroke="#161616" stroke-width="2.3"/>
<text x="1270.0" y="431.4" font-size="16.2" text-anchor="middle" font-weight="bold" font-style="normal" fill="#161616" >1</text>
<line x1="1373.9" y1="408.6" x2="1373.9" y2="417.1" stroke="#161616" stroke-width="2.3"/>
<text x="1373.9" y="431.4" font-size="16.2" text-anchor="middle" font-weight="bold" font-style="normal" fill="#161616" >13</text>
<line x1="1443.2" y1="408.6" x2="1443.2" y2="417.1" stroke="#161616" stroke-width="2.3"/>
<text x="1443.2" y="431.4" font-size="16.2" text-anchor="middle" font-weight="bold" font-style="normal" fill="#161616" >21</text>
<text x="1356.9" y="402.3" font-size="18.3" text-anchor="middle" font-weight="bold" font-style="normal" fill="#161616" >Days in 3D</text>
<line x1="1258" y1="354.3965" x2="1456.8" y2="354.3965" stroke="#222" stroke-width="2.2" stroke-dasharray="2.2 4.5"/>
<text x="1460.0" y="361.2" font-size="19.5" text-anchor="start" font-weight="bold" font-style="normal" fill="#161616" >hKC</text>
<line x1="1264.7" y1="519.3" x2="1455.6" y2="519.3" stroke="#161616" stroke-width="2.3"/>
<text x="1366.8" y="538.7" font-size="17" text-anchor="middle" font-weight="bold" font-style="normal" fill="#222" letter-spacing="2.6">****</text>
<line x1="1252.7" y1="408.6" x2="1252.7" y2="517.4" stroke="#e7a0b8" stroke-width="2.1"/>
<line x1="1247.2" y1="408.6" x2="1258.2" y2="408.6" stroke="#e7a0b8" stroke-width="2.1"/>
<line x1="1247.2" y1="517.4" x2="1258.2" y2="517.4" stroke="#e7a0b8" stroke-width="2.1"/>
<line x1="1270" y1="495.2" x2="1270" y2="507.3" stroke="#e7a0b8" stroke-width="2.1"/>
<line x1="1264.5" y1="495.2" x2="1275.5" y2="495.2" stroke="#e7a0b8" stroke-width="2.1"/>
<line x1="1264.5" y1="507.3" x2="1275.5" y2="507.3" stroke="#e7a0b8" stroke-width="2.1"/>
<line x1="1373.9" y1="466.0" x2="1373.9" y2="479.1" stroke="#e7a0b8" stroke-width="2.1"/>
<line x1="1368.4" y1="466.0" x2="1379.4" y2="466.0" stroke="#e7a0b8" stroke-width="2.1"/>
<line x1="1368.4" y1="479.1" x2="1379.4" y2="479.1" stroke="#e7a0b8" stroke-width="2.1"/>
<line x1="1443.2" y1="448.9" x2="1443.2" y2="461.0" stroke="#e7a0b8" stroke-width="2.1"/>
<line x1="1437.7" y1="448.9" x2="1448.7" y2="448.9" stroke="#e7a0b8" stroke-width="2.1"/>
<line x1="1437.7" y1="461.0" x2="1448.7" y2="461.0" stroke="#e7a0b8" stroke-width="2.1"/>
<polyline points="1252.7,509.4 1270.0,501.3 1373.9,472.1 1443.2,454.9" fill="none" stroke="#e7a0b8" stroke-width="2.5" stroke-linejoin="round"/>
<circle cx="1252.7" cy="509.4" r="4.8" fill="#e7a0b8"/>
<circle cx="1270" cy="501.3" r="4.8" fill="#e7a0b8"/>
<circle cx="1373.9" cy="472.1" r="4.8" fill="#e7a0b8"/>
<circle cx="1443.2" cy="454.9" r="4.8" fill="#e7a0b8"/>
<line x1="1252.7" y1="485.2" x2="1252.7" y2="517.4" stroke="#8cc3da" stroke-width="2.1"/>
<line x1="1247.2" y1="485.2" x2="1258.2" y2="485.2" stroke="#8cc3da" stroke-width="2.1"/>
<line x1="1247.2" y1="517.4" x2="1258.2" y2="517.4" stroke="#8cc3da" stroke-width="2.1"/>
<line x1="1270" y1="477.1" x2="1270" y2="499.3" stroke="#8cc3da" stroke-width="2.1"/>
<line x1="1264.5" y1="477.1" x2="1275.5" y2="477.1" stroke="#8cc3da" stroke-width="2.1"/>
<line x1="1264.5" y1="499.3" x2="1275.5" y2="499.3" stroke="#8cc3da" stroke-width="2.1"/>
<line x1="1373.9" y1="457.0" x2="1373.9" y2="473.1" stroke="#8cc3da" stroke-width="2.1"/>
<line x1="1368.4" y1="457.0" x2="1379.4" y2="457.0" stroke="#8cc3da" stroke-width="2.1"/>
<line x1="1368.4" y1="473.1" x2="1379.4" y2="473.1" stroke="#8cc3da" stroke-width="2.1"/>
<line x1="1443.2" y1="447.9" x2="1443.2" y2="466.0" stroke="#8cc3da" stroke-width="2.1"/>
<line x1="1437.7" y1="447.9" x2="1448.7" y2="447.9" stroke="#8cc3da" stroke-width="2.1"/>
<line x1="1437.7" y1="466.0" x2="1448.7" y2="466.0" stroke="#8cc3da" stroke-width="2.1"/>
<polyline points="1252.7,501.3 1270.0,489.2 1373.9,465.0 1443.2,453.9" fill="none" stroke="#8cc3da" stroke-width="2.5" stroke-linejoin="round"/>
<circle cx="1252.7" cy="501.3" r="4.8" fill="#8cc3da"/>
<circle cx="1270" cy="489.2" r="4.8" fill="#8cc3da"/>
<circle cx="1373.9" cy="465.0" r="4.8" fill="#8cc3da"/>
<circle cx="1443.2" cy="453.9" r="4.8" fill="#8cc3da"/>
<line x1="1252.7" y1="472.1" x2="1252.7" y2="487.2" stroke="#b51a4f" stroke-width="2.1"/>
<line x1="1247.2" y1="472.1" x2="1258.2" y2="472.1" stroke="#b51a4f" stroke-width="2.1"/>
<line x1="1247.2" y1="487.2" x2="1258.2" y2="487.2" stroke="#b51a4f" stroke-width="2.1"/>
<line x1="1270" y1="462.0" x2="1270" y2="475.1" stroke="#b51a4f" stroke-width="2.1"/>
<line x1="1264.5" y1="462.0" x2="1275.5" y2="462.0" stroke="#b51a4f" stroke-width="2.1"/>
<line x1="1264.5" y1="475.1" x2="1275.5" y2="475.1" stroke="#b51a4f" stroke-width="2.1"/>
<line x1="1373.9" y1="438.8" x2="1373.9" y2="461.0" stroke="#b51a4f" stroke-width="2.1"/>
<line x1="1368.4" y1="438.8" x2="1379.4" y2="438.8" stroke="#b51a4f" stroke-width="2.1"/>
<line x1="1368.4" y1="461.0" x2="1379.4" y2="461.0" stroke="#b51a4f" stroke-width="2.1"/>
<line x1="1443.2" y1="440.8" x2="1443.2" y2="444.9" stroke="#b51a4f" stroke-width="2.1"/>
<line x1="1437.7" y1="440.8" x2="1448.7" y2="440.8" stroke="#b51a4f" stroke-width="2.1"/>
<line x1="1437.7" y1="444.9" x2="1448.7" y2="444.9" stroke="#b51a4f" stroke-width="2.1"/>
<polyline points="1252.7,481.1 1270.0,469.1 1373.9,452.9 1443.2,442.9" fill="none" stroke="#b51a4f" stroke-width="2.5" stroke-linejoin="round"/>
<circle cx="1252.7" cy="481.1" r="4.8" fill="#b51a4f"/>
<circle cx="1270" cy="469.1" r="4.8" fill="#b51a4f"/>
<circle cx="1373.9" cy="452.9" r="4.8" fill="#b51a4f"/>
<circle cx="1443.2" cy="442.9" r="4.8" fill="#b51a4f"/>
<line x1="1252.7" y1="488.2" x2="1252.7" y2="524.5" stroke="#2c5a6e" stroke-width="2.1"/>
<line x1="1247.2" y1="488.2" x2="1258.2" y2="488.2" stroke="#2c5a6e" stroke-width="2.1"/>
<line x1="1247.2" y1="524.5" x2="1258.2" y2="524.5" stroke="#2c5a6e" stroke-width="2.1"/>
<line x1="1270" y1="475.1" x2="1270" y2="503.3" stroke="#2c5a6e" stroke-width="2.1"/>
<line x1="1264.5" y1="475.1" x2="1275.5" y2="475.1" stroke="#2c5a6e" stroke-width="2.1"/>
<line x1="1264.5" y1="503.3" x2="1275.5" y2="503.3" stroke="#2c5a6e" stroke-width="2.1"/>
<line x1="1373.9" y1="453.9" x2="1373.9" y2="470.1" stroke="#2c5a6e" stroke-width="2.1"/>
<line x1="1368.4" y1="453.9" x2="1379.4" y2="453.9" stroke="#2c5a6e" stroke-width="2.1"/>
<line x1="1368.4" y1="470.1" x2="1379.4" y2="470.1" stroke="#2c5a6e" stroke-width="2.1"/>
<line x1="1443.2" y1="448.9" x2="1443.2" y2="459.0" stroke="#2c5a6e" stroke-width="2.1"/>
<line x1="1437.7" y1="448.9" x2="1448.7" y2="448.9" stroke="#2c5a6e" stroke-width="2.1"/>
<line x1="1437.7" y1="459.0" x2="1448.7" y2="459.0" stroke="#2c5a6e" stroke-width="2.1"/>
<polyline points="1252.7,506.3 1270.0,487.2 1373.9,462.0 1443.2,452.9" fill="none" stroke="#2c5a6e" stroke-width="2.5" stroke-linejoin="round"/>
<circle cx="1252.7" cy="506.3" r="4.8" fill="#2c5a6e"/>
<circle cx="1270" cy="487.2" r="4.8" fill="#2c5a6e"/>
<circle cx="1373.9" cy="462.0" r="4.8" fill="#2c5a6e"/>
<circle cx="1443.2" cy="452.9" r="4.8" fill="#2c5a6e"/>
<text x="1373.3" y="327.2" font-size="33.4" text-anchor="middle" font-weight="bold" font-style="italic" fill="#111" >CD68</text>
<text transform="translate(1220.2,427.9) rotate(-90)" font-size="18.2" font-weight="bold" text-anchor="middle" fill="#161616">dCt/REF</text>
<line x1="1250.2" y1="622.4" x2="1250.2" y2="835.0" stroke="#161616" stroke-width="2.3"/>
<line x1="1241.2" y1="623.5" x2="1466.7" y2="623.5" stroke="#161616" stroke-width="2.3"/>
<line x1="1240.7" y1="623.5" x2="1250.2" y2="623.5" stroke="#161616" stroke-width="2.3"/>
<text x="1237.9" y="629.3" font-size="16.2" text-anchor="end" font-weight="bold" font-style="normal" fill="#161616" >0</text>
<line x1="1240.7" y1="676.1" x2="1250.2" y2="676.1" stroke="#161616" stroke-width="2.3"/>
<text x="1237.9" y="681.9" font-size="16.2" text-anchor="end" font-weight="bold" font-style="normal" fill="#161616" >2</text>
<line x1="1240.7" y1="728.7" x2="1250.2" y2="728.7" stroke="#161616" stroke-width="2.3"/>
<text x="1237.9" y="734.5" font-size="16.2" text-anchor="end" font-weight="bold" font-style="normal" fill="#161616" >4</text>
<line x1="1240.7" y1="781.3" x2="1250.2" y2="781.3" stroke="#161616" stroke-width="2.3"/>
<text x="1237.9" y="787.1" font-size="16.2" text-anchor="end" font-weight="bold" font-style="normal" fill="#161616" >6</text>
<line x1="1240.7" y1="833.9" x2="1250.2" y2="833.9" stroke="#161616" stroke-width="2.3"/>
<text x="1237.9" y="839.7" font-size="16.2" text-anchor="end" font-weight="bold" font-style="normal" fill="#161616" >8</text>
<line x1="1268" y1="623.5" x2="1268" y2="632.0" stroke="#161616" stroke-width="2.3"/>
<text x="1268.0" y="646.3" font-size="16.2" text-anchor="middle" font-weight="bold" font-style="normal" fill="#161616" >1</text>
<line x1="1376.8" y1="623.5" x2="1376.8" y2="632.0" stroke="#161616" stroke-width="2.3"/>
<text x="1376.8" y="646.3" font-size="16.2" text-anchor="middle" font-weight="bold" font-style="normal" fill="#161616" >13</text>
<line x1="1448.4" y1="623.5" x2="1448.4" y2="632.0" stroke="#161616" stroke-width="2.3"/>
<text x="1448.4" y="646.3" font-size="16.2" text-anchor="middle" font-weight="bold" font-style="normal" fill="#161616" >21</text>
<text x="1358.5" y="616.7" font-size="18.3" text-anchor="middle" font-weight="bold" font-style="normal" fill="#161616" >Days in 3D</text>
<line x1="1254" y1="705.556" x2="1461.5" y2="705.556" stroke="#222" stroke-width="2.2" stroke-dasharray="2.2 4.5"/>
<text x="1470.6" y="712.4" font-size="19.5" text-anchor="start" font-weight="bold" font-style="normal" fill="#161616" >hHSC</text>
<line x1="1262.9" y1="822.3" x2="1461" y2="822.3" stroke="#161616" stroke-width="2.3"/>
<text x="1367.9" y="843.2" font-size="17" text-anchor="middle" font-weight="bold" font-style="normal" fill="#222" letter-spacing="2.6">****</text>
<line x1="1250.2" y1="794.5" x2="1250.2" y2="816.8" stroke="#e7a0b8" stroke-width="2.1"/>
<line x1="1244.7" y1="794.5" x2="1255.7" y2="794.5" stroke="#e7a0b8" stroke-width="2.1"/>
<line x1="1244.7" y1="816.8" x2="1255.7" y2="816.8" stroke="#e7a0b8" stroke-width="2.1"/>
<line x1="1268" y1="781.3" x2="1268" y2="791.8" stroke="#e7a0b8" stroke-width="2.1"/>
<line x1="1262.5" y1="781.3" x2="1273.5" y2="781.3" stroke="#e7a0b8" stroke-width="2.1"/>
<line x1="1262.5" y1="791.8" x2="1273.5" y2="791.8" stroke="#e7a0b8" stroke-width="2.1"/>
<line x1="1376.8" y1="755.0" x2="1376.8" y2="776.0" stroke="#e7a0b8" stroke-width="2.1"/>
<line x1="1371.3" y1="755.0" x2="1382.3" y2="755.0" stroke="#e7a0b8" stroke-width="2.1"/>
<line x1="1371.3" y1="776.0" x2="1382.3" y2="776.0" stroke="#e7a0b8" stroke-width="2.1"/>
<line x1="1448.4" y1="728.7" x2="1448.4" y2="744.5" stroke="#e7a0b8" stroke-width="2.1"/>
<line x1="1442.9" y1="728.7" x2="1453.9" y2="728.7" stroke="#e7a0b8" stroke-width="2.1"/>
<line x1="1442.9" y1="744.5" x2="1453.9" y2="744.5" stroke="#e7a0b8" stroke-width="2.1"/>
<polyline points="1250.2,805.0 1268.0,786.6 1376.8,765.5 1448.4,736.6" fill="none" stroke="#e7a0b8" stroke-width="2.5" stroke-linejoin="round"/>
<circle cx="1250.2" cy="805.0" r="4.8" fill="#e7a0b8"/>
<circle cx="1268" cy="786.6" r="4.8" fill="#e7a0b8"/>
<circle cx="1376.8" cy="765.5" r="4.8" fill="#e7a0b8"/>
<circle cx="1448.4" cy="736.6" r="4.8" fill="#e7a0b8"/>
<line x1="1250.2" y1="762.9" x2="1250.2" y2="794.5" stroke="#8cc3da" stroke-width="2.1"/>
<line x1="1244.7" y1="762.9" x2="1255.7" y2="762.9" stroke="#8cc3da" stroke-width="2.1"/>
<line x1="1244.7" y1="794.5" x2="1255.7" y2="794.5" stroke="#8cc3da" stroke-width="2.1"/>
<line x1="1268" y1="755.0" x2="1268" y2="778.7" stroke="#8cc3da" stroke-width="2.1"/>
<line x1="1262.5" y1="755.0" x2="1273.5" y2="755.0" stroke="#8cc3da" stroke-width="2.1"/>
<line x1="1262.5" y1="778.7" x2="1273.5" y2="778.7" stroke="#8cc3da" stroke-width="2.1"/>
<line x1="1376.8" y1="739.2" x2="1376.8" y2="773.4" stroke="#8cc3da" stroke-width="2.1"/>
<line x1="1371.3" y1="739.2" x2="1382.3" y2="739.2" stroke="#8cc3da" stroke-width="2.1"/>
<line x1="1371.3" y1="773.4" x2="1382.3" y2="773.4" stroke="#8cc3da" stroke-width="2.1"/>
<line x1="1448.4" y1="718.2" x2="1448.4" y2="739.2" stroke="#8cc3da" stroke-width="2.1"/>
<line x1="1442.9" y1="718.2" x2="1453.9" y2="718.2" stroke="#8cc3da" stroke-width="2.1"/>
<line x1="1442.9" y1="739.2" x2="1453.9" y2="739.2" stroke="#8cc3da" stroke-width="2.1"/>
<polyline points="1250.2,778.7 1268.0,765.5 1376.8,755.0 1448.4,728.7" fill="none" stroke="#8cc3da" stroke-width="2.5" stroke-linejoin="round"/>
<circle cx="1250.2" cy="778.7" r="4.8" fill="#8cc3da"/>
<circle cx="1268" cy="765.5" r="4.8" fill="#8cc3da"/>
<circle cx="1376.8" cy="755.0" r="4.8" fill="#8cc3da"/>
<circle cx="1448.4" cy="728.7" r="4.8" fill="#8cc3da"/>
<line x1="1250.2" y1="783.9" x2="1250.2" y2="799.7" stroke="#b51a4f" stroke-width="2.1"/>
<line x1="1244.7" y1="783.9" x2="1255.7" y2="783.9" stroke="#b51a4f" stroke-width="2.1"/>
<line x1="1244.7" y1="799.7" x2="1255.7" y2="799.7" stroke="#b51a4f" stroke-width="2.1"/>
<line x1="1268" y1="731.3" x2="1268" y2="749.7" stroke="#b51a4f" stroke-width="2.1"/>
<line x1="1262.5" y1="731.3" x2="1273.5" y2="731.3" stroke="#b51a4f" stroke-width="2.1"/>
<line x1="1262.5" y1="749.7" x2="1273.5" y2="749.7" stroke="#b51a4f" stroke-width="2.1"/>
<line x1="1376.8" y1="741.9" x2="1376.8" y2="768.1" stroke="#b51a4f" stroke-width="2.1"/>
<line x1="1371.3" y1="741.9" x2="1382.3" y2="741.9" stroke="#b51a4f" stroke-width="2.1"/>
<line x1="1371.3" y1="768.1" x2="1382.3" y2="768.1" stroke="#b51a4f" stroke-width="2.1"/>
<line x1="1448.4" y1="715.5" x2="1448.4" y2="744.5" stroke="#b51a4f" stroke-width="2.1"/>
<line x1="1442.9" y1="715.5" x2="1453.9" y2="715.5" stroke="#b51a4f" stroke-width="2.1"/>
<line x1="1442.9" y1="744.5" x2="1453.9" y2="744.5" stroke="#b51a4f" stroke-width="2.1"/>
<polyline points="1250.2,791.8 1268.0,741.9 1376.8,755.0 1448.4,734.0" fill="none" stroke="#b51a4f" stroke-width="2.5" stroke-linejoin="round"/>
<circle cx="1250.2" cy="791.8" r="4.8" fill="#b51a4f"/>
<circle cx="1268" cy="741.9" r="4.8" fill="#b51a4f"/>
<circle cx="1376.8" cy="755.0" r="4.8" fill="#b51a4f"/>
<circle cx="1448.4" cy="734.0" r="4.8" fill="#b51a4f"/>
<line x1="1250.2" y1="745.8" x2="1250.2" y2="794.5" stroke="#2c5a6e" stroke-width="2.1"/>
<line x1="1244.7" y1="745.8" x2="1255.7" y2="745.8" stroke="#2c5a6e" stroke-width="2.1"/>
<line x1="1244.7" y1="794.5" x2="1255.7" y2="794.5" stroke="#2c5a6e" stroke-width="2.1"/>
<line x1="1268" y1="737.9" x2="1268" y2="785.2" stroke="#2c5a6e" stroke-width="2.1"/>
<line x1="1262.5" y1="737.9" x2="1273.5" y2="737.9" stroke="#2c5a6e" stroke-width="2.1"/>
<line x1="1262.5" y1="785.2" x2="1273.5" y2="785.2" stroke="#2c5a6e" stroke-width="2.1"/>
<line x1="1376.8" y1="741.9" x2="1376.8" y2="773.4" stroke="#2c5a6e" stroke-width="2.1"/>
<line x1="1371.3" y1="741.9" x2="1382.3" y2="741.9" stroke="#2c5a6e" stroke-width="2.1"/>
<line x1="1371.3" y1="773.4" x2="1382.3" y2="773.4" stroke="#2c5a6e" stroke-width="2.1"/>
<line x1="1448.4" y1="736.6" x2="1448.4" y2="757.6" stroke="#2c5a6e" stroke-width="2.1"/>
<line x1="1442.9" y1="736.6" x2="1453.9" y2="736.6" stroke="#2c5a6e" stroke-width="2.1"/>
<line x1="1442.9" y1="757.6" x2="1453.9" y2="757.6" stroke="#2c5a6e" stroke-width="2.1"/>
<polyline points="1250.2,770.8 1268.0,758.9 1376.8,757.6 1448.4,747.1" fill="none" stroke="#2c5a6e" stroke-width="2.5" stroke-linejoin="round"/>
<circle cx="1250.2" cy="770.8" r="4.8" fill="#2c5a6e"/>
<circle cx="1268" cy="758.9" r="4.8" fill="#2c5a6e"/>
<circle cx="1376.8" cy="757.6" r="4.8" fill="#2c5a6e"/>
<circle cx="1448.4" cy="747.1" r="4.8" fill="#2c5a6e"/>
<text x="1381.5" y="592.0" font-size="33.4" text-anchor="middle" font-weight="bold" font-style="italic" fill="#111" >PDGFRβ</text>
<text transform="translate(1223,726.9) rotate(-90)" font-size="18.2" font-weight="bold" text-anchor="middle" fill="#161616">dCt/REF</text>
<line x1="1254" y1="913.9" x2="1254" y2="1138.3" stroke="#161616" stroke-width="2.3"/>
<line x1="1245" y1="915.0" x2="1484.9" y2="915.0" stroke="#161616" stroke-width="2.3"/>
<line x1="1244.5" y1="915.0" x2="1254" y2="915.0" stroke="#161616" stroke-width="2.3"/>
<text x="1241.7" y="920.8" font-size="16.2" text-anchor="end" font-weight="bold" font-style="normal" fill="#161616" >0</text>
<line x1="1244.5" y1="989.05" x2="1254" y2="989.05" stroke="#161616" stroke-width="2.3"/>
<text x="1241.7" y="994.8" font-size="16.2" text-anchor="end" font-weight="bold" font-style="normal" fill="#161616" >5</text>
<line x1="1244.5" y1="1063.1" x2="1254" y2="1063.1" stroke="#161616" stroke-width="2.3"/>
<text x="1241.7" y="1068.9" font-size="16.2" text-anchor="end" font-weight="bold" font-style="normal" fill="#161616" >10</text>
<line x1="1244.5" y1="1137.15" x2="1254" y2="1137.15" stroke="#161616" stroke-width="2.3"/>
<text x="1241.7" y="1143.0" font-size="16.2" text-anchor="end" font-weight="bold" font-style="normal" fill="#161616" >15</text>
<line x1="1273.3" y1="915.0" x2="1273.3" y2="923.5" stroke="#161616" stroke-width="2.3"/>
<text x="1273.3" y="937.8" font-size="16.2" text-anchor="middle" font-weight="bold" font-style="normal" fill="#161616" >1</text>
<line x1="1388.6" y1="915.0" x2="1388.6" y2="923.5" stroke="#161616" stroke-width="2.3"/>
<text x="1388.6" y="937.8" font-size="16.2" text-anchor="middle" font-weight="bold" font-style="normal" fill="#161616" >13</text>
<line x1="1465.1" y1="915.0" x2="1465.1" y2="923.5" stroke="#161616" stroke-width="2.3"/>
<text x="1465.1" y="937.8" font-size="16.2" text-anchor="middle" font-weight="bold" font-style="normal" fill="#161616" >21</text>
<text x="1370.2" y="908.5" font-size="20.3" text-anchor="middle" font-weight="bold" font-style="normal" fill="#161616" >Days in 3D</text>
<line x1="1261" y1="980.0159" x2="1478.6" y2="980.0159" stroke="#222" stroke-width="2.2" stroke-dasharray="2.2 4.5"/>
<text x="1484.9" y="986.8" font-size="19.5" text-anchor="start" font-weight="bold" font-style="normal" fill="#161616" >hLSEC</text>
<line x1="1269" y1="1091.9" x2="1477.3" y2="1091.9" stroke="#161616" stroke-width="2.3"/>
<text x="1379.3" y="1113.5" font-size="17" text-anchor="middle" font-weight="bold" font-style="normal" fill="#222" letter-spacing="2.6">****</text>
<line x1="1254" y1="993.5" x2="1254" y2="1023.1" stroke="#e7a0b8" stroke-width="2.1"/>
<line x1="1248.5" y1="993.5" x2="1259.5" y2="993.5" stroke="#e7a0b8" stroke-width="2.1"/>
<line x1="1248.5" y1="1023.1" x2="1259.5" y2="1023.1" stroke="#e7a0b8" stroke-width="2.1"/>
<line x1="1273.3" y1="1029.0" x2="1273.3" y2="1046.8" stroke="#e7a0b8" stroke-width="2.1"/>
<line x1="1267.8" y1="1029.0" x2="1278.8" y2="1029.0" stroke="#e7a0b8" stroke-width="2.1"/>
<line x1="1267.8" y1="1046.8" x2="1278.8" y2="1046.8" stroke="#e7a0b8" stroke-width="2.1"/>
<line x1="1388.6" y1="989.0" x2="1388.6" y2="1024.6" stroke="#e7a0b8" stroke-width="2.1"/>
<line x1="1383.1" y1="989.0" x2="1394.1" y2="989.0" stroke="#e7a0b8" stroke-width="2.1"/>
<line x1="1383.1" y1="1024.6" x2="1394.1" y2="1024.6" stroke="#e7a0b8" stroke-width="2.1"/>
<line x1="1465.1" y1="1012.7" x2="1465.1" y2="1015.7" stroke="#e7a0b8" stroke-width="2.1"/>
<line x1="1459.6" y1="1012.7" x2="1470.6" y2="1012.7" stroke="#e7a0b8" stroke-width="2.1"/>
<line x1="1459.6" y1="1015.7" x2="1470.6" y2="1015.7" stroke="#e7a0b8" stroke-width="2.1"/>
<polyline points="1254.0,1008.3 1273.3,1037.9 1388.6,1006.8 1465.1,1014.2" fill="none" stroke="#e7a0b8" stroke-width="2.5" stroke-linejoin="round"/>
<circle cx="1254" cy="1008.3" r="4.8" fill="#e7a0b8"/>
<circle cx="1273.3" cy="1037.9" r="4.8" fill="#e7a0b8"/>
<circle cx="1388.6" cy="1006.8" r="4.8" fill="#e7a0b8"/>
<circle cx="1465.1" cy="1014.2" r="4.8" fill="#e7a0b8"/>
<line x1="1254" y1="996.5" x2="1254" y2="1026.1" stroke="#8cc3da" stroke-width="2.1"/>
<line x1="1248.5" y1="996.5" x2="1259.5" y2="996.5" stroke="#8cc3da" stroke-width="2.1"/>
<line x1="1248.5" y1="1026.1" x2="1259.5" y2="1026.1" stroke="#8cc3da" stroke-width="2.1"/>
<line x1="1273.3" y1="1023.1" x2="1273.3" y2="1037.9" stroke="#8cc3da" stroke-width="2.1"/>
<line x1="1267.8" y1="1023.1" x2="1278.8" y2="1023.1" stroke="#8cc3da" stroke-width="2.1"/>
<line x1="1267.8" y1="1037.9" x2="1278.8" y2="1037.9" stroke="#8cc3da" stroke-width="2.1"/>
<line x1="1388.6" y1="996.5" x2="1388.6" y2="1011.3" stroke="#8cc3da" stroke-width="2.1"/>
<line x1="1383.1" y1="996.5" x2="1394.1" y2="996.5" stroke="#8cc3da" stroke-width="2.1"/>
<line x1="1383.1" y1="1011.3" x2="1394.1" y2="1011.3" stroke="#8cc3da" stroke-width="2.1"/>
<line x1="1465.1" y1="1011.3" x2="1465.1" y2="1014.2" stroke="#8cc3da" stroke-width="2.1"/>
<line x1="1459.6" y1="1011.3" x2="1470.6" y2="1011.3" stroke="#8cc3da" stroke-width="2.1"/>
<line x1="1459.6" y1="1014.2" x2="1470.6" y2="1014.2" stroke="#8cc3da" stroke-width="2.1"/>
<polyline points="1254.0,1011.3 1273.3,1030.5 1388.6,1003.9 1465.1,1012.7" fill="none" stroke="#8cc3da" stroke-width="2.5" stroke-linejoin="round"/>
<circle cx="1254" cy="1011.3" r="4.8" fill="#8cc3da"/>
<circle cx="1273.3" cy="1030.5" r="4.8" fill="#8cc3da"/>
<circle cx="1388.6" cy="1003.9" r="4.8" fill="#8cc3da"/>
<circle cx="1465.1" cy="1012.7" r="4.8" fill="#8cc3da"/>
<line x1="1254" y1="997.9" x2="1254" y2="1006.8" stroke="#b51a4f" stroke-width="2.1"/>
<line x1="1248.5" y1="997.9" x2="1259.5" y2="997.9" stroke="#b51a4f" stroke-width="2.1"/>
<line x1="1248.5" y1="1006.8" x2="1259.5" y2="1006.8" stroke="#b51a4f" stroke-width="2.1"/>
<line x1="1273.3" y1="992.0" x2="1273.3" y2="1012.7" stroke="#b51a4f" stroke-width="2.1"/>
<line x1="1267.8" y1="992.0" x2="1278.8" y2="992.0" stroke="#b51a4f" stroke-width="2.1"/>
<line x1="1267.8" y1="1012.7" x2="1278.8" y2="1012.7" stroke="#b51a4f" stroke-width="2.1"/>
<line x1="1388.6" y1="999.4" x2="1388.6" y2="1008.3" stroke="#b51a4f" stroke-width="2.1"/>
<line x1="1383.1" y1="999.4" x2="1394.1" y2="999.4" stroke="#b51a4f" stroke-width="2.1"/>
<line x1="1383.1" y1="1008.3" x2="1394.1" y2="1008.3" stroke="#b51a4f" stroke-width="2.1"/>
<line x1="1465.1" y1="999.4" x2="1465.1" y2="1002.4" stroke="#b51a4f" stroke-width="2.1"/>
<line x1="1459.6" y1="999.4" x2="1470.6" y2="999.4" stroke="#b51a4f" stroke-width="2.1"/>
<line x1="1459.6" y1="1002.4" x2="1470.6" y2="1002.4" stroke="#b51a4f" stroke-width="2.1"/>
<polyline points="1254.0,1002.4 1273.3,1002.4 1388.6,1003.9 1465.1,1000.9" fill="none" stroke="#b51a4f" stroke-width="2.5" stroke-linejoin="round"/>
<circle cx="1254" cy="1002.4" r="4.8" fill="#b51a4f"/>
<circle cx="1273.3" cy="1002.4" r="4.8" fill="#b51a4f"/>
<circle cx="1388.6" cy="1003.9" r="4.8" fill="#b51a4f"/>
<circle cx="1465.1" cy="1000.9" r="4.8" fill="#b51a4f"/>
<line x1="1254" y1="990.5" x2="1254" y2="1039.4" stroke="#2c5a6e" stroke-width="2.1"/>
<line x1="1248.5" y1="990.5" x2="1259.5" y2="990.5" stroke="#2c5a6e" stroke-width="2.1"/>
<line x1="1248.5" y1="1039.4" x2="1259.5" y2="1039.4" stroke="#2c5a6e" stroke-width="2.1"/>
<line x1="1273.3" y1="1030.5" x2="1273.3" y2="1080.9" stroke="#2c5a6e" stroke-width="2.1"/>
<line x1="1267.8" y1="1030.5" x2="1278.8" y2="1030.5" stroke="#2c5a6e" stroke-width="2.1"/>
<line x1="1267.8" y1="1080.9" x2="1278.8" y2="1080.9" stroke="#2c5a6e" stroke-width="2.1"/>
<line x1="1388.6" y1="999.4" x2="1388.6" y2="1017.2" stroke="#2c5a6e" stroke-width="2.1"/>
<line x1="1383.1" y1="999.4" x2="1394.1" y2="999.4" stroke="#2c5a6e" stroke-width="2.1"/>
<line x1="1383.1" y1="1017.2" x2="1394.1" y2="1017.2" stroke="#2c5a6e" stroke-width="2.1"/>
<line x1="1465.1" y1="1014.2" x2="1465.1" y2="1017.2" stroke="#2c5a6e" stroke-width="2.1"/>
<line x1="1459.6" y1="1014.2" x2="1470.6" y2="1014.2" stroke="#2c5a6e" stroke-width="2.1"/>
<line x1="1459.6" y1="1017.2" x2="1470.6" y2="1017.2" stroke="#2c5a6e" stroke-width="2.1"/>
<polyline points="1254.0,1017.2 1273.3,1052.7 1388.6,1008.3 1465.1,1015.7" fill="none" stroke="#2c5a6e" stroke-width="2.5" stroke-linejoin="round"/>
<circle cx="1254" cy="1017.2" r="4.8" fill="#2c5a6e"/>
<circle cx="1273.3" cy="1052.7" r="4.8" fill="#2c5a6e"/>
<circle cx="1388.6" cy="1008.3" r="4.8" fill="#2c5a6e"/>
<circle cx="1465.1" cy="1015.7" r="4.8" fill="#2c5a6e"/>
<text x="1382.2" y="880.9" font-size="33.4" text-anchor="middle" font-weight="bold" font-style="italic" fill="#111" >CD31</text>
<text transform="translate(1221,1022.6) rotate(-90)" font-size="18.2" font-weight="bold" text-anchor="middle" fill="#161616">dCt/REF</text>
<line x1="1576.5" y1="83.9" x2="1602" y2="83.9" stroke="#2c5a6e" stroke-width="2.8"/>
<circle cx="1589.4" cy="83.9" r="4.8" fill="#2c5a6e"/>
<text x="1617.8" y="91.2" font-size="19.8" text-anchor="start" font-weight="normal" font-style="normal" fill="#222" textLength="88.9" lengthAdjust="spacingAndGlyphs">Std (iMΦ)</text>
<line x1="1576.5" y1="130.2" x2="1602" y2="130.2" stroke="#8cc3da" stroke-width="2.8"/>
<circle cx="1589.4" cy="130.2" r="4.8" fill="#8cc3da"/>
<text x="1617.8" y="137.5" font-size="19.8" text-anchor="start" font-weight="normal" font-style="normal" fill="#222" textLength="85.5" lengthAdjust="spacingAndGlyphs">Std (iMC)</text>
<line x1="1576.5" y1="178.9" x2="1602" y2="178.9" stroke="#b51a4f" stroke-width="2.8"/>
<circle cx="1589.4" cy="178.9" r="4.8" fill="#b51a4f"/>
<text x="1617.8" y="186.2" font-size="19.8" text-anchor="start" font-weight="normal" font-style="normal" fill="#222" textLength="47.9" lengthAdjust="spacingAndGlyphs">Equal</text>
<line x1="1576.5" y1="224.8" x2="1602" y2="224.8" stroke="#e7a0b8" stroke-width="2.8"/>
<circle cx="1589.4" cy="224.8" r="4.8" fill="#e7a0b8"/>
<text x="1617.8" y="232.1" font-size="19.8" text-anchor="start" font-weight="normal" font-style="normal" fill="#222" textLength="103.2" lengthAdjust="spacingAndGlyphs">In vivo - like</text>
</svg>
</body></html>
